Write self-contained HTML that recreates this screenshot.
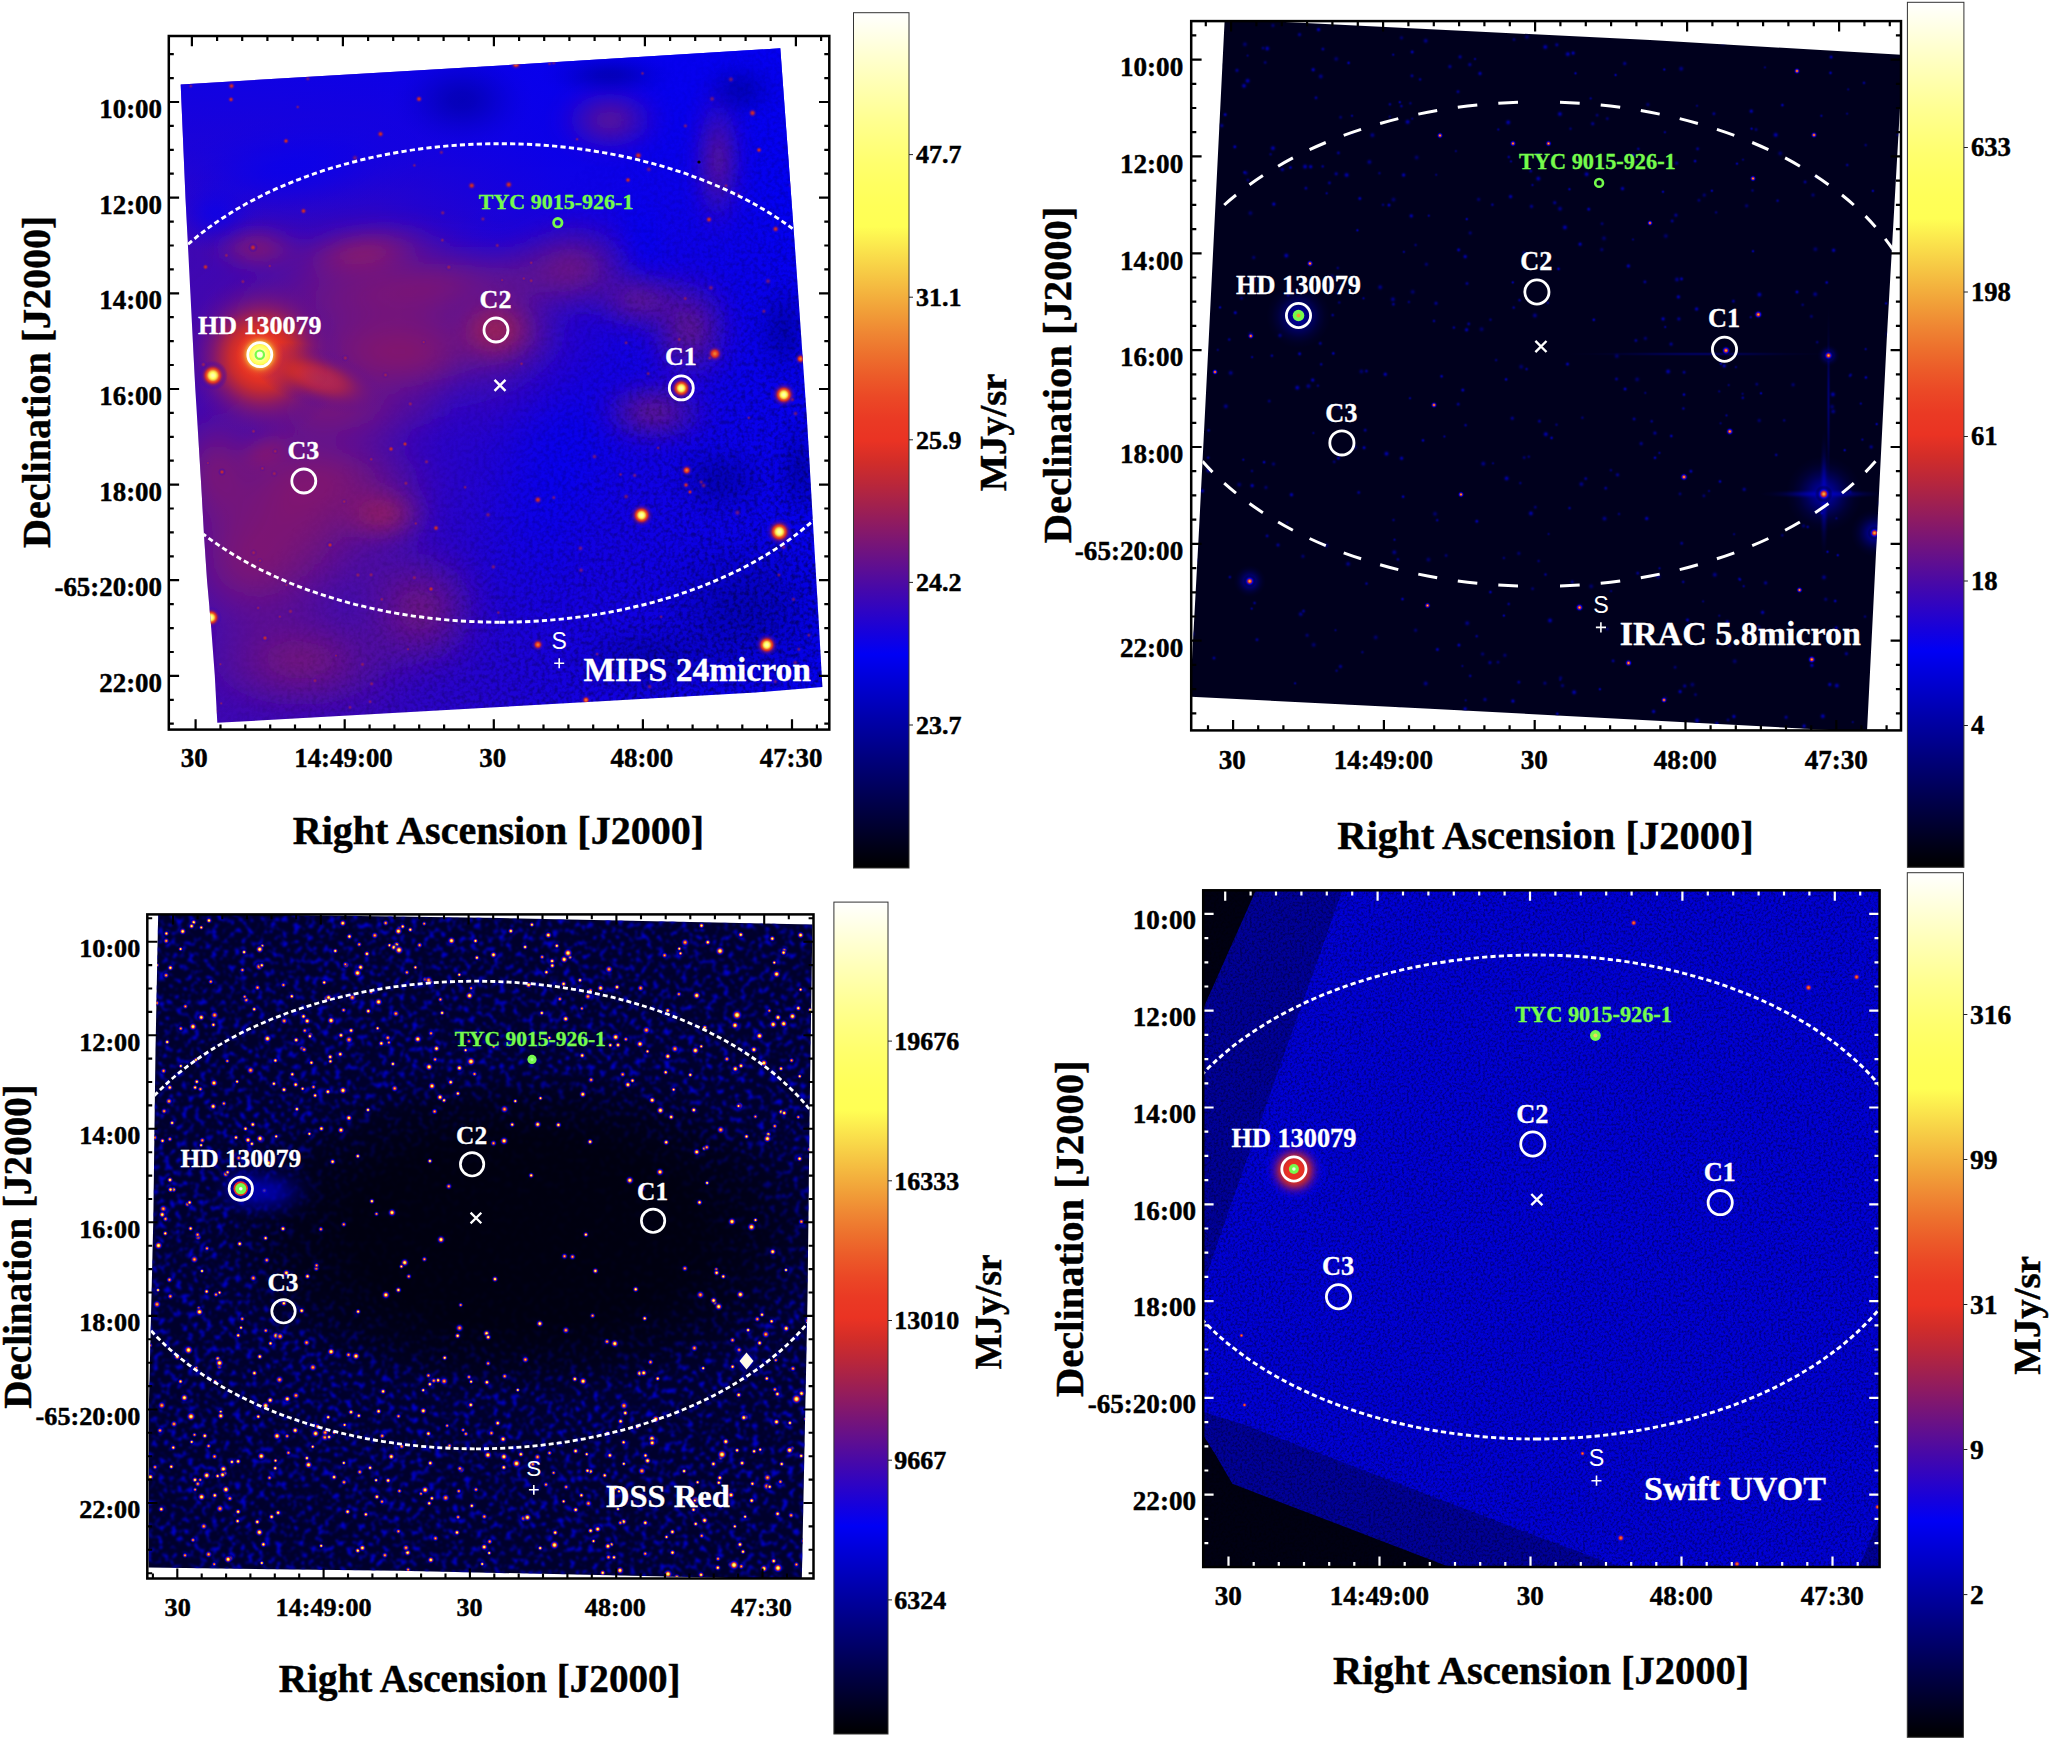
<!DOCTYPE html>
<html lang="en"><head><meta charset="utf-8"><title>HD 130079 field: MIPS, IRAC, DSS, Swift UVOT</title>
<style>html,body{margin:0;padding:0;background:#fff}svg{display:block}text{white-space:pre}</style></head>
<body>
<svg width="2050" height="1741" viewBox="0 0 2050 1741">
<defs>
<radialGradient id="gM"><stop offset="0" stop-color="#ffffb7" stop-opacity="1"/><stop offset="0.1" stop-color="#ffff9d" stop-opacity="1"/><stop offset="0.2" stop-color="#ffff65" stop-opacity="1"/><stop offset="0.3" stop-color="#f6c944" stop-opacity="1"/><stop offset="0.4" stop-color="#ec5e2a" stop-opacity="1"/><stop offset="0.5" stop-color="#d52e28" stop-opacity="1"/><stop offset="0.6" stop-color="#8e1b61" stop-opacity="0.8"/><stop offset="0.7" stop-color="#600f90" stop-opacity="0.6"/><stop offset="0.8" stop-color="#4608ab" stop-opacity="0.4"/><stop offset="0.9" stop-color="#3805b9" stop-opacity="0.2"/><stop offset="1" stop-color="#3204c0" stop-opacity="0"/></radialGradient>
<radialGradient id="gM2"><stop offset="0" stop-color="#ee8231" stop-opacity="1"/><stop offset="0.125" stop-color="#ed6e2d" stop-opacity="1"/><stop offset="0.25" stop-color="#ea4325" stop-opacity="1"/><stop offset="0.375" stop-color="#ce2c2c" stop-opacity="1"/><stop offset="0.5" stop-color="#901b60" stop-opacity="0.83"/><stop offset="0.625" stop-color="#620f8e" stop-opacity="0.62"/><stop offset="0.75" stop-color="#4608ab" stop-opacity="0.42"/><stop offset="0.875" stop-color="#3805ba" stop-opacity="0.21"/><stop offset="1" stop-color="#3104c0" stop-opacity="0"/></radialGradient>
<radialGradient id="gR"><stop offset="0" stop-color="#ce2c2c" stop-opacity="1"/><stop offset="0.167" stop-color="#bf2836" stop-opacity="1"/><stop offset="0.333" stop-color="#9a1e56" stop-opacity="1"/><stop offset="0.5" stop-color="#71137f" stop-opacity="0.83"/><stop offset="0.667" stop-color="#500ba1" stop-opacity="0.56"/><stop offset="0.833" stop-color="#3c06b5" stop-opacity="0.28"/><stop offset="1" stop-color="#3304bf" stop-opacity="0"/></radialGradient>
<radialGradient id="gP"><stop offset="0" stop-color="#951d5a" stop-opacity="0.6"/><stop offset="0.167" stop-color="#951d5a" stop-opacity="0.55"/><stop offset="0.333" stop-color="#951d5a" stop-opacity="0.42"/><stop offset="0.5" stop-color="#951d5a" stop-opacity="0.27"/><stop offset="0.667" stop-color="#951d5a" stop-opacity="0.14"/><stop offset="0.833" stop-color="#951d5a" stop-opacity="0.047"/><stop offset="1" stop-color="#951d5a" stop-opacity="0"/></radialGradient>
<radialGradient id="gP2"><stop offset="0" stop-color="#c42932" stop-opacity="0.55"/><stop offset="0.167" stop-color="#c42932" stop-opacity="0.5"/><stop offset="0.333" stop-color="#c42932" stop-opacity="0.39"/><stop offset="0.5" stop-color="#c42932" stop-opacity="0.24"/><stop offset="0.667" stop-color="#c42932" stop-opacity="0.12"/><stop offset="0.833" stop-color="#c42932" stop-opacity="0.043"/><stop offset="1" stop-color="#c42932" stop-opacity="0"/></radialGradient>
<radialGradient id="gD"><stop offset="0" stop-color="#00009c" stop-opacity="0.6"/><stop offset="0.167" stop-color="#00009c" stop-opacity="0.55"/><stop offset="0.333" stop-color="#00009c" stop-opacity="0.42"/><stop offset="0.5" stop-color="#00009c" stop-opacity="0.27"/><stop offset="0.667" stop-color="#00009c" stop-opacity="0.14"/><stop offset="0.833" stop-color="#00009c" stop-opacity="0.047"/><stop offset="1" stop-color="#00009c" stop-opacity="0"/></radialGradient>
<radialGradient id="gBl"><stop offset="0" stop-color="#0000f5" stop-opacity="0.8"/><stop offset="0.167" stop-color="#0000f5" stop-opacity="0.73"/><stop offset="0.333" stop-color="#0000f5" stop-opacity="0.56"/><stop offset="0.5" stop-color="#0000f5" stop-opacity="0.36"/><stop offset="0.667" stop-color="#0000f5" stop-opacity="0.18"/><stop offset="0.833" stop-color="#0000f5" stop-opacity="0.063"/><stop offset="1" stop-color="#0000f5" stop-opacity="0"/></radialGradient>
<radialGradient id="gHM"><stop offset="0" stop-color="#ea3d25" stop-opacity="1"/><stop offset="0.1" stop-color="#ea3a24" stop-opacity="1"/><stop offset="0.2" stop-color="#ea3624" stop-opacity="1"/><stop offset="0.3" stop-color="#df3025" stop-opacity="1"/><stop offset="0.4" stop-color="#c62a30" stop-opacity="1"/><stop offset="0.5" stop-color="#ac2345" stop-opacity="0.91"/><stop offset="0.6" stop-color="#941c5c" stop-opacity="0.73"/><stop offset="0.7" stop-color="#7f1771" stop-opacity="0.55"/><stop offset="0.8" stop-color="#6e1282" stop-opacity="0.36"/><stop offset="0.9" stop-color="#610f8f" stop-opacity="0.18"/><stop offset="1" stop-color="#580d98" stop-opacity="0"/></radialGradient>
<radialGradient id="gHC"><stop offset="0" stop-color="#ffffe3" stop-opacity="1"/><stop offset="0.1" stop-color="#ffffd3" stop-opacity="1"/><stop offset="0.2" stop-color="#ffffa9" stop-opacity="1"/><stop offset="0.3" stop-color="#ffff74" stop-opacity="1"/><stop offset="0.4" stop-color="#ffff55" stop-opacity="1"/><stop offset="0.5" stop-color="#f5c042" stop-opacity="1"/><stop offset="0.6" stop-color="#ef8833" stop-opacity="1"/><stop offset="0.7" stop-color="#ec622b" stop-opacity="0.75"/><stop offset="0.8" stop-color="#eb4b27" stop-opacity="0.5"/><stop offset="0.9" stop-color="#ea4125" stop-opacity="0.25"/><stop offset="1" stop-color="#ea3c24" stop-opacity="0"/></radialGradient>
<radialGradient id="gB"><stop offset="0" stop-color="#0000ba" stop-opacity="1"/><stop offset="0.2" stop-color="#0000a8" stop-opacity="1"/><stop offset="0.4" stop-color="#00007e" stop-opacity="0.8"/><stop offset="0.6" stop-color="#000052" stop-opacity="0.53"/><stop offset="0.8" stop-color="#000034" stop-opacity="0.27"/><stop offset="1" stop-color="#000025" stop-opacity="0"/></radialGradient>
<radialGradient id="gO"><stop offset="0" stop-color="#f4bb40" stop-opacity="1"/><stop offset="0.111" stop-color="#f09536" stop-opacity="1"/><stop offset="0.222" stop-color="#ea4125" stop-opacity="1"/><stop offset="0.333" stop-color="#8f1b61" stop-opacity="1"/><stop offset="0.444" stop-color="#1401df" stop-opacity="1"/><stop offset="0.556" stop-color="#0000a5" stop-opacity="0.81"/><stop offset="0.667" stop-color="#000062" stop-opacity="0.61"/><stop offset="0.778" stop-color="#00003c" stop-opacity="0.4"/><stop offset="0.889" stop-color="#000029" stop-opacity="0.2"/><stop offset="1" stop-color="#000021" stop-opacity="0"/></radialGradient>
<radialGradient id="gG"><stop offset="0" stop-color="#0000c4" stop-opacity="0.8"/><stop offset="0.167" stop-color="#0000c4" stop-opacity="0.72"/><stop offset="0.333" stop-color="#0000c4" stop-opacity="0.53"/><stop offset="0.5" stop-color="#0000c4" stop-opacity="0.32"/><stop offset="0.667" stop-color="#0000c4" stop-opacity="0.15"/><stop offset="0.833" stop-color="#0000c4" stop-opacity="0.048"/><stop offset="1" stop-color="#0000c4" stop-opacity="0"/></radialGradient>
<radialGradient id="gY"><stop offset="0" stop-color="#ffff95" stop-opacity="1"/><stop offset="0.111" stop-color="#ffff71" stop-opacity="1"/><stop offset="0.222" stop-color="#f7cc45" stop-opacity="1"/><stop offset="0.333" stop-color="#ea3b24" stop-opacity="1"/><stop offset="0.444" stop-color="#66108a" stop-opacity="1"/><stop offset="0.556" stop-color="#0000df" stop-opacity="0.81"/><stop offset="0.667" stop-color="#000089" stop-opacity="0.61"/><stop offset="0.778" stop-color="#000058" stop-opacity="0.4"/><stop offset="0.889" stop-color="#000040" stop-opacity="0.2"/><stop offset="1" stop-color="#000036" stop-opacity="0"/></radialGradient>
<radialGradient id="gY2"><stop offset="0" stop-color="#f7ce46" stop-opacity="1"/><stop offset="0.125" stop-color="#f2a33a" stop-opacity="1"/><stop offset="0.25" stop-color="#ea4225" stop-opacity="1"/><stop offset="0.375" stop-color="#871968" stop-opacity="1"/><stop offset="0.5" stop-color="#0900ea" stop-opacity="0.86"/><stop offset="0.625" stop-color="#00009e" stop-opacity="0.65"/><stop offset="0.75" stop-color="#000063" stop-opacity="0.43"/><stop offset="0.875" stop-color="#000045" stop-opacity="0.22"/><stop offset="1" stop-color="#000038" stop-opacity="0"/></radialGradient>
<radialGradient id="gS"><stop offset="0" stop-color="#ee8231" stop-opacity="1"/><stop offset="0.125" stop-color="#ec682c" stop-opacity="1"/><stop offset="0.25" stop-color="#ea3724" stop-opacity="1"/><stop offset="0.375" stop-color="#a2204f" stop-opacity="1"/><stop offset="0.5" stop-color="#500ba0" stop-opacity="0.91"/><stop offset="0.625" stop-color="#1401df" stop-opacity="0.68"/><stop offset="0.75" stop-color="#0000e4" stop-opacity="0.45"/><stop offset="0.875" stop-color="#0000d1" stop-opacity="0.23"/><stop offset="1" stop-color="#0000c8" stop-opacity="0"/></radialGradient>
<radialGradient id="gHR"><stop offset="0" stop-color="#ea3323" stop-opacity="1"/><stop offset="0.1" stop-color="#ea3323" stop-opacity="1"/><stop offset="0.2" stop-color="#ea3323" stop-opacity="1"/><stop offset="0.3" stop-color="#e33125" stop-opacity="1"/><stop offset="0.4" stop-color="#c72a30" stop-opacity="1"/><stop offset="0.5" stop-color="#9e1f52" stop-opacity="0.91"/><stop offset="0.6" stop-color="#6f1381" stop-opacity="0.73"/><stop offset="0.7" stop-color="#4207af" stop-opacity="0.55"/><stop offset="0.8" stop-color="#1e02d5" stop-opacity="0.36"/><stop offset="0.9" stop-color="#0400f0" stop-opacity="0.18"/><stop offset="1" stop-color="#0000e7" stop-opacity="0"/></radialGradient>
<linearGradient id="cbg" x1="0" y1="1" x2="0" y2="0"><stop offset="0" stop-color="#000000"/><stop offset="0.025" stop-color="#000018"/><stop offset="0.05" stop-color="#000031"/><stop offset="0.075" stop-color="#000049"/><stop offset="0.1" stop-color="#000062"/><stop offset="0.125" stop-color="#00007a"/><stop offset="0.15" stop-color="#000093"/><stop offset="0.175" stop-color="#0000ab"/><stop offset="0.2" stop-color="#0000c4"/><stop offset="0.225" stop-color="#0000dc"/><stop offset="0.25" stop-color="#0000f5"/><stop offset="0.275" stop-color="#1601dc"/><stop offset="0.3" stop-color="#2e04c4"/><stop offset="0.325" stop-color="#4508ab"/><stop offset="0.35" stop-color="#5d0e93"/><stop offset="0.375" stop-color="#74147b"/><stop offset="0.4" stop-color="#8c1a64"/><stop offset="0.425" stop-color="#a3214d"/><stop offset="0.45" stop-color="#bb2739"/><stop offset="0.475" stop-color="#d22d29"/><stop offset="0.5" stop-color="#ea3323"/><stop offset="0.525" stop-color="#ea3a24"/><stop offset="0.55" stop-color="#eb4826"/><stop offset="0.575" stop-color="#ec5b29"/><stop offset="0.6" stop-color="#ed702d"/><stop offset="0.625" stop-color="#ef8633"/><stop offset="0.65" stop-color="#f19e38"/><stop offset="0.675" stop-color="#f4b63f"/><stop offset="0.7" stop-color="#f7ce46"/><stop offset="0.725" stop-color="#fbe64d"/><stop offset="0.75" stop-color="#ffff54"/><stop offset="0.775" stop-color="#ffff58"/><stop offset="0.8" stop-color="#ffff61"/><stop offset="0.825" stop-color="#ffff6e"/><stop offset="0.85" stop-color="#ffff7f"/><stop offset="0.875" stop-color="#ffff91"/><stop offset="0.9" stop-color="#ffffa6"/><stop offset="0.925" stop-color="#ffffbb"/><stop offset="0.95" stop-color="#ffffd1"/><stop offset="0.975" stop-color="#ffffe8"/><stop offset="1" stop-color="#ffffff"/></linearGradient>
<clipPath id="frame1"><rect x="168.8" y="36" width="660.5" height="693.6"/></clipPath>
<clipPath id="clip1" clip-path="url(#frame1)"><polygon points="180.7,84.4 480,66.8 780.3,48.3 795.5,255 807,420 818.6,620 822.4,687 755.5,692.5 500,707 217.3,722.8 214.8,675.5 211,625 207,580 204,535 201.2,484.5 195.3,388.8 190.4,293.5 185.5,198"/></clipPath>
<clipPath id="frame2"><rect x="1191.2" y="21.1" width="709.8" height="709.3"/></clipPath>
<clipPath id="clip2" clip-path="url(#frame2)"><polygon points="1224.7,19 1650,40 1903,54.9 1886.7,340 1867,732 1430,708.7 1190,696.8 1199,530 1208.7,340"/></clipPath>
<clipPath id="frame3"><rect x="147.3" y="914.4" width="666.2" height="664.1"/></clipPath>
<clipPath id="clip3" clip-path="url(#frame3)"><polygon points="158.2,913 500,918 812.4,924.5 809.5,1120 807.5,1300 801.8,1580 712,1577.5 400,1570.8 148.6,1567.5 149,1400 153.3,1220 155.5,1050"/></clipPath>
<clipPath id="frame4"><rect x="1203.2" y="890.3" width="676.4" height="676.7"/></clipPath>
<clipPath id="clip4" clip-path="url(#frame4)"><polygon points="1203,890 1880,890 1880,1567 1203,1567"/></clipPath>
<linearGradient id="bg1" gradientUnits="userSpaceOnUse" x1="180" y1="0" x2="830" y2="0"><stop offset="0" stop-color="#3f07b2"/><stop offset="0.3" stop-color="#3505bc"/><stop offset="0.58" stop-color="#1601dc"/><stop offset="1" stop-color="#0400f0"/></linearGradient>
<linearGradient id="top1" gradientUnits="userSpaceOnUse" x1="0" y1="50" x2="0" y2="250"><stop offset="0" stop-color="#0400f0" stop-opacity="0.85"/><stop offset="0.5" stop-color="#0400f0" stop-opacity="0.6"/><stop offset="1" stop-color="#0400f0" stop-opacity="0"/></linearGradient>
<filter id="bl1" x="-0.1" y="-0.1" width="1.2" height="1.2"><feGaussianBlur stdDeviation="9"/></filter>
<filter id="n1" x="0" y="0" width="1" height="1" color-interpolation-filters="sRGB"><feTurbulence type="fractalNoise" baseFrequency="0.24" numOctaves="2" seed="4"/><feColorMatrix values="0 0 0 0 0.000  0 0 0 0 0.000  0 0 0 0 0.000  2.6 0 0 0 -1.05"/></filter>
<linearGradient id="n1m" gradientUnits="userSpaceOnUse" x1="470" y1="300" x2="800" y2="560"><stop offset="0" stop-color="#fff" stop-opacity="0"/><stop offset="1" stop-color="#fff" stop-opacity="1"/></linearGradient><mask id="m1"><rect x="160" y="30" width="680" height="710" fill="url(#n1m)"/></mask>
<filter id="n3" x="0" y="0" width="1" height="1" color-interpolation-filters="sRGB"><feTurbulence type="fractalNoise" baseFrequency="0.17" numOctaves="2" seed="7"/><feColorMatrix values="0 0 0 0 0.000  0 0 0 0 0.000  0 0 0 0 0.804  4.8 0 0 0 -2.5"/><feGaussianBlur stdDeviation="0.9"/></filter>
<radialGradient id="dk3"><stop offset="0" stop-color="#00000e" stop-opacity="0.97"/><stop offset="0.55" stop-color="#00000e" stop-opacity="0.93"/><stop offset="0.78" stop-color="#00000e" stop-opacity="0.6"/><stop offset="1" stop-color="#00000e" stop-opacity="0"/></radialGradient>
<filter id="n4" x="0" y="0" width="1" height="1" color-interpolation-filters="sRGB"><feTurbulence type="fractalNoise" baseFrequency="0.42" numOctaves="2" seed="9"/><feColorMatrix values="0 0 0 0 0.000  0 0 0 0 0.000  0 0 0 0 0.000  3.0 0 0 0 -1.25"/></filter>
</defs>
<rect width="2050" height="1741" fill="#fff"/>
<g id="panel1">
<polygon points="180.7,84.4 480,66.8 780.3,48.3 795.5,255 807,420 818.6,620 822.4,687 755.5,692.5 500,707 217.3,722.8 214.8,675.5 211,625 207,580 204,535 201.2,484.5 195.3,388.8 190.4,293.5 185.5,198" fill="url(#bg1)"/>
<g clip-path="url(#clip1)">
<rect x="170" y="40" width="660" height="215" fill="url(#top1)"/>
<ellipse cx="560" cy="470" rx="90" ry="190" fill="url(#gBl)" opacity="0.75" transform="rotate(20 560 470)"/>
<ellipse cx="470" cy="330" rx="50" ry="130" fill="url(#gBl)" opacity="0.75" transform="rotate(10 470 330)"/>
<ellipse cx="640" cy="250" rx="40" ry="90" fill="url(#gBl)" opacity="0.75" transform="rotate(0 640 250)"/>
<ellipse cx="290" cy="170" rx="150" ry="55" fill="url(#gBl)" opacity="0.75" transform="rotate(-8 290 170)"/>
<ellipse cx="215" cy="215" rx="50" ry="40" fill="url(#gBl)" opacity="0.75" transform="rotate(0 215 215)"/>
<ellipse cx="790" cy="200" rx="45" ry="110" fill="url(#gBl)" opacity="0.75" transform="rotate(0 790 200)"/>
<g filter="url(#bl1)">
<ellipse cx="400" cy="335" rx="250" ry="120" fill="url(#gP)"/>
<ellipse cx="300" cy="520" rx="150" ry="130" fill="url(#gP)"/>
<ellipse cx="363" cy="252" rx="95" ry="34" fill="url(#gP2)" transform="rotate(-8 363 252)"/>
<ellipse cx="257" cy="248" rx="55" ry="26" fill="url(#gP2)"/>
<ellipse cx="430" cy="285" rx="230" ry="48" fill="url(#gP)" transform="rotate(-4 430 285)"/>
<ellipse cx="400" cy="355" rx="120" ry="50" fill="url(#gP)"/>
<ellipse cx="500" cy="330" rx="70" ry="55" fill="url(#gP)"/>
<ellipse cx="573" cy="266" rx="80" ry="60" fill="url(#gP)"/>
<ellipse cx="718" cy="160" rx="30" ry="85" fill="url(#gP)"/>
<ellipse cx="495" cy="330" rx="45" ry="36" fill="url(#gP2)"/>
<ellipse cx="690" cy="330" rx="55" ry="70" fill="url(#gP)"/>
<ellipse cx="654" cy="412" rx="70" ry="40" fill="url(#gP)"/>
<ellipse cx="330" cy="410" rx="130" ry="50" fill="url(#gP)"/>
<ellipse cx="320" cy="480" rx="140" ry="70" fill="url(#gP)"/>
<ellipse cx="385" cy="515" rx="55" ry="36" fill="url(#gP2)"/>
<ellipse cx="250" cy="560" rx="100" ry="100" fill="url(#gP)"/>
<ellipse cx="300" cy="660" rx="130" ry="70" fill="url(#gP)"/>
<ellipse cx="420" cy="610" rx="80" ry="80" fill="url(#gP)"/>
<ellipse cx="265" cy="452" rx="35" ry="16" fill="url(#gP2)" transform="rotate(-20 265 452)"/>
<ellipse cx="215" cy="470" rx="50" ry="80" fill="url(#gP)"/>
<ellipse cx="610" cy="120" rx="60" ry="40" fill="url(#gP)"/>
<ellipse cx="640" cy="300" rx="60" ry="40" fill="url(#gP)"/>
</g>
<ellipse cx="462" cy="100" rx="70" ry="48" fill="url(#gD)"/>
<ellipse cx="745" cy="610" rx="110" ry="95" fill="url(#gD)"/>
<ellipse cx="783" cy="330" rx="35" ry="60" fill="url(#gD)"/>
<ellipse cx="650" cy="660" rx="90" ry="45" fill="url(#gD)"/>
<ellipse cx="720" cy="480" rx="60" ry="45" fill="url(#gD)"/>
<ellipse cx="800" cy="470" rx="30" ry="60" fill="url(#gD)"/>
<ellipse cx="610" cy="75" rx="70" ry="25" fill="url(#gD)"/>
<ellipse cx="740" cy="90" rx="45" ry="35" fill="url(#gD)"/>
<g mask="url(#m1)"><rect x="170" y="40" width="660" height="690" filter="url(#n1)" opacity="0.42"/></g>
<circle cx="262" cy="357" r="82" fill="url(#gHM)"/>
<ellipse cx="318" cy="378" rx="70" ry="30" fill="url(#gHM)" opacity="0.55" transform="rotate(18 318 378)"/>
<circle cx="259.8" cy="354.6" r="24" fill="url(#gHC)"/>
<circle cx="212.9" cy="375.5" r="15" fill="url(#gM)"/>
<circle cx="681.3" cy="388.2" r="12" fill="url(#gM)"/>
<circle cx="783.8" cy="394.7" r="12.5" fill="url(#gM)"/>
<circle cx="641.6" cy="515.2" r="12" fill="url(#gM)"/>
<circle cx="779.3" cy="531.8" r="13.5" fill="url(#gM)"/>
<circle cx="766.8" cy="644.9" r="11.5" fill="url(#gM)"/>
<circle cx="211" cy="617.5" r="11" fill="url(#gM)"/>
<circle cx="714.8" cy="353.7" r="9" fill="url(#gM2)"/>
<circle cx="800.6" cy="358.8" r="6" fill="url(#gM2)"/>
<circle cx="686.7" cy="470.3" r="6" fill="url(#gM2)"/>
<circle cx="537.9" cy="644.7" r="6.5" fill="url(#gM2)"/>
<circle cx="516" cy="64" r="6" fill="url(#gM2)"/>
<circle cx="586" cy="700" r="5" fill="url(#gM2)"/>
<circle cx="537.9" cy="499.8" r="4.5" fill="url(#gR)"/>
<circle cx="471.7" cy="185.6" r="4.5" fill="url(#gR)"/>
<circle cx="508.7" cy="184.6" r="4.5" fill="url(#gR)"/>
<circle cx="638.3" cy="155.5" r="4.5" fill="url(#gR)"/>
<circle cx="303.5" cy="211" r="4" fill="url(#gR)"/>
<circle cx="231.5" cy="86" r="4" fill="url(#gR)"/>
<circle cx="231" cy="99.5" r="3.5" fill="url(#gR)"/>
<circle cx="752.5" cy="113" r="4.5" fill="url(#gR)"/>
<circle cx="709" cy="219.5" r="4" fill="url(#gR)"/>
<circle cx="253" cy="247.5" r="5" fill="url(#gR)"/>
<circle cx="205.5" cy="267" r="4" fill="url(#gR)"/>
<circle cx="380.5" cy="134" r="4" fill="url(#gR)"/>
<circle cx="286" cy="141" r="3.5" fill="url(#gR)"/>
<circle cx="265" cy="638" r="4" fill="url(#gR)"/>
<circle cx="431" cy="589" r="4" fill="url(#gR)"/>
<circle cx="391" cy="449" r="4" fill="url(#gR)"/>
<circle cx="419" cy="99" r="4" fill="url(#gR)"/>
<circle cx="775.6" cy="229" r="4" fill="url(#gR)"/>
<circle cx="686" cy="485" r="3.5" fill="url(#gR)"/>
<circle cx="690" cy="492" r="3" fill="url(#gR)"/>
<circle cx="222" cy="472" r="4" fill="url(#gR)"/>
<circle cx="330" cy="545" r="4" fill="url(#gR)"/>
<circle cx="405" cy="444" r="3.5" fill="url(#gR)"/>
<circle cx="436" cy="528" r="4" fill="url(#gR)"/>
<circle cx="759" cy="150" r="3.5" fill="url(#gR)"/>
<circle cx="628" cy="180" r="3.5" fill="url(#gR)"/>
<circle cx="580.5" cy="548.3" r="3.7" fill="url(#gR)" opacity="0.5"/>
<circle cx="783.5" cy="547" r="3.9" fill="url(#gR)" opacity="0.5"/>
<circle cx="203.4" cy="364.6" r="3.9" fill="url(#gR)" opacity="0.5"/>
<circle cx="597.1" cy="654.1" r="2.7" fill="url(#gR)" opacity="0.5"/>
<circle cx="482.9" cy="219" r="3.3" fill="url(#gR)" opacity="0.5"/>
<circle cx="549.5" cy="63.7" r="2.8" fill="url(#gR)" opacity="0.5"/>
<circle cx="362.5" cy="664.4" r="3.6" fill="url(#gR)" opacity="0.5"/>
<circle cx="286.3" cy="585.1" r="2.7" fill="url(#gR)" opacity="0.5"/>
<circle cx="577.1" cy="139.3" r="2.5" fill="url(#gR)" opacity="0.5"/>
<circle cx="738.3" cy="194.3" r="2.8" fill="url(#gR)" opacity="0.5"/>
<circle cx="808.8" cy="635.2" r="2.9" fill="url(#gR)" opacity="0.5"/>
<circle cx="795.5" cy="413.6" r="3.5" fill="url(#gR)" opacity="0.5"/>
<circle cx="315" cy="680.7" r="3.5" fill="url(#gR)" opacity="0.5"/>
<circle cx="798.8" cy="649.3" r="2.9" fill="url(#gR)" opacity="0.5"/>
<circle cx="414.4" cy="165.4" r="2.7" fill="url(#gR)" opacity="0.5"/>
<circle cx="226.4" cy="255.4" r="3.4" fill="url(#gR)" opacity="0.5"/>
<circle cx="187.1" cy="505.8" r="3" fill="url(#gR)" opacity="0.5"/>
<circle cx="381.8" cy="599.3" r="3.2" fill="url(#gR)" opacity="0.5"/>
<circle cx="385.5" cy="375" r="3.6" fill="url(#gR)" opacity="0.5"/>
<circle cx="221.2" cy="703.4" r="2.5" fill="url(#gR)" opacity="0.5"/>
<circle cx="661.1" cy="616.8" r="2.5" fill="url(#gR)" opacity="0.5"/>
<circle cx="685.2" cy="298.5" r="3.4" fill="url(#gR)" opacity="0.5"/>
<circle cx="190.8" cy="86.1" r="2.8" fill="url(#gR)" opacity="0.5"/>
<circle cx="791.5" cy="185.7" r="3.6" fill="url(#gR)" opacity="0.5"/>
<circle cx="775.3" cy="681.5" r="3" fill="url(#gR)" opacity="0.5"/>
<circle cx="410.3" cy="403.9" r="3.7" fill="url(#gR)" opacity="0.5"/>
<circle cx="253.6" cy="552.7" r="3.7" fill="url(#gR)" opacity="0.5"/>
<circle cx="730.9" cy="79.4" r="3.9" fill="url(#gR)" opacity="0.5"/>
<circle cx="242.9" cy="281.6" r="3.4" fill="url(#gR)" opacity="0.5"/>
<circle cx="768" cy="281.1" r="3.9" fill="url(#gR)" opacity="0.5"/>
<circle cx="531.2" cy="262.8" r="3" fill="url(#gR)" opacity="0.5"/>
<circle cx="297.7" cy="107" r="2.7" fill="url(#gR)" opacity="0.5"/>
<circle cx="622.6" cy="717.8" r="2.7" fill="url(#gR)" opacity="0.5"/>
<circle cx="215.8" cy="711.2" r="3.3" fill="url(#gR)" opacity="0.5"/>
<circle cx="442.7" cy="212.8" r="3.4" fill="url(#gR)" opacity="0.5"/>
<circle cx="709.7" cy="358" r="3.1" fill="url(#gR)" opacity="0.5"/>
<circle cx="220.4" cy="664.2" r="2.5" fill="url(#gR)" opacity="0.5"/>
<circle cx="498.4" cy="612.6" r="2.7" fill="url(#gR)" opacity="0.5"/>
<circle cx="649.6" cy="686.6" r="3.4" fill="url(#gR)" opacity="0.5"/>
<circle cx="685.4" cy="125.9" r="3.2" fill="url(#gR)" opacity="0.5"/>
<circle cx="279.8" cy="616.7" r="2.9" fill="url(#gR)" opacity="0.5"/>
<circle cx="472.8" cy="719.5" r="3.8" fill="url(#gR)" opacity="0.5"/>
<circle cx="804.8" cy="356.6" r="3.2" fill="url(#gR)" opacity="0.5"/>
<circle cx="648.2" cy="373.6" r="2.9" fill="url(#gR)" opacity="0.5"/>
<circle cx="441.4" cy="152.4" r="3.1" fill="url(#gR)" opacity="0.5"/>
<circle cx="812.6" cy="693.3" r="3.4" fill="url(#gR)" opacity="0.5"/>
<circle cx="502.1" cy="280.1" r="2.6" fill="url(#gR)" opacity="0.5"/>
<circle cx="357.9" cy="575" r="3.8" fill="url(#gR)" opacity="0.5"/>
<circle cx="414.4" cy="577.7" r="3.7" fill="url(#gR)" opacity="0.5"/>
<circle cx="626.1" cy="496.6" r="3.6" fill="url(#gR)" opacity="0.5"/>
<circle cx="415.8" cy="523.5" r="2.9" fill="url(#gR)" opacity="0.5"/>
<circle cx="493.4" cy="566.9" r="3.5" fill="url(#gR)" opacity="0.5"/>
<circle cx="371.6" cy="683.8" r="3.5" fill="url(#gR)" opacity="0.5"/>
<circle cx="553.7" cy="62.7" r="3.3" fill="url(#gR)" opacity="0.5"/>
<circle cx="344.2" cy="501.6" r="3.2" fill="url(#gR)" opacity="0.5"/>
<circle cx="703.6" cy="485.5" r="3.7" fill="url(#gR)" opacity="0.5"/>
<circle cx="405.9" cy="483.3" r="3.6" fill="url(#gR)" opacity="0.5"/>
<circle cx="710.9" cy="287.8" r="3.8" fill="url(#gR)" opacity="0.5"/>
<circle cx="737.4" cy="512.7" r="4" fill="url(#gR)" opacity="0.5"/>
<circle cx="792.4" cy="399.6" r="3.3" fill="url(#gR)" opacity="0.5"/>
<circle cx="290.5" cy="611.4" r="3.9" fill="url(#gR)" opacity="0.5"/>
<circle cx="488" cy="514.8" r="3.6" fill="url(#gR)" opacity="0.5"/>
<circle cx="648.8" cy="169.3" r="3.7" fill="url(#gR)" opacity="0.5"/>
<circle cx="553.8" cy="497.6" r="3.1" fill="url(#gR)" opacity="0.5"/>
<circle cx="581.1" cy="570.2" r="3.5" fill="url(#gR)" opacity="0.5"/>
<circle cx="642.5" cy="73.4" r="2.7" fill="url(#gR)" opacity="0.5"/>
<circle cx="465.1" cy="487.3" r="2.8" fill="url(#gR)" opacity="0.5"/>
<circle cx="620.6" cy="474.5" r="2.6" fill="url(#gR)" opacity="0.5"/>
<circle cx="484.5" cy="205.5" r="2.6" fill="url(#gR)" opacity="0.5"/>
<circle cx="269.8" cy="266" r="2.8" fill="url(#gR)" opacity="0.5"/>
<circle cx="307.8" cy="78.7" r="3.2" fill="url(#gR)" opacity="0.5"/>
<circle cx="426.5" cy="461.8" r="3.4" fill="url(#gR)" opacity="0.5"/>
<circle cx="336" cy="655.6" r="2.5" fill="url(#gR)" opacity="0.5"/>
<circle cx="442.4" cy="240.2" r="3.1" fill="url(#gR)" opacity="0.5"/>
<circle cx="258.1" cy="607.9" r="3.1" fill="url(#gR)" opacity="0.5"/>
<circle cx="207.9" cy="463" r="2.6" fill="url(#gR)" opacity="0.5"/>
<circle cx="531.2" cy="280.7" r="3.4" fill="url(#gR)" opacity="0.5"/>
<circle cx="793.5" cy="599.3" r="3.1" fill="url(#gR)" opacity="0.5"/>
<circle cx="701.2" cy="482.1" r="3.1" fill="url(#gR)" opacity="0.5"/>
<circle cx="275.2" cy="451.3" r="3.3" fill="url(#gR)" opacity="0.5"/>
<circle cx="792.8" cy="698.7" r="3.4" fill="url(#gR)" opacity="0.5"/>
<circle cx="408" cy="649.2" r="2.5" fill="url(#gR)" opacity="0.5"/>
<circle cx="253.5" cy="431.3" r="3.4" fill="url(#gR)" opacity="0.5"/>
<circle cx="274.3" cy="473.6" r="3.8" fill="url(#gR)" opacity="0.5"/>
<circle cx="423.7" cy="342.1" r="2.8" fill="url(#gR)" opacity="0.5"/>
<circle cx="370.1" cy="701.7" r="3.1" fill="url(#gR)" opacity="0.5"/>
<circle cx="795.3" cy="662.6" r="3.4" fill="url(#gR)" opacity="0.5"/>
<circle cx="350" cy="707.4" r="3.2" fill="url(#gR)" opacity="0.5"/>
<circle cx="448.8" cy="267.2" r="4" fill="url(#gR)" opacity="0.5"/>
<circle cx="497.3" cy="245.5" r="3.2" fill="url(#gR)" opacity="0.5"/>
<circle cx="262.4" cy="468.4" r="3.2" fill="url(#gR)" opacity="0.5"/>
<circle cx="371.1" cy="574.8" r="3.7" fill="url(#gR)" opacity="0.5"/>
<circle cx="193.4" cy="409.2" r="2.9" fill="url(#gR)" opacity="0.5"/>
<circle cx="778.9" cy="575" r="2.9" fill="url(#gR)" opacity="0.5"/>
<circle cx="355" cy="157.9" r="4" fill="url(#gR)" opacity="0.5"/>
<circle cx="371.2" cy="459.3" r="3.2" fill="url(#gR)" opacity="0.5"/>
<circle cx="594.5" cy="456.6" r="3.6" fill="url(#gR)" opacity="0.5"/>
<circle cx="260" cy="560.7" r="3" fill="url(#gR)" opacity="0.5"/>
<circle cx="523.8" cy="278.5" r="2.9" fill="url(#gR)" opacity="0.5"/>
<circle cx="521.5" cy="363.8" r="3" fill="url(#gR)" opacity="0.5"/>
<circle cx="658.1" cy="447.9" r="2.6" fill="url(#gR)" opacity="0.5"/>
<circle cx="345.3" cy="358" r="3.9" fill="url(#gR)" opacity="0.5"/>
<circle cx="748.8" cy="417.8" r="2.5" fill="url(#gR)" opacity="0.5"/>
<circle cx="679.3" cy="339.4" r="3.4" fill="url(#gR)" opacity="0.5"/>
<circle cx="634.7" cy="475.4" r="3.2" fill="url(#gR)" opacity="0.5"/>
<circle cx="763.9" cy="311.3" r="3.1" fill="url(#gR)" opacity="0.5"/>
<circle cx="726" cy="185.7" r="2.9" fill="url(#gR)" opacity="0.5"/>
<circle cx="712.1" cy="98.9" r="3.8" fill="url(#gR)" opacity="0.5"/>
<circle cx="626.1" cy="342.8" r="2.9" fill="url(#gR)" opacity="0.5"/>
<circle cx="680.8" cy="660.6" r="2.7" fill="url(#gR)" opacity="0.5"/>
<circle cx="699" cy="162" r="1.6" fill="#000"/>
</g>
<path d="M500 622.2A382.8 239.2 0 0 0 882.8 382.9A382.8 239.2 0 0 0 500 143.7A382.8 239.2 0 0 0 117.2 382.9A382.8 239.2 0 0 0 500 622.2" fill="none" stroke="#fff" stroke-width="2.9" stroke-dasharray="5.2 3.2" clip-path="url(#clip1)"/>
<path d="M494.5 379.8l11 11M494.5 390.8l11 -11" stroke="#fff" stroke-width="2.4" fill="none"/>
<circle cx="259.8" cy="354.7" r="12" fill="none" stroke="#fff" stroke-width="2.8"/>
<circle cx="259.8" cy="354.7" r="4.2" fill="none" stroke="#75fb4c" stroke-width="2.2"/>
<text x="259.8" y="333.7" font-family="'Liberation Serif', serif" font-size="26" font-weight="bold" fill="#fff" text-anchor="middle" stroke="#fff" stroke-width="0.3">HD 130079</text>
<circle cx="681.3" cy="387.9" r="12" fill="none" stroke="#fff" stroke-width="2.8"/>
<text x="680.8" y="365.4" font-family="'Liberation Serif', serif" font-size="26" font-weight="bold" fill="#fff" text-anchor="middle" stroke="#fff" stroke-width="0.3">C1</text>
<circle cx="496" cy="330" r="12" fill="none" stroke="#fff" stroke-width="2.8"/>
<text x="495.5" y="307.5" font-family="'Liberation Serif', serif" font-size="26" font-weight="bold" fill="#fff" text-anchor="middle" stroke="#fff" stroke-width="0.3">C2</text>
<circle cx="303.8" cy="481" r="12" fill="none" stroke="#fff" stroke-width="2.8"/>
<text x="303.3" y="458.5" font-family="'Liberation Serif', serif" font-size="26" font-weight="bold" fill="#fff" text-anchor="middle" stroke="#fff" stroke-width="0.3">C3</text>
<circle cx="557.8" cy="222.7" r="4.2" fill="none" stroke="#75fb4c" stroke-width="2.8"/>
<text x="556.1" y="209" font-family="'Liberation Serif', serif" font-size="22" font-weight="bold" fill="#75fb4c" text-anchor="middle" stroke="#75fb4c" stroke-width="0.3">TYC 9015-926-1</text>
<path d="M554.2 663.2h10M559.2 658.2v10" stroke="#fff" stroke-width="1.6" fill="none"/>
<text x="559.2" y="648.6" font-family="'Liberation Sans', sans-serif" font-size="23" font-weight="normal" fill="#fff" text-anchor="middle">S</text>
<text x="583.5" y="680.7" font-family="'Liberation Serif', serif" font-size="33.5" font-weight="bold" fill="#fff" text-anchor="start" stroke="#fff" stroke-width="0.3">MIPS 24micron</text>
<path d="M168.8 54.2h5M829.3 54.2h-5M168.8 78.1h5M829.3 78.1h-5M168.8 102h10.3M829.3 102h-10.3M168.8 125.9h5M829.3 125.9h-5M168.8 149.8h5M829.3 149.8h-5M168.8 173.7h5M829.3 173.7h-5M168.8 197.7h10.3M829.3 197.7h-10.3M168.8 221.6h5M829.3 221.6h-5M168.8 245.5h5M829.3 245.5h-5M168.8 269.4h5M829.3 269.4h-5M168.8 293.3h10.3M829.3 293.3h-10.3M168.8 317.2h5M829.3 317.2h-5M168.8 341.1h5M829.3 341.1h-5M168.8 365h5M829.3 365h-5M168.8 389h10.3M829.3 389h-10.3M168.8 412.9h5M829.3 412.9h-5M168.8 436.8h5M829.3 436.8h-5M168.8 460.7h5M829.3 460.7h-5M168.8 484.6h10.3M829.3 484.6h-10.3M168.8 508.5h5M829.3 508.5h-5M168.8 532.4h5M829.3 532.4h-5M168.8 556.3h5M829.3 556.3h-5M168.8 580.2h10.3M829.3 580.2h-10.3M168.8 604.2h5M829.3 604.2h-5M168.8 628.1h5M829.3 628.1h-5M168.8 652h5M829.3 652h-5M168.8 675.9h10.3M829.3 675.9h-10.3M168.8 699.8h5M829.3 699.8h-5M168.8 723.7h5M829.3 723.7h-5M191.9 36v10.3M195.6 729.6v-10.3M217.1 36v5M220.5 729.6v-5M242.2 36v5M245.3 729.6v-5M267.4 36v5M270.2 729.6v-5M292.6 36v5M295 729.6v-5M317.7 36v5M319.9 729.6v-5M342.9 36v10.3M344.7 729.6v-10.3M368.1 36v5M369.6 729.6v-5M393.2 36v5M394.4 729.6v-5M418.4 36v5M419.2 729.6v-5M443.6 36v5M444.1 729.6v-5M468.7 36v5M468.9 729.6v-5M493.9 36v10.3M493.8 729.6v-10.3M519.1 36v5M518.6 729.6v-5M544.2 36v5M543.5 729.6v-5M569.4 36v5M568.4 729.6v-5M594.6 36v5M593.2 729.6v-5M619.7 36v5M618 729.6v-5M644.9 36v10.3M642.9 729.6v-10.3M670.1 36v5M667.8 729.6v-5M695.2 36v5M692.6 729.6v-5M720.4 36v5M717.5 729.6v-5M745.6 36v5M742.3 729.6v-5M770.7 36v5M767.1 729.6v-5M795.9 36v10.3M792 729.6v-10.3M821.1 36v5M816.9 729.6v-5" stroke="#000" stroke-width="2.2" fill="none"/>
<rect x="168.8" y="36" width="660.5" height="693.6" fill="none" stroke="#000" stroke-width="2.5"/>
<text x="162" y="118.1" font-family="'Liberation Serif', serif" font-size="26.9" font-weight="bold" fill="#000" text-anchor="end" stroke="#000" stroke-width="0.45">10:00</text>
<text x="162" y="213.8" font-family="'Liberation Serif', serif" font-size="26.9" font-weight="bold" fill="#000" text-anchor="end" stroke="#000" stroke-width="0.45">12:00</text>
<text x="162" y="309.4" font-family="'Liberation Serif', serif" font-size="26.9" font-weight="bold" fill="#000" text-anchor="end" stroke="#000" stroke-width="0.45">14:00</text>
<text x="162" y="405.1" font-family="'Liberation Serif', serif" font-size="26.9" font-weight="bold" fill="#000" text-anchor="end" stroke="#000" stroke-width="0.45">16:00</text>
<text x="162" y="500.7" font-family="'Liberation Serif', serif" font-size="26.9" font-weight="bold" fill="#000" text-anchor="end" stroke="#000" stroke-width="0.45">18:00</text>
<text x="162" y="596.4" font-family="'Liberation Serif', serif" font-size="26.9" font-weight="bold" fill="#000" text-anchor="end" stroke="#000" stroke-width="0.45">-65:20:00</text>
<text x="162" y="692" font-family="'Liberation Serif', serif" font-size="26.9" font-weight="bold" fill="#000" text-anchor="end" stroke="#000" stroke-width="0.45">22:00</text>
<text x="194.3" y="766.9" font-family="'Liberation Serif', serif" font-size="26.9" font-weight="bold" fill="#000" text-anchor="middle" stroke="#000" stroke-width="0.45">30</text>
<text x="343.5" y="766.9" font-family="'Liberation Serif', serif" font-size="26.9" font-weight="bold" fill="#000" text-anchor="middle" stroke="#000" stroke-width="0.45">14:49:00</text>
<text x="492.7" y="766.9" font-family="'Liberation Serif', serif" font-size="26.9" font-weight="bold" fill="#000" text-anchor="middle" stroke="#000" stroke-width="0.45">30</text>
<text x="641.9" y="766.9" font-family="'Liberation Serif', serif" font-size="26.9" font-weight="bold" fill="#000" text-anchor="middle" stroke="#000" stroke-width="0.45">48:00</text>
<text x="791.1" y="766.9" font-family="'Liberation Serif', serif" font-size="26.9" font-weight="bold" fill="#000" text-anchor="middle" stroke="#000" stroke-width="0.45">47:30</text>
<text x="498.4" y="844.2" font-family="'Liberation Serif', serif" font-size="40" font-weight="bold" fill="#000" text-anchor="middle" stroke="#000" stroke-width="0.45">Right Ascension [J2000]</text>
<text x="0" y="0" transform="translate(50.3,381.8) rotate(-90)" font-family="'Liberation Serif', serif" font-size="40" font-weight="bold" fill="#000" text-anchor="middle" stroke="#000" stroke-width="0.45">Declination [J2000]</text>
<rect x="853.5" y="12.7" width="55.5" height="855.3" fill="url(#cbg)" stroke="#333" stroke-width="1"/>
<path d="M909 154.6h4" stroke="#222" stroke-width="1"/>
<text x="916" y="163.3" font-family="'Liberation Serif', serif" font-size="26" font-weight="bold" fill="#000" text-anchor="start" stroke="#000" stroke-width="0.45">47.7</text>
<path d="M909 297.2h4" stroke="#222" stroke-width="1"/>
<text x="916" y="305.9" font-family="'Liberation Serif', serif" font-size="26" font-weight="bold" fill="#000" text-anchor="start" stroke="#000" stroke-width="0.45">31.1</text>
<path d="M909 439.8h4" stroke="#222" stroke-width="1"/>
<text x="916" y="448.5" font-family="'Liberation Serif', serif" font-size="26" font-weight="bold" fill="#000" text-anchor="start" stroke="#000" stroke-width="0.45">25.9</text>
<path d="M909 582.4h4" stroke="#222" stroke-width="1"/>
<text x="916" y="591.1" font-family="'Liberation Serif', serif" font-size="26" font-weight="bold" fill="#000" text-anchor="start" stroke="#000" stroke-width="0.45">24.2</text>
<path d="M909 725h4" stroke="#222" stroke-width="1"/>
<text x="916" y="733.7" font-family="'Liberation Serif', serif" font-size="26" font-weight="bold" fill="#000" text-anchor="start" stroke="#000" stroke-width="0.45">23.7</text>
<text x="0" y="0" transform="translate(1005.6,432.5) rotate(-90)" font-family="'Liberation Serif', serif" font-size="38.5" font-weight="bold" fill="#000" text-anchor="middle" stroke="#000" stroke-width="0.45">MJy/sr</text>
</g>
<g id="panel2">
<polygon points="1224.7,19 1650,40 1903,54.9 1886.7,340 1867,732 1430,708.7 1190,696.8 1199,530 1208.7,340" fill="#00001d" clip-path="url(#frame2)"/>
<g clip-path="url(#clip2)">
<circle cx="1512.3" cy="418.3" r="4" fill="url(#gB)" opacity="0.6"/>
<circle cx="1551.6" cy="437.9" r="3.2" fill="url(#gB)" opacity="0.8"/>
<circle cx="1528.8" cy="456.7" r="3.2" fill="url(#gB)" opacity="0.45"/>
<circle cx="1508.2" cy="122.4" r="4.6" fill="url(#gB)" opacity="0.8"/>
<circle cx="1641.2" cy="443.6" r="4" fill="url(#gB)" opacity="0.6"/>
<circle cx="1655" cy="457.8" r="3.2" fill="url(#gB)" opacity="0.8"/>
<circle cx="1202.6" cy="396.1" r="2.8" fill="url(#gB)" opacity="0.45"/>
<circle cx="1326.7" cy="193.3" r="2.8" fill="url(#gB)" opacity="0.6"/>
<circle cx="1423" cy="440.4" r="3.2" fill="url(#gB)" opacity="0.8"/>
<circle cx="1357.4" cy="230.3" r="2.8" fill="url(#gB)" opacity="0.8"/>
<circle cx="1252.2" cy="485.6" r="4" fill="url(#gB)" opacity="0.8"/>
<circle cx="1896.9" cy="616.9" r="3.6" fill="url(#gB)" opacity="0.6"/>
<circle cx="1728.7" cy="385.1" r="2.8" fill="url(#gB)" opacity="0.45"/>
<circle cx="1590.7" cy="98.4" r="2.8" fill="url(#gB)" opacity="0.6"/>
<circle cx="1465.7" cy="700.3" r="2.8" fill="url(#gB)" opacity="0.45"/>
<circle cx="1340.5" cy="666.5" r="4" fill="url(#gB)" opacity="0.6"/>
<circle cx="1886.1" cy="303.4" r="2.8" fill="url(#gB)" opacity="0.8"/>
<circle cx="1637.7" cy="573.2" r="3.6" fill="url(#gB)" opacity="0.6"/>
<circle cx="1253.7" cy="257.5" r="4" fill="url(#gB)" opacity="0.45"/>
<circle cx="1287.3" cy="522.6" r="2.8" fill="url(#gB)" opacity="0.45"/>
<circle cx="1521.2" cy="366.7" r="4.6" fill="url(#gB)" opacity="0.45"/>
<circle cx="1508.8" cy="157" r="3.2" fill="url(#gB)" opacity="0.6"/>
<circle cx="1647.8" cy="104.5" r="4" fill="url(#gB)" opacity="0.45"/>
<circle cx="1192.3" cy="633.9" r="4.6" fill="url(#gB)" opacity="0.6"/>
<circle cx="1898.5" cy="35.9" r="3.2" fill="url(#gB)" opacity="0.6"/>
<circle cx="1897.1" cy="448.2" r="4.6" fill="url(#gB)" opacity="0.45"/>
<circle cx="1221.8" cy="125.6" r="4" fill="url(#gB)" opacity="0.6"/>
<circle cx="1198.8" cy="454.1" r="3.6" fill="url(#gB)" opacity="0.6"/>
<circle cx="1244" cy="85.8" r="4.6" fill="url(#gB)" opacity="0.8"/>
<circle cx="1364.1" cy="447.7" r="3.6" fill="url(#gB)" opacity="0.8"/>
<circle cx="1512.9" cy="701.1" r="4" fill="url(#gB)" opacity="0.8"/>
<circle cx="1288.1" cy="295.4" r="3.2" fill="url(#gB)" opacity="0.6"/>
<circle cx="1835.2" cy="601" r="3.2" fill="url(#gB)" opacity="0.8"/>
<circle cx="1326.4" cy="545.5" r="4.6" fill="url(#gB)" opacity="0.45"/>
<circle cx="1678.4" cy="296.9" r="4" fill="url(#gB)" opacity="0.8"/>
<circle cx="1247.6" cy="55.6" r="2.8" fill="url(#gB)" opacity="0.45"/>
<circle cx="1554.7" cy="202.7" r="4" fill="url(#gB)" opacity="0.6"/>
<circle cx="1489.9" cy="662.6" r="4" fill="url(#gB)" opacity="0.6"/>
<circle cx="1560.2" cy="679.9" r="2.8" fill="url(#gB)" opacity="0.45"/>
<circle cx="1353.7" cy="418" r="4.6" fill="url(#gB)" opacity="0.8"/>
<circle cx="1244.5" cy="172.4" r="3.2" fill="url(#gB)" opacity="0.8"/>
<circle cx="1203.7" cy="212.6" r="4" fill="url(#gB)" opacity="0.45"/>
<circle cx="1234.8" cy="146.8" r="3.6" fill="url(#gB)" opacity="0.8"/>
<circle cx="1597.1" cy="115.2" r="3.6" fill="url(#gB)" opacity="0.45"/>
<circle cx="1822.8" cy="716.2" r="4.6" fill="url(#gB)" opacity="0.8"/>
<circle cx="1862.4" cy="439.6" r="2.8" fill="url(#gB)" opacity="0.6"/>
<circle cx="1836.4" cy="518.3" r="2.8" fill="url(#gB)" opacity="0.45"/>
<circle cx="1615.6" cy="75" r="2.8" fill="url(#gB)" opacity="0.8"/>
<circle cx="1412.2" cy="118.7" r="2.8" fill="url(#gB)" opacity="0.45"/>
<circle cx="1512.8" cy="282.4" r="2.8" fill="url(#gB)" opacity="0.8"/>
<circle cx="1713.9" cy="113.7" r="3.6" fill="url(#gB)" opacity="0.6"/>
<circle cx="1252.1" cy="357.1" r="2.8" fill="url(#gB)" opacity="0.6"/>
<circle cx="1860.5" cy="43.4" r="4" fill="url(#gB)" opacity="0.8"/>
<circle cx="1202.3" cy="490.9" r="4" fill="url(#gB)" opacity="0.8"/>
<circle cx="1200.8" cy="73.2" r="2.8" fill="url(#gB)" opacity="0.8"/>
<circle cx="1273.8" cy="204.1" r="4" fill="url(#gB)" opacity="0.8"/>
<circle cx="1425.7" cy="683.5" r="4.6" fill="url(#gB)" opacity="0.6"/>
<circle cx="1503.9" cy="615.6" r="2.8" fill="url(#gB)" opacity="0.8"/>
<circle cx="1723.1" cy="43.1" r="4.6" fill="url(#gB)" opacity="0.45"/>
<circle cx="1532.5" cy="185" r="2.8" fill="url(#gB)" opacity="0.6"/>
<circle cx="1744.2" cy="489.4" r="4" fill="url(#gB)" opacity="0.6"/>
<circle cx="1826.7" cy="282.5" r="3.2" fill="url(#gB)" opacity="0.8"/>
<circle cx="1625.1" cy="389" r="3.6" fill="url(#gB)" opacity="0.8"/>
<circle cx="1850.7" cy="374.8" r="3.2" fill="url(#gB)" opacity="0.6"/>
<circle cx="1478.6" cy="199.4" r="4" fill="url(#gB)" opacity="0.45"/>
<circle cx="1815.2" cy="294.2" r="4.6" fill="url(#gB)" opacity="0.6"/>
<circle cx="1340.6" cy="117.3" r="3.6" fill="url(#gB)" opacity="0.45"/>
<circle cx="1695.5" cy="694.6" r="3.6" fill="url(#gB)" opacity="0.45"/>
<circle cx="1271.9" cy="355.7" r="3.2" fill="url(#gB)" opacity="0.6"/>
<circle cx="1462.8" cy="390.1" r="3.6" fill="url(#gB)" opacity="0.8"/>
<circle cx="1786.1" cy="717.3" r="4" fill="url(#gB)" opacity="0.6"/>
<circle cx="1244.9" cy="44.3" r="4.6" fill="url(#gB)" opacity="0.45"/>
<circle cx="1672.2" cy="221" r="3.6" fill="url(#gB)" opacity="0.6"/>
<circle cx="1651.7" cy="421.3" r="3.2" fill="url(#gB)" opacity="0.6"/>
<circle cx="1514" cy="39.5" r="3.6" fill="url(#gB)" opacity="0.45"/>
<circle cx="1743.7" cy="586.2" r="2.8" fill="url(#gB)" opacity="0.6"/>
<circle cx="1269.2" cy="401.1" r="3.6" fill="url(#gB)" opacity="0.45"/>
<circle cx="1676.6" cy="163.1" r="4" fill="url(#gB)" opacity="0.6"/>
<circle cx="1318.5" cy="29.6" r="4" fill="url(#gB)" opacity="0.8"/>
<circle cx="1697.6" cy="148.8" r="3.6" fill="url(#gB)" opacity="0.6"/>
<circle cx="1574.1" cy="692.3" r="4.6" fill="url(#gB)" opacity="0.8"/>
<circle cx="1897.7" cy="134.7" r="3.2" fill="url(#gB)" opacity="0.45"/>
<circle cx="1482.6" cy="654" r="4" fill="url(#gB)" opacity="0.45"/>
<circle cx="1511" cy="161.4" r="2.8" fill="url(#gB)" opacity="0.6"/>
<circle cx="1581.4" cy="484.1" r="4.6" fill="url(#gB)" opacity="0.6"/>
<circle cx="1520.3" cy="483.1" r="3.2" fill="url(#gB)" opacity="0.45"/>
<circle cx="1703.1" cy="601.4" r="2.8" fill="url(#gB)" opacity="0.45"/>
<circle cx="1363.5" cy="298.3" r="2.8" fill="url(#gB)" opacity="0.6"/>
<circle cx="1572.2" cy="581.9" r="3.6" fill="url(#gB)" opacity="0.6"/>
<circle cx="1836.3" cy="627.9" r="3.6" fill="url(#gB)" opacity="0.8"/>
<circle cx="1250.6" cy="334.2" r="4.6" fill="url(#gB)" opacity="0.6"/>
<circle cx="1735.9" cy="367.1" r="2.8" fill="url(#gB)" opacity="0.45"/>
<circle cx="1764.9" cy="67.4" r="2.8" fill="url(#gB)" opacity="0.45"/>
<circle cx="1569.5" cy="508.1" r="3.2" fill="url(#gB)" opacity="0.6"/>
<circle cx="1297.3" cy="387.7" r="4.6" fill="url(#gB)" opacity="0.8"/>
<circle cx="1680.1" cy="691.6" r="4" fill="url(#gB)" opacity="0.8"/>
<circle cx="1864" cy="82.9" r="3.2" fill="url(#gB)" opacity="0.6"/>
<circle cx="1564.9" cy="227.4" r="4.6" fill="url(#gB)" opacity="0.8"/>
<circle cx="1308.4" cy="386.1" r="4.6" fill="url(#gB)" opacity="0.6"/>
<circle cx="1412.7" cy="291.9" r="4.6" fill="url(#gB)" opacity="0.45"/>
<circle cx="1407.6" cy="121.9" r="4.6" fill="url(#gB)" opacity="0.8"/>
<circle cx="1385.3" cy="374.3" r="4" fill="url(#gB)" opacity="0.8"/>
<circle cx="1272.9" cy="25.5" r="4" fill="url(#gB)" opacity="0.45"/>
<circle cx="1573.1" cy="53.1" r="4" fill="url(#gB)" opacity="0.8"/>
<circle cx="1759.2" cy="420.5" r="4" fill="url(#gB)" opacity="0.45"/>
<circle cx="1681.2" cy="68.7" r="4.6" fill="url(#gB)" opacity="0.6"/>
<circle cx="1485" cy="699.5" r="4" fill="url(#gB)" opacity="0.6"/>
<circle cx="1366.4" cy="371.1" r="3.6" fill="url(#gB)" opacity="0.6"/>
<circle cx="1829.8" cy="684.5" r="4" fill="url(#gB)" opacity="0.8"/>
<circle cx="1416.6" cy="157.5" r="4.6" fill="url(#gB)" opacity="0.45"/>
<circle cx="1847.1" cy="113.7" r="2.8" fill="url(#gB)" opacity="0.45"/>
<circle cx="1329.4" cy="182.9" r="3.6" fill="url(#gB)" opacity="0.6"/>
<circle cx="1704.3" cy="195.1" r="4" fill="url(#gB)" opacity="0.45"/>
<circle cx="1545.8" cy="434.2" r="4.6" fill="url(#gB)" opacity="0.8"/>
<circle cx="1369.4" cy="162" r="4.6" fill="url(#gB)" opacity="0.6"/>
<circle cx="1208.5" cy="470.2" r="4.6" fill="url(#gB)" opacity="0.8"/>
<circle cx="1305.1" cy="166.6" r="4.6" fill="url(#gB)" opacity="0.8"/>
<circle cx="1346.6" cy="175" r="4.6" fill="url(#gB)" opacity="0.8"/>
<circle cx="1607.3" cy="118.6" r="3.6" fill="url(#gB)" opacity="0.45"/>
<circle cx="1415.6" cy="245" r="3.2" fill="url(#gB)" opacity="0.45"/>
<circle cx="1743" cy="159.7" r="2.8" fill="url(#gB)" opacity="0.45"/>
<circle cx="1821.4" cy="115.8" r="2.8" fill="url(#gB)" opacity="0.6"/>
<circle cx="1466.6" cy="329.8" r="4" fill="url(#gB)" opacity="0.8"/>
<circle cx="1751.3" cy="111.2" r="4" fill="url(#gB)" opacity="0.8"/>
<circle cx="1677.1" cy="34.6" r="3.2" fill="url(#gB)" opacity="0.8"/>
<circle cx="1675.1" cy="667.3" r="3.6" fill="url(#gB)" opacity="0.45"/>
<circle cx="1690.9" cy="471.3" r="3.6" fill="url(#gB)" opacity="0.8"/>
<circle cx="1899" cy="611.7" r="2.8" fill="url(#gB)" opacity="0.6"/>
<circle cx="1267.2" cy="48.5" r="4.6" fill="url(#gB)" opacity="0.8"/>
<circle cx="1556.5" cy="424.7" r="3.2" fill="url(#gB)" opacity="0.45"/>
<circle cx="1322.7" cy="166.4" r="3.2" fill="url(#gB)" opacity="0.6"/>
<circle cx="1848.2" cy="89.4" r="2.8" fill="url(#gB)" opacity="0.45"/>
<circle cx="1865.7" cy="349.1" r="2.8" fill="url(#gB)" opacity="0.6"/>
<circle cx="1468.7" cy="323.9" r="3.6" fill="url(#gB)" opacity="0.6"/>
<circle cx="1340.7" cy="286.2" r="2.8" fill="url(#gB)" opacity="0.45"/>
<circle cx="1320.3" cy="343.4" r="3.6" fill="url(#gB)" opacity="0.6"/>
<circle cx="1844.7" cy="450.2" r="2.8" fill="url(#gB)" opacity="0.8"/>
<circle cx="1753" cy="251.2" r="2.8" fill="url(#gB)" opacity="0.8"/>
<circle cx="1811.9" cy="665.4" r="4" fill="url(#gB)" opacity="0.8"/>
<circle cx="1616.5" cy="379" r="3.6" fill="url(#gB)" opacity="0.6"/>
<circle cx="1389.9" cy="104.3" r="3.2" fill="url(#gB)" opacity="0.6"/>
<circle cx="1286.3" cy="255.6" r="4.6" fill="url(#gB)" opacity="0.8"/>
<circle cx="1453.9" cy="327.6" r="3.2" fill="url(#gB)" opacity="0.6"/>
<circle cx="1338.4" cy="152.9" r="3.6" fill="url(#gB)" opacity="0.6"/>
<circle cx="1523.9" cy="29.5" r="3.6" fill="url(#gB)" opacity="0.8"/>
<circle cx="1831.1" cy="57.1" r="3.6" fill="url(#gB)" opacity="0.8"/>
<circle cx="1403.6" cy="175" r="4" fill="url(#gB)" opacity="0.8"/>
<circle cx="1320.8" cy="76.4" r="4.6" fill="url(#gB)" opacity="0.6"/>
<circle cx="1646.7" cy="518.5" r="4" fill="url(#gB)" opacity="0.8"/>
<circle cx="1208.2" cy="457.7" r="3.2" fill="url(#gB)" opacity="0.6"/>
<circle cx="1506.1" cy="379.4" r="3.2" fill="url(#gB)" opacity="0.8"/>
<circle cx="1458" cy="91.7" r="3.6" fill="url(#gB)" opacity="0.6"/>
<circle cx="1833.2" cy="411.4" r="4.6" fill="url(#gB)" opacity="0.6"/>
<circle cx="1876.7" cy="424.1" r="2.8" fill="url(#gB)" opacity="0.8"/>
<circle cx="1506.6" cy="478.4" r="4.6" fill="url(#gB)" opacity="0.8"/>
<circle cx="1665.2" cy="698.4" r="4" fill="url(#gB)" opacity="0.45"/>
<circle cx="1465.2" cy="708.8" r="4" fill="url(#gB)" opacity="0.8"/>
<circle cx="1624.7" cy="63.5" r="4" fill="url(#gB)" opacity="0.6"/>
<circle cx="1393.4" cy="304.2" r="3.6" fill="url(#gB)" opacity="0.6"/>
<circle cx="1567.5" cy="364.1" r="3.6" fill="url(#gB)" opacity="0.8"/>
<circle cx="1850.1" cy="491.8" r="3.6" fill="url(#gB)" opacity="0.45"/>
<circle cx="1201.9" cy="195.5" r="2.8" fill="url(#gB)" opacity="0.8"/>
<circle cx="1302.9" cy="556.3" r="4" fill="url(#gB)" opacity="0.45"/>
<circle cx="1827.5" cy="551.8" r="2.8" fill="url(#gB)" opacity="0.8"/>
<circle cx="1892" cy="690.7" r="2.8" fill="url(#gB)" opacity="0.45"/>
<circle cx="1496.1" cy="360.1" r="3.2" fill="url(#gB)" opacity="0.45"/>
<circle cx="1562.5" cy="685.6" r="4" fill="url(#gB)" opacity="0.45"/>
<circle cx="1885" cy="600.2" r="4.6" fill="url(#gB)" opacity="0.8"/>
<circle cx="1273.5" cy="464" r="4" fill="url(#gB)" opacity="0.45"/>
<circle cx="1336.2" cy="58.9" r="4.6" fill="url(#gB)" opacity="0.45"/>
<circle cx="1280" cy="335.5" r="4" fill="url(#gB)" opacity="0.6"/>
<circle cx="1617.5" cy="474.8" r="4" fill="url(#gB)" opacity="0.6"/>
<circle cx="1742.8" cy="397.8" r="3.2" fill="url(#gB)" opacity="0.6"/>
<circle cx="1711.9" cy="190.8" r="2.8" fill="url(#gB)" opacity="0.8"/>
<circle cx="1824" cy="577.3" r="4.6" fill="url(#gB)" opacity="0.6"/>
<circle cx="1386.5" cy="453.7" r="4.6" fill="url(#gB)" opacity="0.8"/>
<circle cx="1610.9" cy="470.2" r="3.2" fill="url(#gB)" opacity="0.45"/>
<circle cx="1865.9" cy="377.5" r="3.2" fill="url(#gB)" opacity="0.8"/>
<circle cx="1220" cy="65" r="3.6" fill="url(#gB)" opacity="0.6"/>
<circle cx="1493" cy="463.3" r="2.8" fill="url(#gB)" opacity="0.45"/>
<circle cx="1575.5" cy="73.3" r="2.8" fill="url(#gB)" opacity="0.8"/>
<circle cx="1305.9" cy="188.2" r="3.6" fill="url(#gB)" opacity="0.6"/>
<circle cx="1530.8" cy="171.1" r="3.6" fill="url(#gB)" opacity="0.6"/>
<circle cx="1719.3" cy="615.7" r="2.8" fill="url(#gB)" opacity="0.45"/>
<circle cx="1508.7" cy="604" r="3.2" fill="url(#gB)" opacity="0.6"/>
<circle cx="1492.4" cy="204.7" r="3.2" fill="url(#gB)" opacity="0.6"/>
<circle cx="1300.7" cy="614.1" r="4.6" fill="url(#gB)" opacity="0.6"/>
<circle cx="1397.9" cy="559.4" r="3.2" fill="url(#gB)" opacity="0.6"/>
<circle cx="1654.9" cy="433.1" r="4" fill="url(#gB)" opacity="0.6"/>
<circle cx="1247.6" cy="80.8" r="4.6" fill="url(#gB)" opacity="0.8"/>
<circle cx="1535.3" cy="507.2" r="3.6" fill="url(#gB)" opacity="0.45"/>
<circle cx="1245.9" cy="173" r="4.6" fill="url(#gB)" opacity="0.45"/>
<circle cx="1684.1" cy="372.3" r="3.6" fill="url(#gB)" opacity="0.6"/>
<circle cx="1816.3" cy="176.9" r="3.6" fill="url(#gB)" opacity="0.6"/>
<circle cx="1833.6" cy="250.3" r="4" fill="url(#gB)" opacity="0.8"/>
<circle cx="1613.1" cy="660.9" r="3.6" fill="url(#gB)" opacity="0.6"/>
<circle cx="1567.4" cy="724.6" r="4" fill="url(#gB)" opacity="0.6"/>
<circle cx="1348.6" cy="707.2" r="4.6" fill="url(#gB)" opacity="0.45"/>
<circle cx="1251.7" cy="608.6" r="2.8" fill="url(#gB)" opacity="0.6"/>
<circle cx="1671.3" cy="436" r="3.2" fill="url(#gB)" opacity="0.8"/>
<circle cx="1591.2" cy="586.3" r="4.6" fill="url(#gB)" opacity="0.45"/>
<circle cx="1784.2" cy="420.4" r="3.2" fill="url(#gB)" opacity="0.45"/>
<circle cx="1729.3" cy="645.7" r="3.6" fill="url(#gB)" opacity="0.45"/>
<circle cx="1348.6" cy="62.9" r="3.2" fill="url(#gB)" opacity="0.8"/>
<circle cx="1401.5" cy="37.8" r="4" fill="url(#gB)" opacity="0.45"/>
<circle cx="1604" cy="238.3" r="4.6" fill="url(#gB)" opacity="0.45"/>
<circle cx="1428.8" cy="215.7" r="2.8" fill="url(#gB)" opacity="0.6"/>
<circle cx="1252" cy="471" r="3.2" fill="url(#gB)" opacity="0.45"/>
<circle cx="1720" cy="481.5" r="3.2" fill="url(#gB)" opacity="0.8"/>
<circle cx="1348.1" cy="563.9" r="4.6" fill="url(#gB)" opacity="0.6"/>
<circle cx="1733.4" cy="301.2" r="3.6" fill="url(#gB)" opacity="0.6"/>
<circle cx="1668.1" cy="371.5" r="4.6" fill="url(#gB)" opacity="0.8"/>
<circle cx="1243.3" cy="459.7" r="2.8" fill="url(#gB)" opacity="0.6"/>
<circle cx="1728" cy="719.9" r="3.6" fill="url(#gB)" opacity="0.45"/>
<circle cx="1762.6" cy="612.4" r="4" fill="url(#gB)" opacity="0.8"/>
<circle cx="1645.3" cy="392.9" r="2.8" fill="url(#gB)" opacity="0.45"/>
<circle cx="1490.5" cy="319.7" r="3.2" fill="url(#gB)" opacity="0.45"/>
<circle cx="1716.8" cy="723.6" r="4" fill="url(#gB)" opacity="0.8"/>
<circle cx="1310.7" cy="166.7" r="4" fill="url(#gB)" opacity="0.8"/>
<circle cx="1398.8" cy="708.6" r="2.8" fill="url(#gB)" opacity="0.6"/>
<circle cx="1410.4" cy="103.3" r="3.2" fill="url(#gB)" opacity="0.45"/>
<circle cx="1837.8" cy="555.2" r="2.8" fill="url(#gB)" opacity="0.8"/>
<circle cx="1532.6" cy="588.7" r="3.6" fill="url(#gB)" opacity="0.45"/>
<circle cx="1331.9" cy="276.4" r="4.6" fill="url(#gB)" opacity="0.45"/>
<circle cx="1616.8" cy="356.1" r="4.6" fill="url(#gB)" opacity="0.45"/>
<circle cx="1504.9" cy="655.3" r="4" fill="url(#gB)" opacity="0.45"/>
<circle cx="1836.8" cy="685.6" r="4.6" fill="url(#gB)" opacity="0.8"/>
<circle cx="1531.5" cy="206.4" r="4" fill="url(#gB)" opacity="0.6"/>
<circle cx="1659.5" cy="568.3" r="2.8" fill="url(#gB)" opacity="0.6"/>
<circle cx="1802.7" cy="304.8" r="3.2" fill="url(#gB)" opacity="0.45"/>
<circle cx="1759.4" cy="294.6" r="4.6" fill="url(#gB)" opacity="0.8"/>
<circle cx="1740.1" cy="579.7" r="2.8" fill="url(#gB)" opacity="0.8"/>
<circle cx="1846.4" cy="653.7" r="4" fill="url(#gB)" opacity="0.6"/>
<circle cx="1510.6" cy="196.6" r="4" fill="url(#gB)" opacity="0.8"/>
<circle cx="1811.4" cy="316.4" r="3.6" fill="url(#gB)" opacity="0.45"/>
<circle cx="1375.7" cy="637.4" r="4.6" fill="url(#gB)" opacity="0.45"/>
<circle cx="1643" cy="725.1" r="3.6" fill="url(#gB)" opacity="0.8"/>
<circle cx="1570.5" cy="128.7" r="3.2" fill="url(#gB)" opacity="0.45"/>
<circle cx="1336.6" cy="670.7" r="3.2" fill="url(#gB)" opacity="0.45"/>
<circle cx="1250.4" cy="213.1" r="4.6" fill="url(#gB)" opacity="0.45"/>
<circle cx="1821.9" cy="513.1" r="2.8" fill="url(#gB)" opacity="0.8"/>
<circle cx="1607.3" cy="629" r="3.6" fill="url(#gB)" opacity="0.45"/>
<circle cx="1750.8" cy="317.2" r="2.8" fill="url(#gB)" opacity="0.6"/>
<circle cx="1339.6" cy="406.7" r="4.6" fill="url(#gB)" opacity="0.6"/>
<circle cx="1303.5" cy="611.1" r="3.6" fill="url(#gB)" opacity="0.6"/>
<circle cx="1412" cy="75.8" r="3.6" fill="url(#gB)" opacity="0.6"/>
<circle cx="1664.3" cy="69.5" r="2.8" fill="url(#gB)" opacity="0.8"/>
<circle cx="1291.5" cy="494.7" r="4" fill="url(#gB)" opacity="0.8"/>
<circle cx="1876.6" cy="609.5" r="4" fill="url(#gB)" opacity="0.45"/>
<circle cx="1803.5" cy="525.9" r="4" fill="url(#gB)" opacity="0.45"/>
<circle cx="1399.8" cy="102.2" r="2.8" fill="url(#gB)" opacity="0.8"/>
<circle cx="1338.4" cy="458.2" r="3.6" fill="url(#gB)" opacity="0.8"/>
<circle cx="1458.2" cy="404.2" r="3.6" fill="url(#gB)" opacity="0.6"/>
<circle cx="1726.5" cy="415.4" r="2.8" fill="url(#gB)" opacity="0.6"/>
<circle cx="1325.6" cy="288.6" r="2.8" fill="url(#gB)" opacity="0.6"/>
<circle cx="1411.3" cy="215.9" r="4" fill="url(#gB)" opacity="0.8"/>
<circle cx="1645.4" cy="338.4" r="4" fill="url(#gB)" opacity="0.45"/>
<circle cx="1264.1" cy="462.2" r="3.2" fill="url(#gB)" opacity="0.8"/>
<circle cx="1638.3" cy="148.9" r="3.2" fill="url(#gB)" opacity="0.6"/>
<circle cx="1217.8" cy="349.9" r="2.8" fill="url(#gB)" opacity="0.45"/>
<circle cx="1352.4" cy="133.2" r="2.8" fill="url(#gB)" opacity="0.6"/>
<circle cx="1480" cy="73.5" r="4" fill="url(#gB)" opacity="0.8"/>
<circle cx="1290.5" cy="167.5" r="3.2" fill="url(#gB)" opacity="0.8"/>
<circle cx="1465.2" cy="256.6" r="4" fill="url(#gB)" opacity="0.8"/>
<circle cx="1202.9" cy="305.7" r="3.6" fill="url(#gB)" opacity="0.45"/>
<circle cx="1659.4" cy="452.9" r="2.8" fill="url(#gB)" opacity="0.6"/>
<circle cx="1426.4" cy="264.3" r="4" fill="url(#gB)" opacity="0.45"/>
<circle cx="1586.5" cy="167.1" r="3.6" fill="url(#gB)" opacity="0.6"/>
<circle cx="1776.2" cy="454.9" r="3.2" fill="url(#gB)" opacity="0.6"/>
<circle cx="1734.7" cy="661.3" r="4.6" fill="url(#gB)" opacity="0.45"/>
<circle cx="1441.6" cy="376.3" r="3.2" fill="url(#gB)" opacity="0.8"/>
<circle cx="1697.1" cy="720.6" r="4.6" fill="url(#gB)" opacity="0.8"/>
<circle cx="1692.4" cy="684.6" r="4.6" fill="url(#gB)" opacity="0.45"/>
<circle cx="1636" cy="162.1" r="2.8" fill="url(#gB)" opacity="0.45"/>
<circle cx="1365.2" cy="430.2" r="3.6" fill="url(#gB)" opacity="0.6"/>
<circle cx="1257" cy="639.7" r="3.6" fill="url(#gB)" opacity="0.6"/>
<circle cx="1817.2" cy="342.2" r="3.2" fill="url(#gB)" opacity="0.45"/>
<circle cx="1832.1" cy="406.7" r="4.6" fill="url(#gB)" opacity="0.45"/>
<circle cx="1588.7" cy="209.2" r="3.6" fill="url(#gB)" opacity="0.8"/>
<circle cx="1295.1" cy="683.3" r="2.8" fill="url(#gB)" opacity="0.6"/>
<circle cx="1677" cy="279.5" r="4.6" fill="url(#gB)" opacity="0.6"/>
<circle cx="1780.2" cy="153.4" r="4.6" fill="url(#gB)" opacity="0.45"/>
<circle cx="1513.7" cy="307.6" r="3.2" fill="url(#gB)" opacity="0.6"/>
<circle cx="1727.3" cy="621.9" r="4" fill="url(#gB)" opacity="0.8"/>
<circle cx="1611.1" cy="591.1" r="2.8" fill="url(#gB)" opacity="0.45"/>
<circle cx="1333.3" cy="353.4" r="3.2" fill="url(#gB)" opacity="0.8"/>
<circle cx="1465.6" cy="425.2" r="3.2" fill="url(#gB)" opacity="0.6"/>
<circle cx="1560" cy="208.7" r="4.6" fill="url(#gB)" opacity="0.6"/>
<circle cx="1229.9" cy="577.1" r="3.2" fill="url(#gB)" opacity="0.6"/>
<circle cx="1871.2" cy="446.9" r="4" fill="url(#gB)" opacity="0.6"/>
<circle cx="1483.3" cy="463.7" r="4.6" fill="url(#gB)" opacity="0.6"/>
<circle cx="1724.2" cy="365.9" r="4" fill="url(#gB)" opacity="0.8"/>
<circle cx="1481.6" cy="329.2" r="4.6" fill="url(#gB)" opacity="0.45"/>
<circle cx="1832.9" cy="394.4" r="4.6" fill="url(#gB)" opacity="0.8"/>
<circle cx="1498" cy="662.2" r="3.6" fill="url(#gB)" opacity="0.45"/>
<circle cx="1401.6" cy="458.3" r="4" fill="url(#gB)" opacity="0.8"/>
<circle cx="1458.6" cy="249.9" r="3.6" fill="url(#gB)" opacity="0.8"/>
<circle cx="1813" cy="195" r="4" fill="url(#gB)" opacity="0.45"/>
<circle cx="1547.9" cy="302.9" r="2.8" fill="url(#gB)" opacity="0.6"/>
<circle cx="1684" cy="394.6" r="3.2" fill="url(#gB)" opacity="0.8"/>
<circle cx="1408.9" cy="302" r="3.2" fill="url(#gB)" opacity="0.45"/>
<circle cx="1899.5" cy="539.4" r="3.6" fill="url(#gB)" opacity="0.8"/>
<circle cx="1490.4" cy="592.1" r="3.2" fill="url(#gB)" opacity="0.8"/>
<circle cx="1720.6" cy="423.3" r="2.8" fill="url(#gB)" opacity="0.45"/>
<circle cx="1559.9" cy="114" r="4.6" fill="url(#gB)" opacity="0.8"/>
<circle cx="1865.3" cy="22.4" r="3.2" fill="url(#gB)" opacity="0.8"/>
<circle cx="1403.9" cy="251.9" r="2.8" fill="url(#gB)" opacity="0.6"/>
<circle cx="1825.7" cy="599.3" r="4" fill="url(#gB)" opacity="0.45"/>
<circle cx="1444.4" cy="436.5" r="2.8" fill="url(#gB)" opacity="0.6"/>
<circle cx="1214" cy="658.1" r="3.6" fill="url(#gB)" opacity="0.6"/>
<circle cx="1544.9" cy="683.2" r="4" fill="url(#gB)" opacity="0.45"/>
<circle cx="1335.5" cy="630.2" r="2.8" fill="url(#gB)" opacity="0.45"/>
<circle cx="1415.6" cy="630.3" r="4" fill="url(#gB)" opacity="0.45"/>
<circle cx="1313.7" cy="644.8" r="4.6" fill="url(#gB)" opacity="0.45"/>
<circle cx="1569.4" cy="189.2" r="2.8" fill="url(#gB)" opacity="0.8"/>
<circle cx="1267.1" cy="535.9" r="3.6" fill="url(#gB)" opacity="0.6"/>
<circle cx="1807.7" cy="526.9" r="3.2" fill="url(#gB)" opacity="0.6"/>
<circle cx="1684.7" cy="686" r="4" fill="url(#gB)" opacity="0.6"/>
<circle cx="1247.9" cy="180.1" r="3.6" fill="url(#gB)" opacity="0.45"/>
<circle cx="1695.1" cy="161.1" r="3.2" fill="url(#gB)" opacity="0.8"/>
<circle cx="1358.7" cy="492.5" r="3.6" fill="url(#gB)" opacity="0.6"/>
<circle cx="1761" cy="393.3" r="2.8" fill="url(#gB)" opacity="0.8"/>
<circle cx="1557.3" cy="713.8" r="3.2" fill="url(#gB)" opacity="0.8"/>
<circle cx="1352" cy="115.8" r="2.8" fill="url(#gB)" opacity="0.6"/>
<circle cx="1888" cy="333.8" r="4.6" fill="url(#gB)" opacity="0.45"/>
<circle cx="1567.8" cy="54.1" r="4.6" fill="url(#gB)" opacity="0.8"/>
<circle cx="1393.5" cy="199.6" r="4.6" fill="url(#gB)" opacity="0.45"/>
<circle cx="1308.5" cy="721.7" r="3.2" fill="url(#gB)" opacity="0.45"/>
<circle cx="1319" cy="541.8" r="2.8" fill="url(#gB)" opacity="0.45"/>
<circle cx="1751.6" cy="128.7" r="2.8" fill="url(#gB)" opacity="0.8"/>
<circle cx="1518.8" cy="553.4" r="4" fill="url(#gB)" opacity="0.45"/>
<circle cx="1849.9" cy="375.9" r="3.2" fill="url(#gB)" opacity="0.45"/>
<circle cx="1585.7" cy="478.6" r="3.6" fill="url(#gB)" opacity="0.6"/>
<circle cx="1658.1" cy="576.4" r="4.6" fill="url(#gB)" opacity="0.6"/>
<circle cx="1550" cy="620.5" r="4.6" fill="url(#gB)" opacity="0.8"/>
<circle cx="1865.7" cy="145.1" r="3.2" fill="url(#gB)" opacity="0.45"/>
<circle cx="1622.5" cy="188.6" r="4" fill="url(#gB)" opacity="0.8"/>
<circle cx="1739.3" cy="578.9" r="3.2" fill="url(#gB)" opacity="0.6"/>
<circle cx="1538.3" cy="178.6" r="4.6" fill="url(#gB)" opacity="0.8"/>
<circle cx="1545.3" cy="47" r="4.6" fill="url(#gB)" opacity="0.8"/>
<circle cx="1229.2" cy="339.5" r="3.2" fill="url(#gB)" opacity="0.6"/>
<circle cx="1299.5" cy="34.6" r="4" fill="url(#gB)" opacity="0.6"/>
<circle cx="1548.6" cy="534" r="2.8" fill="url(#gB)" opacity="0.45"/>
<circle cx="1272.9" cy="148.2" r="4.6" fill="url(#gB)" opacity="0.8"/>
<circle cx="1752.5" cy="190.5" r="3.2" fill="url(#gB)" opacity="0.45"/>
<circle cx="1412.2" cy="52" r="3.6" fill="url(#gB)" opacity="0.8"/>
<circle cx="1714.8" cy="574.7" r="4.6" fill="url(#gB)" opacity="0.6"/>
<circle cx="1254.6" cy="603" r="3.2" fill="url(#gB)" opacity="0.6"/>
<circle cx="1372.4" cy="135.1" r="4.6" fill="url(#gB)" opacity="0.6"/>
<circle cx="1235.3" cy="312.7" r="3.6" fill="url(#gB)" opacity="0.8"/>
<circle cx="1345.2" cy="709.1" r="2.8" fill="url(#gB)" opacity="0.45"/>
<circle cx="1538.6" cy="561" r="3.2" fill="url(#gB)" opacity="0.45"/>
<circle cx="1719.2" cy="391.4" r="2.8" fill="url(#gB)" opacity="0.45"/>
<circle cx="1362.4" cy="652.2" r="3.2" fill="url(#gB)" opacity="0.45"/>
<circle cx="1470.2" cy="233" r="4" fill="url(#gB)" opacity="0.45"/>
<circle cx="1879.9" cy="503.3" r="4.6" fill="url(#gB)" opacity="0.45"/>
<circle cx="1401.4" cy="106.1" r="3.2" fill="url(#gB)" opacity="0.6"/>
<circle cx="1518.8" cy="682.2" r="3.6" fill="url(#gB)" opacity="0.6"/>
<circle cx="1430.6" cy="716.7" r="4.6" fill="url(#gB)" opacity="0.45"/>
<circle cx="1220.1" cy="307.4" r="2.8" fill="url(#gB)" opacity="0.8"/>
<circle cx="1435" cy="513.8" r="4.6" fill="url(#gB)" opacity="0.45"/>
<circle cx="1519.5" cy="300.2" r="3.2" fill="url(#gB)" opacity="0.6"/>
<circle cx="1460.1" cy="56.9" r="4" fill="url(#gB)" opacity="0.6"/>
<circle cx="1366.5" cy="583.6" r="3.2" fill="url(#gB)" opacity="0.6"/>
<circle cx="1336.2" cy="173.8" r="4" fill="url(#gB)" opacity="0.6"/>
<circle cx="1526.6" cy="369.1" r="3.2" fill="url(#gB)" opacity="0.6"/>
<circle cx="1336.8" cy="293.1" r="2.8" fill="url(#gB)" opacity="0.45"/>
<circle cx="1681.5" cy="278.9" r="3.6" fill="url(#gB)" opacity="0.8"/>
<circle cx="1205.1" cy="150.9" r="3.6" fill="url(#gB)" opacity="0.8"/>
<circle cx="1470.2" cy="675.9" r="3.2" fill="url(#gB)" opacity="0.6"/>
<circle cx="1265.2" cy="62.5" r="3.6" fill="url(#gB)" opacity="0.45"/>
<circle cx="1734.1" cy="534.2" r="2.8" fill="url(#gB)" opacity="0.45"/>
<circle cx="1898.6" cy="615.9" r="4" fill="url(#gB)" opacity="0.45"/>
<circle cx="1797" cy="292" r="3.6" fill="url(#gB)" opacity="0.8"/>
<circle cx="1665.8" cy="236" r="4.6" fill="url(#gB)" opacity="0.45"/>
<circle cx="1537.8" cy="154.9" r="4.6" fill="url(#gB)" opacity="0.8"/>
<circle cx="1282.4" cy="169.6" r="4" fill="url(#gB)" opacity="0.6"/>
<circle cx="1530.9" cy="513.4" r="4.6" fill="url(#gB)" opacity="0.8"/>
<circle cx="1580.1" cy="244.2" r="4" fill="url(#gB)" opacity="0.8"/>
<circle cx="1458.9" cy="645.1" r="3.6" fill="url(#gB)" opacity="0.8"/>
<circle cx="1696.6" cy="309" r="4" fill="url(#gB)" opacity="0.8"/>
<circle cx="1805.1" cy="182" r="3.6" fill="url(#gB)" opacity="0.6"/>
<circle cx="1436.2" cy="174.8" r="2.8" fill="url(#gB)" opacity="0.45"/>
<circle cx="1720.9" cy="363.8" r="2.8" fill="url(#gB)" opacity="0.8"/>
<circle cx="1403.1" cy="496.7" r="3.2" fill="url(#gB)" opacity="0.8"/>
<circle cx="1680" cy="493.9" r="3.6" fill="url(#gB)" opacity="0.45"/>
<circle cx="1746.6" cy="205.8" r="4" fill="url(#gB)" opacity="0.45"/>
<circle cx="1469.8" cy="64.6" r="4" fill="url(#gB)" opacity="0.6"/>
<circle cx="1393.5" cy="520" r="3.2" fill="url(#gB)" opacity="0.45"/>
<circle cx="1847.2" cy="165" r="3.2" fill="url(#gB)" opacity="0.6"/>
<circle cx="1663" cy="191.8" r="2.8" fill="url(#gB)" opacity="0.8"/>
<circle cx="1434" cy="321" r="3.2" fill="url(#gB)" opacity="0.6"/>
<circle cx="1604.5" cy="518.6" r="4.6" fill="url(#gB)" opacity="0.6"/>
<circle cx="1687.7" cy="38.3" r="4" fill="url(#gB)" opacity="0.45"/>
<circle cx="1449.9" cy="66.6" r="4" fill="url(#gB)" opacity="0.6"/>
<circle cx="1230.7" cy="372.9" r="4.6" fill="url(#gB)" opacity="0.6"/>
<circle cx="1524" cy="252.5" r="3.6" fill="url(#gB)" opacity="0.45"/>
<circle cx="1208.7" cy="267.7" r="3.6" fill="url(#gB)" opacity="0.8"/>
<circle cx="1402.5" cy="599.1" r="3.2" fill="url(#gB)" opacity="0.8"/>
<circle cx="1524.2" cy="457.6" r="3.6" fill="url(#gB)" opacity="0.45"/>
<circle cx="1599.9" cy="689.2" r="2.8" fill="url(#gB)" opacity="0.8"/>
<circle cx="1225.8" cy="406.3" r="4.6" fill="url(#gB)" opacity="0.6"/>
<circle cx="1237" cy="70.4" r="4" fill="url(#gB)" opacity="0.6"/>
<circle cx="1462.4" cy="666" r="2.8" fill="url(#gB)" opacity="0.45"/>
<circle cx="1675.9" cy="215.2" r="4" fill="url(#gB)" opacity="0.6"/>
<circle cx="1526.9" cy="36.9" r="4.6" fill="url(#gB)" opacity="0.45"/>
<circle cx="1383" cy="204.8" r="3.2" fill="url(#gB)" opacity="0.45"/>
<circle cx="1560.6" cy="677.9" r="4" fill="url(#gB)" opacity="0.45"/>
<circle cx="1361.4" cy="371.5" r="4.6" fill="url(#gB)" opacity="0.45"/>
<circle cx="1634.1" cy="419" r="3.6" fill="url(#gB)" opacity="0.6"/>
<circle cx="1437.4" cy="649.5" r="3.6" fill="url(#gB)" opacity="0.8"/>
<circle cx="1339.2" cy="302.5" r="3.2" fill="url(#gB)" opacity="0.45"/>
<circle cx="1775.7" cy="134.9" r="4.6" fill="url(#gB)" opacity="0.8"/>
<circle cx="1539.4" cy="421.2" r="3.6" fill="url(#gB)" opacity="0.6"/>
<circle cx="1394.3" cy="552.3" r="4.6" fill="url(#gB)" opacity="0.6"/>
<circle cx="1359.8" cy="198.5" r="3.6" fill="url(#gB)" opacity="0.8"/>
<circle cx="1317.9" cy="385.7" r="3.2" fill="url(#gB)" opacity="0.45"/>
<circle cx="1892.3" cy="601" r="3.6" fill="url(#gB)" opacity="0.45"/>
<circle cx="1793.1" cy="384.7" r="4" fill="url(#gB)" opacity="0.45"/>
<circle cx="1307.1" cy="635.3" r="4" fill="url(#gB)" opacity="0.45"/>
<circle cx="1436" cy="303.3" r="4" fill="url(#gB)" opacity="0.6"/>
<circle cx="1698.9" cy="200.3" r="3.6" fill="url(#gB)" opacity="0.45"/>
<circle cx="1428.4" cy="559.6" r="4.6" fill="url(#gB)" opacity="0.45"/>
<circle cx="1593.8" cy="319.8" r="3.2" fill="url(#gB)" opacity="0.8"/>
<circle cx="1716.1" cy="212.4" r="3.2" fill="url(#gB)" opacity="0.45"/>
<circle cx="1334.2" cy="461.8" r="3.6" fill="url(#gB)" opacity="0.45"/>
<circle cx="1653.6" cy="711.5" r="4" fill="url(#gB)" opacity="0.8"/>
<circle cx="1683.2" cy="581.9" r="3.2" fill="url(#gB)" opacity="0.6"/>
<circle cx="1678.8" cy="318.9" r="4" fill="url(#gB)" opacity="0.6"/>
<circle cx="1852.8" cy="722.1" r="2.8" fill="url(#gB)" opacity="0.45"/>
<circle cx="1697" cy="105.8" r="2.8" fill="url(#gB)" opacity="0.45"/>
<circle cx="1394.5" cy="539.7" r="2.8" fill="url(#gB)" opacity="0.6"/>
<circle cx="1425.7" cy="40.8" r="4.6" fill="url(#gB)" opacity="0.6"/>
<circle cx="1313.2" cy="69.7" r="4" fill="url(#gB)" opacity="0.8"/>
<circle cx="1392.9" cy="299.3" r="4.6" fill="url(#gB)" opacity="0.6"/>
<circle cx="1733.9" cy="716.5" r="4" fill="url(#gB)" opacity="0.8"/>
<circle cx="1683.4" cy="408.5" r="3.2" fill="url(#gB)" opacity="0.6"/>
<circle cx="1316" cy="97.8" r="3.6" fill="url(#gB)" opacity="0.6"/>
<circle cx="1498.3" cy="129.5" r="2.8" fill="url(#gB)" opacity="0.6"/>
<circle cx="1592.7" cy="123.7" r="4" fill="url(#gB)" opacity="0.6"/>
<circle cx="1420.1" cy="79.4" r="3.2" fill="url(#gB)" opacity="0.6"/>
<circle cx="1582.4" cy="417.7" r="3.2" fill="url(#gB)" opacity="0.45"/>
<circle cx="1197" cy="560.5" r="2.8" fill="url(#gB)" opacity="0.45"/>
<circle cx="1321.2" cy="364.3" r="3.2" fill="url(#gB)" opacity="0.6"/>
<circle cx="1534.9" cy="315.5" r="4.6" fill="url(#gB)" opacity="0.6"/>
<circle cx="1586.6" cy="174.2" r="4.6" fill="url(#gB)" opacity="0.8"/>
<circle cx="1777.6" cy="200.7" r="3.2" fill="url(#gB)" opacity="0.6"/>
<circle cx="1804.1" cy="726" r="4" fill="url(#gB)" opacity="0.8"/>
<circle cx="1782.3" cy="535.3" r="3.2" fill="url(#gB)" opacity="0.45"/>
<circle cx="1860.8" cy="403.6" r="2.8" fill="url(#gB)" opacity="0.6"/>
<circle cx="1446.1" cy="555.5" r="3.6" fill="url(#gB)" opacity="0.45"/>
<circle cx="1556.1" cy="29.4" r="3.2" fill="url(#gB)" opacity="0.45"/>
<circle cx="1871.2" cy="29.8" r="4.6" fill="url(#gB)" opacity="0.6"/>
<circle cx="1765.6" cy="582.9" r="4" fill="url(#gB)" opacity="0.6"/>
<circle cx="1410" cy="398.2" r="2.8" fill="url(#gB)" opacity="0.6"/>
<circle cx="1476.8" cy="521.3" r="3.6" fill="url(#gB)" opacity="0.8"/>
<circle cx="1208.6" cy="430.4" r="3.2" fill="url(#gB)" opacity="0.6"/>
<circle cx="1467" cy="283.5" r="3.6" fill="url(#gB)" opacity="0.6"/>
<circle cx="1635.9" cy="340.5" r="3.6" fill="url(#gB)" opacity="0.6"/>
<circle cx="1239.2" cy="484.6" r="4.6" fill="url(#gB)" opacity="0.45"/>
<circle cx="1379.4" cy="173.2" r="3.2" fill="url(#gB)" opacity="0.45"/>
<circle cx="1225.2" cy="114.6" r="3.6" fill="url(#gB)" opacity="0.8"/>
<circle cx="1337.8" cy="268" r="3.2" fill="url(#gB)" opacity="0.45"/>
<circle cx="1455.9" cy="151.1" r="2.8" fill="url(#gB)" opacity="0.45"/>
<circle cx="1475" cy="59" r="2.8" fill="url(#gB)" opacity="0.6"/>
<circle cx="1865" cy="616.6" r="3.2" fill="url(#gB)" opacity="0.45"/>
<circle cx="1815.4" cy="249.2" r="4.6" fill="url(#gB)" opacity="0.45"/>
<circle cx="1601.8" cy="249.6" r="4" fill="url(#gB)" opacity="0.45"/>
<circle cx="1545.5" cy="574.5" r="3.2" fill="url(#gB)" opacity="0.6"/>
<circle cx="1241.5" cy="298.2" r="3.6" fill="url(#gB)" opacity="0.45"/>
<circle cx="1742.6" cy="393.8" r="2.8" fill="url(#gB)" opacity="0.45"/>
<circle cx="1709" cy="491" r="2.8" fill="url(#gB)" opacity="0.45"/>
<circle cx="1628.4" cy="266" r="4" fill="url(#gB)" opacity="0.8"/>
<circle cx="1637.1" cy="379.4" r="4.6" fill="url(#gB)" opacity="0.45"/>
<circle cx="1278" cy="545" r="4" fill="url(#gB)" opacity="0.6"/>
<circle cx="1663.1" cy="318.9" r="4" fill="url(#gB)" opacity="0.8"/>
<circle cx="1354.9" cy="447.3" r="4.6" fill="url(#gB)" opacity="0.45"/>
<circle cx="1556.8" cy="44.8" r="4" fill="url(#gB)" opacity="0.6"/>
<circle cx="1393.2" cy="54.7" r="2.8" fill="url(#gB)" opacity="0.6"/>
<circle cx="1299.6" cy="353.8" r="3.6" fill="url(#gB)" opacity="0.8"/>
<circle cx="1633" cy="155.3" r="4" fill="url(#gB)" opacity="0.8"/>
<circle cx="1476.7" cy="636.2" r="3.2" fill="url(#gB)" opacity="0.6"/>
<circle cx="1270.6" cy="154.3" r="3.2" fill="url(#gB)" opacity="0.45"/>
<circle cx="1756.8" cy="384.2" r="3.6" fill="url(#gB)" opacity="0.45"/>
<circle cx="1322.9" cy="49.1" r="3.6" fill="url(#gB)" opacity="0.6"/>
<circle cx="1558.5" cy="268.9" r="3.2" fill="url(#gB)" opacity="0.8"/>
<circle cx="1202.2" cy="324.2" r="4" fill="url(#gB)" opacity="0.6"/>
<circle cx="1872.9" cy="190.9" r="2.8" fill="url(#gB)" opacity="0.8"/>
<circle cx="1503.9" cy="558" r="3.2" fill="url(#gB)" opacity="0.45"/>
<circle cx="1758.4" cy="627.4" r="4.6" fill="url(#gB)" opacity="0.45"/>
<circle cx="1756.1" cy="129.5" r="3.6" fill="url(#gB)" opacity="0.45"/>
<circle cx="1263" cy="48.1" r="3.6" fill="url(#gB)" opacity="0.45"/>
<circle cx="1782.4" cy="105.1" r="3.2" fill="url(#gB)" opacity="0.8"/>
<circle cx="1467.2" cy="623.2" r="4.6" fill="url(#gB)" opacity="0.6"/>
<circle cx="1830.5" cy="72.9" r="3.2" fill="url(#gB)" opacity="0.8"/>
<circle cx="1637.5" cy="642.6" r="3.2" fill="url(#gB)" opacity="0.8"/>
<circle cx="1665.2" cy="327" r="2.8" fill="url(#gB)" opacity="0.6"/>
<circle cx="1687.5" cy="620" r="3.6" fill="url(#gB)" opacity="0.8"/>
<circle cx="1619" cy="514" r="3.2" fill="url(#gB)" opacity="0.45"/>
<circle cx="1313.4" cy="433" r="2.8" fill="url(#gB)" opacity="0.45"/>
<circle cx="1389" cy="205.1" r="3.6" fill="url(#gB)" opacity="0.8"/>
<circle cx="1633" cy="239.5" r="2.8" fill="url(#gB)" opacity="0.45"/>
<circle cx="1681.7" cy="543.3" r="3.6" fill="url(#gB)" opacity="0.6"/>
<circle cx="1737" cy="163.7" r="2.8" fill="url(#gB)" opacity="0.8"/>
<circle cx="1380.2" cy="287.2" r="4.6" fill="url(#gB)" opacity="0.6"/>
<circle cx="1389.7" cy="116.7" r="2.8" fill="url(#gB)" opacity="0.45"/>
<circle cx="1437.2" cy="520.2" r="3.2" fill="url(#gB)" opacity="0.6"/>
<circle cx="1602.1" cy="223.7" r="3.6" fill="url(#gB)" opacity="0.45"/>
<circle cx="1671.1" cy="344.1" r="4" fill="url(#gB)" opacity="0.6"/>
<circle cx="1332.7" cy="315.1" r="3.2" fill="url(#gB)" opacity="0.6"/>
<circle cx="1644.9" cy="281.9" r="3.6" fill="url(#gB)" opacity="0.6"/>
<circle cx="1605.7" cy="488.2" r="3.6" fill="url(#gB)" opacity="0.6"/>
<circle cx="1660.5" cy="31" r="4.6" fill="url(#gB)" opacity="0.45"/>
<circle cx="1202.7" cy="287.4" r="4.6" fill="url(#gB)" opacity="0.6"/>
<circle cx="1466.8" cy="219.1" r="2.8" fill="url(#gB)" opacity="0.8"/>
<circle cx="1265.9" cy="487.5" r="4" fill="url(#gB)" opacity="0.45"/>
<circle cx="1254.6" cy="279.4" r="3.6" fill="url(#gB)" opacity="0.45"/>
<circle cx="1703.9" cy="495.8" r="3.6" fill="url(#gB)" opacity="0.45"/>
<circle cx="1664.9" cy="132.2" r="2.8" fill="url(#gB)" opacity="0.6"/>
<circle cx="1312.7" cy="380.1" r="4" fill="url(#gB)" opacity="0.8"/>
<circle cx="1298.4" cy="316.2" r="32" fill="url(#gG)"/>
<circle cx="1824" cy="494" r="38" fill="url(#gG)"/>
<ellipse cx="1824" cy="494" rx="5" ry="64" fill="url(#gG)"/>
<ellipse cx="1824" cy="494" rx="64" ry="5" fill="url(#gG)"/>
<circle cx="1875" cy="533" r="24" fill="url(#gG)"/>
<circle cx="1249.7" cy="581.2" r="16" fill="url(#gG)"/>
<circle cx="1828.5" cy="355.5" r="11" fill="url(#gG)"/>
<ellipse cx="1828.5" cy="400" rx="2.5" ry="95" fill="url(#gG)" opacity="0.6"/>
<ellipse cx="1700" cy="354" rx="135" ry="2.5" fill="url(#gG)" opacity="0.5"/>
<circle cx="1823.8" cy="494" r="9" fill="url(#gO)"/>
<circle cx="1874.5" cy="533" r="7" fill="url(#gO)"/>
<circle cx="1249.7" cy="581.2" r="6.5" fill="url(#gO)"/>
<circle cx="1828.5" cy="355.5" r="5.8" fill="url(#gO)"/>
<circle cx="1726" cy="350.5" r="5.5" fill="url(#gO)"/>
<circle cx="1758.3" cy="314.5" r="5.2" fill="url(#gO)"/>
<circle cx="1729.8" cy="431.5" r="4.8" fill="url(#gO)"/>
<circle cx="1684" cy="477" r="4.8" fill="url(#gO)"/>
<circle cx="1579.5" cy="607.5" r="5" fill="url(#gO)"/>
<circle cx="1811.8" cy="659.5" r="5" fill="url(#gO)"/>
<circle cx="1628.5" cy="663" r="4.5" fill="url(#gO)"/>
<circle cx="1250.8" cy="336" r="4" fill="url(#gO)"/>
<circle cx="1310" cy="263.5" r="4.2" fill="url(#gO)"/>
<circle cx="1434" cy="405" r="4" fill="url(#gO)"/>
<circle cx="1513" cy="143.5" r="4" fill="url(#gO)"/>
<circle cx="1548.5" cy="143.5" r="4" fill="url(#gO)"/>
<circle cx="1797" cy="71" r="4" fill="url(#gO)"/>
<circle cx="1753" cy="178.5" r="4" fill="url(#gO)"/>
<circle cx="1461" cy="494.5" r="4" fill="url(#gO)"/>
<circle cx="1427.5" cy="605.5" r="4" fill="url(#gO)"/>
<circle cx="1440" cy="135.5" r="4" fill="url(#gO)"/>
<circle cx="1814" cy="135" r="4" fill="url(#gO)"/>
<circle cx="1799.5" cy="590" r="4" fill="url(#gO)"/>
<circle cx="1664" cy="700" r="4" fill="url(#gO)"/>
<circle cx="1650" cy="223" r="3.8" fill="url(#gO)"/>
<circle cx="1215" cy="372" r="3.8" fill="url(#gO)"/>
</g>
<path d="M1560 586A384.5 242.2 0 0 0 1579.7 585M1518 586A384.5 242.2 0 0 1 1498.3 585M1518 102.2A384.5 242.2 0 0 0 1498.3 103.2M1560 102.2A384.5 242.2 0 0 1 1579.7 103.2M1600.7 583.2A384.5 242.2 0 0 0 1620.2 580.9M1477.3 583.2A384.5 242.2 0 0 1 1457.8 580.9M1477.3 105A384.5 242.2 0 0 0 1457.8 107.3M1600.7 105A384.5 242.2 0 0 1 1620.2 107.3M1640.8 577.7A384.5 242.2 0 0 0 1659.7 574.1M1437.2 577.7A384.5 242.2 0 0 1 1418.3 574.1M1437.2 110.5A384.5 242.2 0 0 0 1418.3 114.1M1640.8 110.5A384.5 242.2 0 0 1 1659.7 114.1M1679.7 569.6A384.5 242.2 0 0 0 1697.9 564.7M1398.3 569.6A384.5 242.2 0 0 1 1380.1 564.7M1398.3 118.6A384.5 242.2 0 0 0 1380.1 123.5M1679.7 118.6A384.5 242.2 0 0 1 1697.9 123.5M1716.9 558.8A384.5 242.2 0 0 0 1734.3 552.8M1361.1 558.8A384.5 242.2 0 0 1 1343.7 552.8M1361.1 129.4A384.5 242.2 0 0 0 1343.7 135.4M1716.9 129.4A384.5 242.2 0 0 1 1734.3 135.4M1752.2 545.7A384.5 242.2 0 0 0 1768.4 538.5M1325.8 545.7A384.5 242.2 0 0 1 1309.6 538.5M1325.8 142.5A384.5 242.2 0 0 0 1309.6 149.7M1752.2 142.5A384.5 242.2 0 0 1 1768.4 149.7M1785.1 530.3A384.5 242.2 0 0 0 1799.9 522M1292.9 530.3A384.5 242.2 0 0 1 1278.1 522M1292.9 157.9A384.5 242.2 0 0 0 1278.1 166.2M1785.1 157.9A384.5 242.2 0 0 1 1799.9 166.2M1815.1 512.7A384.5 242.2 0 0 0 1828.5 503.5M1262.9 512.7A384.5 242.2 0 0 1 1249.5 503.5M1262.9 175.5A384.5 242.2 0 0 0 1249.5 184.7M1815.1 175.5A384.5 242.2 0 0 1 1828.5 184.7M1842 493.2A384.5 242.2 0 0 0 1853.8 483.2M1236 493.2A384.5 242.2 0 0 1 1224.2 483.2M1236 195A384.5 242.2 0 0 0 1224.2 205M1842 195A384.5 242.2 0 0 1 1853.8 205M1865.5 472.1A384.5 242.2 0 0 0 1875.5 461.3M1212.5 472.1A384.5 242.2 0 0 1 1202.5 461.3M1212.5 216.1A384.5 242.2 0 0 0 1202.5 226.9M1865.5 216.1A384.5 242.2 0 0 1 1875.5 226.9M1885.2 449.4A384.5 242.2 0 0 0 1893.4 438.1M1192.8 449.4A384.5 242.2 0 0 1 1184.6 438.1M1192.8 238.8A384.5 242.2 0 0 0 1184.6 250.1M1885.2 238.8A384.5 242.2 0 0 1 1893.4 250.1M1901.1 425.6A384.5 242.2 0 0 0 1907.3 413.8M1176.9 425.6A384.5 242.2 0 0 1 1170.7 413.8M1176.9 262.6A384.5 242.2 0 0 0 1170.7 274.4M1901.1 262.6A384.5 242.2 0 0 1 1907.3 274.4M1912.8 400.9A384.5 242.2 0 0 0 1916.9 388.7M1165.2 400.9A384.5 242.2 0 0 1 1161.1 388.7M1165.2 287.3A384.5 242.2 0 0 0 1161.1 299.5M1912.8 287.3A384.5 242.2 0 0 1 1916.9 299.5M1920.3 375.5A384.5 242.2 0 0 0 1922.3 363.1M1157.7 375.5A384.5 242.2 0 0 1 1155.7 363.1M1157.7 312.7A384.5 242.2 0 0 0 1155.7 325.1M1920.3 312.7A384.5 242.2 0 0 1 1922.3 325.1M1923.4 349.8A384.5 242.2 0 0 0 1923.5 344.1M1154.6 349.8A384.5 242.2 0 0 1 1154.5 344.1M1154.6 338.4A384.5 242.2 0 0 0 1154.5 344.1M1923.4 338.4A384.5 242.2 0 0 1 1923.5 344.1" fill="none" stroke="#fff" stroke-width="3" clip-path="url(#clip2)"/>
<path d="M1535.4 340.9l11.1 11.1M1535.4 352.1l11.1 -11.1" stroke="#fff" stroke-width="2.4" fill="none"/>
<circle cx="1298.5" cy="315.5" r="12.1" fill="none" stroke="#fff" stroke-width="2.8"/>
<circle cx="1298.5" cy="315.5" r="5.8" fill="#75fb4c"/><circle cx="1298.5" cy="315.5" r="2" fill="#f0a030"/>
<text x="1298.5" y="294.1" font-family="'Liberation Serif', serif" font-size="26.3" font-weight="bold" fill="#fff" text-anchor="middle" stroke="#fff" stroke-width="0.3">HD 130079</text>
<circle cx="1724.5" cy="349.3" r="12.1" fill="none" stroke="#fff" stroke-width="2.8"/>
<text x="1724" y="327" font-family="'Liberation Serif', serif" font-size="26.3" font-weight="bold" fill="#fff" text-anchor="middle" stroke="#fff" stroke-width="0.3">C1</text>
<circle cx="1536.9" cy="292" r="12.1" fill="none" stroke="#fff" stroke-width="2.8"/>
<text x="1536.4" y="269.6" font-family="'Liberation Serif', serif" font-size="26.3" font-weight="bold" fill="#fff" text-anchor="middle" stroke="#fff" stroke-width="0.3">C2</text>
<circle cx="1341.9" cy="442.9" r="12.1" fill="none" stroke="#fff" stroke-width="2.8"/>
<text x="1341.4" y="421.8" font-family="'Liberation Serif', serif" font-size="26.3" font-weight="bold" fill="#fff" text-anchor="middle" stroke="#fff" stroke-width="0.3">C3</text>
<circle cx="1599.1" cy="182.9" r="3.9" fill="none" stroke="#75fb4c" stroke-width="2.6"/>
<text x="1597.4" y="168.5" font-family="'Liberation Serif', serif" font-size="22.3" font-weight="bold" fill="#75fb4c" text-anchor="middle" stroke="#75fb4c" stroke-width="0.3">TYC 9015-926-1</text>
<path d="M1595.9 627.4h10.1M1600.9 622.3v10.1" stroke="#fff" stroke-width="1.6" fill="none"/>
<text x="1600.9" y="612.6" font-family="'Liberation Sans', sans-serif" font-size="23.3" font-weight="normal" fill="#fff" text-anchor="middle">S</text>
<text x="1619.8" y="645" font-family="'Liberation Serif', serif" font-size="34" font-weight="bold" fill="#fff" text-anchor="start" stroke="#fff" stroke-width="0.3">IRAC 5.8micron</text>
<path d="M1191.2 35.4h5.1M1901 35.4h-5.1M1191.2 59.6h10.4M1901 59.6h-10.4M1191.2 83.8h5.1M1901 83.8h-5.1M1191.2 108h5.1M1901 108h-5.1M1191.2 132.2h5.1M1901 132.2h-5.1M1191.2 156.4h10.4M1901 156.4h-10.4M1191.2 180.7h5.1M1901 180.7h-5.1M1191.2 204.9h5.1M1901 204.9h-5.1M1191.2 229.1h5.1M1901 229.1h-5.1M1191.2 253.3h10.4M1901 253.3h-10.4M1191.2 277.5h5.1M1901 277.5h-5.1M1191.2 301.7h5.1M1901 301.7h-5.1M1191.2 325.9h5.1M1901 325.9h-5.1M1191.2 350.1h10.4M1901 350.1h-10.4M1191.2 374.4h5.1M1901 374.4h-5.1M1191.2 398.6h5.1M1901 398.6h-5.1M1191.2 422.8h5.1M1901 422.8h-5.1M1191.2 447h10.4M1901 447h-10.4M1191.2 471.2h5.1M1901 471.2h-5.1M1191.2 495.4h5.1M1901 495.4h-5.1M1191.2 519.6h5.1M1901 519.6h-5.1M1191.2 543.9h10.4M1901 543.9h-10.4M1191.2 568.1h5.1M1901 568.1h-5.1M1191.2 592.3h5.1M1901 592.3h-5.1M1191.2 616.5h5.1M1901 616.5h-5.1M1191.2 640.7h10.4M1901 640.7h-10.4M1191.2 664.9h5.1M1901 664.9h-5.1M1191.2 689.1h5.1M1901 689.1h-5.1M1191.2 713.3h5.1M1901 713.3h-5.1M1205.8 21.1v5.1M1208 730.4v-5.1M1231.1 21.1v10.4M1233.1 730.4v-10.4M1256.4 21.1v5.1M1258.2 730.4v-5.1M1281.8 21.1v5.1M1283.4 730.4v-5.1M1307.1 21.1v5.1M1308.5 730.4v-5.1M1332.4 21.1v5.1M1333.6 730.4v-5.1M1357.8 21.1v5.1M1358.8 730.4v-5.1M1383.1 21.1v10.4M1383.9 730.4v-10.4M1408.4 21.1v5.1M1409 730.4v-5.1M1433.8 21.1v5.1M1434.2 730.4v-5.1M1459.1 21.1v5.1M1459.3 730.4v-5.1M1484.4 21.1v5.1M1484.4 730.4v-5.1M1509.8 21.1v5.1M1509.6 730.4v-5.1M1535.1 21.1v10.4M1534.7 730.4v-10.4M1560.4 21.1v5.1M1559.8 730.4v-5.1M1585.8 21.1v5.1M1585 730.4v-5.1M1611.1 21.1v5.1M1610.1 730.4v-5.1M1636.4 21.1v5.1M1635.2 730.4v-5.1M1661.8 21.1v5.1M1660.4 730.4v-5.1M1687.1 21.1v10.4M1685.5 730.4v-10.4M1712.4 21.1v5.1M1710.6 730.4v-5.1M1737.8 21.1v5.1M1735.8 730.4v-5.1M1763.1 21.1v5.1M1760.9 730.4v-5.1M1788.4 21.1v5.1M1786 730.4v-5.1M1813.8 21.1v5.1M1811.2 730.4v-5.1M1839.1 21.1v10.4M1836.3 730.4v-10.4M1864.4 21.1v5.1M1861.4 730.4v-5.1M1889.8 21.1v5.1M1886.6 730.4v-5.1" stroke="#000" stroke-width="2.2" fill="none"/>
<rect x="1191.2" y="21.1" width="709.8" height="709.3" fill="none" stroke="#000" stroke-width="2.5"/>
<text x="1183.2" y="75.9" font-family="'Liberation Serif', serif" font-size="27.1" font-weight="bold" fill="#000" text-anchor="end" stroke="#000" stroke-width="0.45">10:00</text>
<text x="1183.2" y="172.8" font-family="'Liberation Serif', serif" font-size="27.1" font-weight="bold" fill="#000" text-anchor="end" stroke="#000" stroke-width="0.45">12:00</text>
<text x="1183.2" y="269.6" font-family="'Liberation Serif', serif" font-size="27.1" font-weight="bold" fill="#000" text-anchor="end" stroke="#000" stroke-width="0.45">14:00</text>
<text x="1183.2" y="366.4" font-family="'Liberation Serif', serif" font-size="27.1" font-weight="bold" fill="#000" text-anchor="end" stroke="#000" stroke-width="0.45">16:00</text>
<text x="1183.2" y="463.3" font-family="'Liberation Serif', serif" font-size="27.1" font-weight="bold" fill="#000" text-anchor="end" stroke="#000" stroke-width="0.45">18:00</text>
<text x="1183.2" y="560.1" font-family="'Liberation Serif', serif" font-size="27.1" font-weight="bold" fill="#000" text-anchor="end" stroke="#000" stroke-width="0.45">-65:20:00</text>
<text x="1183.2" y="657" font-family="'Liberation Serif', serif" font-size="27.1" font-weight="bold" fill="#000" text-anchor="end" stroke="#000" stroke-width="0.45">22:00</text>
<text x="1232.3" y="769.2" font-family="'Liberation Serif', serif" font-size="27.1" font-weight="bold" fill="#000" text-anchor="middle" stroke="#000" stroke-width="0.45">30</text>
<text x="1383.3" y="769.2" font-family="'Liberation Serif', serif" font-size="27.1" font-weight="bold" fill="#000" text-anchor="middle" stroke="#000" stroke-width="0.45">14:49:00</text>
<text x="1534.3" y="769.2" font-family="'Liberation Serif', serif" font-size="27.1" font-weight="bold" fill="#000" text-anchor="middle" stroke="#000" stroke-width="0.45">30</text>
<text x="1685.3" y="769.2" font-family="'Liberation Serif', serif" font-size="27.1" font-weight="bold" fill="#000" text-anchor="middle" stroke="#000" stroke-width="0.45">48:00</text>
<text x="1836.3" y="769.2" font-family="'Liberation Serif', serif" font-size="27.1" font-weight="bold" fill="#000" text-anchor="middle" stroke="#000" stroke-width="0.45">47:30</text>
<text x="1545.5" y="848.6" font-family="'Liberation Serif', serif" font-size="40.5" font-weight="bold" fill="#000" text-anchor="middle" stroke="#000" stroke-width="0.45">Right Ascension [J2000]</text>
<text x="0" y="0" transform="translate(1070.6,375) rotate(-90)" font-family="'Liberation Serif', serif" font-size="40.5" font-weight="bold" fill="#000" text-anchor="middle" stroke="#000" stroke-width="0.45">Declination [J2000]</text>
<rect x="1907.4" y="2.3" width="56.5" height="865" fill="url(#cbg)" stroke="#333" stroke-width="1"/>
<path d="M1963.9 147.5h4" stroke="#222" stroke-width="1"/>
<text x="1970.9" y="156.4" font-family="'Liberation Serif', serif" font-size="26.7" font-weight="bold" fill="#000" text-anchor="start" stroke="#000" stroke-width="0.45">633</text>
<path d="M1963.9 292h4" stroke="#222" stroke-width="1"/>
<text x="1970.9" y="300.9" font-family="'Liberation Serif', serif" font-size="26.7" font-weight="bold" fill="#000" text-anchor="start" stroke="#000" stroke-width="0.45">198</text>
<path d="M1963.9 436.5h4" stroke="#222" stroke-width="1"/>
<text x="1970.9" y="445.4" font-family="'Liberation Serif', serif" font-size="26.7" font-weight="bold" fill="#000" text-anchor="start" stroke="#000" stroke-width="0.45">61</text>
<path d="M1963.9 581h4" stroke="#222" stroke-width="1"/>
<text x="1970.9" y="589.9" font-family="'Liberation Serif', serif" font-size="26.7" font-weight="bold" fill="#000" text-anchor="start" stroke="#000" stroke-width="0.45">18</text>
<path d="M1963.9 725.5h4" stroke="#222" stroke-width="1"/>
<text x="1970.9" y="734.4" font-family="'Liberation Serif', serif" font-size="26.7" font-weight="bold" fill="#000" text-anchor="start" stroke="#000" stroke-width="0.45">4</text>
</g>
<g id="panel3">
<polygon points="158.2,913 500,918 812.4,924.5 809.5,1120 807.5,1300 801.8,1580 712,1577.5 400,1570.8 148.6,1567.5 149,1400 153.3,1220 155.5,1050" fill="#00002c" clip-path="url(#frame3)"/>
<g clip-path="url(#clip3)">
<rect x="147.3" y="914.4" width="666.2" height="664.1" filter="url(#n3)"/>
<ellipse cx="525" cy="1233" rx="310" ry="168" fill="url(#dk3)"/>
<circle cx="307.5" cy="1276.3" r="4" fill="url(#gY)"/>
<circle cx="564.2" cy="959.4" r="5.2" fill="url(#gY)"/>
<circle cx="461.3" cy="1469.7" r="4.6" fill="url(#gY2)"/>
<circle cx="303.5" cy="1016.4" r="4" fill="url(#gY)"/>
<circle cx="160" cy="1430.5" r="4" fill="url(#gY2)"/>
<circle cx="349.4" cy="936.5" r="4" fill="url(#gY)"/>
<circle cx="625.9" cy="1497.8" r="4" fill="url(#gY)"/>
<circle cx="238.8" cy="1158" r="4" fill="url(#gY2)"/>
<circle cx="169" cy="1101.2" r="4.6" fill="url(#gY2)"/>
<circle cx="528.6" cy="984.9" r="4.6" fill="url(#gY)"/>
<circle cx="326.8" cy="998.4" r="4.6" fill="url(#gY)"/>
<circle cx="208.6" cy="1446" r="3.6" fill="url(#gY2)"/>
<circle cx="344.6" cy="1424.9" r="3.2" fill="url(#gY)"/>
<circle cx="556.8" cy="945.8" r="3.6" fill="url(#gY)"/>
<circle cx="733.2" cy="1565.2" r="3.2" fill="url(#gY)"/>
<circle cx="154.8" cy="987.6" r="3.6" fill="url(#gY)"/>
<circle cx="343" cy="1090.4" r="5.2" fill="url(#gY)"/>
<circle cx="357.8" cy="1550.6" r="4" fill="url(#gY)"/>
<circle cx="772.7" cy="1251.7" r="4.6" fill="url(#gY)"/>
<circle cx="495" cy="1279.1" r="4" fill="url(#gY)"/>
<circle cx="238.2" cy="1335.4" r="3.6" fill="url(#gY)"/>
<circle cx="757.3" cy="1319.1" r="4" fill="url(#gY2)"/>
<circle cx="540.2" cy="1548.1" r="3.6" fill="url(#gY)"/>
<circle cx="267.5" cy="1038.6" r="5.2" fill="url(#gY)"/>
<circle cx="324.9" cy="1437.2" r="5.2" fill="url(#gY2)"/>
<circle cx="793" cy="1368.6" r="4" fill="url(#gY2)"/>
<circle cx="582.8" cy="1094.3" r="4.6" fill="url(#gY)"/>
<circle cx="580" cy="980.2" r="3.6" fill="url(#gY)"/>
<circle cx="262.1" cy="1138.9" r="4" fill="url(#gY)"/>
<circle cx="329.1" cy="1437" r="3.6" fill="url(#gY)"/>
<circle cx="684.1" cy="1471.1" r="3.6" fill="url(#gY)"/>
<circle cx="378.6" cy="1001.9" r="5.2" fill="url(#gY)"/>
<circle cx="457.6" cy="1335.8" r="4" fill="url(#gY)"/>
<circle cx="173.5" cy="1189.6" r="4" fill="url(#gY)"/>
<circle cx="763.9" cy="1063" r="5.2" fill="url(#gY)"/>
<circle cx="645.2" cy="1553.7" r="3.6" fill="url(#gY2)"/>
<circle cx="718" cy="1558.8" r="3.6" fill="url(#gY2)"/>
<circle cx="173.3" cy="1447.6" r="3.6" fill="url(#gY)"/>
<circle cx="531.9" cy="924.7" r="3.6" fill="url(#gY)"/>
<circle cx="348.5" cy="1354.8" r="4" fill="url(#gY2)"/>
<circle cx="771.6" cy="1321.3" r="3.6" fill="url(#gY)"/>
<circle cx="465.9" cy="1433.9" r="3.6" fill="url(#gY2)"/>
<circle cx="503.9" cy="1456.7" r="5.2" fill="url(#gY)"/>
<circle cx="760.2" cy="1449.6" r="3.2" fill="url(#gY)"/>
<circle cx="566.1" cy="1487" r="3.6" fill="url(#gY2)"/>
<circle cx="463.1" cy="1430" r="3.2" fill="url(#gY2)"/>
<circle cx="180.6" cy="949" r="3.2" fill="url(#gY)"/>
<circle cx="207" cy="1248.4" r="3.6" fill="url(#gY2)"/>
<circle cx="388.9" cy="1042.5" r="3.2" fill="url(#gY2)"/>
<circle cx="517.8" cy="1390" r="3.2" fill="url(#gY)"/>
<circle cx="268.2" cy="1163.1" r="5.2" fill="url(#gY)"/>
<circle cx="401.7" cy="1446.4" r="4" fill="url(#gY2)"/>
<circle cx="428.4" cy="1375.5" r="3.6" fill="url(#gY2)"/>
<circle cx="504.7" cy="1376.2" r="4" fill="url(#gY2)"/>
<circle cx="431.9" cy="1498.3" r="3.6" fill="url(#gY)"/>
<circle cx="673.6" cy="1089.6" r="3.2" fill="url(#gY)"/>
<circle cx="588.4" cy="1503.4" r="4.6" fill="url(#gY2)"/>
<circle cx="635.7" cy="1289.3" r="4" fill="url(#gY)"/>
<circle cx="153.2" cy="1011" r="3.2" fill="url(#gY)"/>
<circle cx="210.8" cy="981.7" r="3.6" fill="url(#gY2)"/>
<circle cx="376.1" cy="1480.2" r="3.2" fill="url(#gY)"/>
<circle cx="469" cy="1377" r="3.6" fill="url(#gY2)"/>
<circle cx="174" cy="1424" r="4.6" fill="url(#gY2)"/>
<circle cx="220.7" cy="1411.8" r="3.2" fill="url(#gY)"/>
<circle cx="310.3" cy="1035" r="4" fill="url(#gY)"/>
<circle cx="423.3" cy="1410.8" r="4.6" fill="url(#gY)"/>
<circle cx="650.5" cy="1362.1" r="4" fill="url(#gY2)"/>
<circle cx="575.6" cy="1510.1" r="3.2" fill="url(#gY)"/>
<circle cx="645.3" cy="1522.8" r="4" fill="url(#gY)"/>
<circle cx="625.9" cy="1039.2" r="3.6" fill="url(#gY2)"/>
<circle cx="537.7" cy="1124.4" r="4.6" fill="url(#gY)"/>
<circle cx="781.2" cy="1111.9" r="4" fill="url(#gY)"/>
<circle cx="715.1" cy="1303" r="3.6" fill="url(#gY)"/>
<circle cx="165.3" cy="1233.4" r="3.6" fill="url(#gY)"/>
<circle cx="245.1" cy="1572.2" r="4" fill="url(#gY2)"/>
<circle cx="459.9" cy="1468.5" r="4" fill="url(#gY2)"/>
<circle cx="459.4" cy="1068" r="4.6" fill="url(#gY)"/>
<circle cx="195.9" cy="1059.9" r="3.6" fill="url(#gY)"/>
<circle cx="241" cy="1327.7" r="3.2" fill="url(#gY)"/>
<circle cx="262.3" cy="945.8" r="3.2" fill="url(#gY)"/>
<circle cx="678.9" cy="994.1" r="3.6" fill="url(#gY2)"/>
<circle cx="154.6" cy="1137.6" r="4" fill="url(#gY2)"/>
<circle cx="408.8" cy="1276.4" r="3.6" fill="url(#gY2)"/>
<circle cx="590.5" cy="990.5" r="3.6" fill="url(#gY2)"/>
<circle cx="593.5" cy="1541.1" r="3.2" fill="url(#gY)"/>
<circle cx="595.4" cy="1270.9" r="4" fill="url(#gY)"/>
<circle cx="383.1" cy="1391.4" r="4" fill="url(#gY)"/>
<circle cx="270.5" cy="1343.4" r="3.6" fill="url(#gY)"/>
<circle cx="739.1" cy="1349.9" r="4" fill="url(#gY2)"/>
<circle cx="759.6" cy="1343" r="4" fill="url(#gY)"/>
<circle cx="349" cy="1039.7" r="5.2" fill="url(#gY2)"/>
<circle cx="617" cy="987.1" r="4" fill="url(#gY)"/>
<circle cx="531.2" cy="1175.4" r="3.6" fill="url(#gY)"/>
<circle cx="185.4" cy="1006.4" r="3.6" fill="url(#gY2)"/>
<circle cx="523.6" cy="1518.4" r="4.6" fill="url(#gY2)"/>
<circle cx="525.4" cy="1359.6" r="4.6" fill="url(#gY2)"/>
<circle cx="541.8" cy="1013" r="3.6" fill="url(#gY)"/>
<circle cx="315.6" cy="1433.5" r="5.2" fill="url(#gY)"/>
<circle cx="740" cy="1544.5" r="4" fill="url(#gY)"/>
<circle cx="618" cy="1509" r="3.2" fill="url(#gY)"/>
<circle cx="276.1" cy="1335.7" r="5.2" fill="url(#gY)"/>
<circle cx="304.8" cy="1030.6" r="3.6" fill="url(#gY2)"/>
<circle cx="667.8" cy="1056.3" r="4.6" fill="url(#gY)"/>
<circle cx="223.9" cy="1103.5" r="3.6" fill="url(#gY2)"/>
<circle cx="459.3" cy="974.7" r="3.2" fill="url(#gY)"/>
<circle cx="162.5" cy="1140.8" r="3.6" fill="url(#gY)"/>
<circle cx="609" cy="969.3" r="5.2" fill="url(#gY2)"/>
<circle cx="624" cy="1405.7" r="5.2" fill="url(#gY2)"/>
<circle cx="766.8" cy="1486.3" r="5.2" fill="url(#gY2)"/>
<circle cx="471.1" cy="988.2" r="3.2" fill="url(#gY2)"/>
<circle cx="195" cy="1479.9" r="4" fill="url(#gY)"/>
<circle cx="165.5" cy="1218.9" r="4" fill="url(#gY2)"/>
<circle cx="451.5" cy="940.7" r="5.2" fill="url(#gY)"/>
<circle cx="792" cy="1448.4" r="3.6" fill="url(#gY2)"/>
<circle cx="716.3" cy="1269.4" r="3.2" fill="url(#gY2)"/>
<circle cx="242.2" cy="1318.9" r="3.6" fill="url(#gY2)"/>
<circle cx="707.1" cy="1182.9" r="3.2" fill="url(#gY)"/>
<circle cx="622.7" cy="1074.4" r="4" fill="url(#gY2)"/>
<circle cx="751.7" cy="1500.6" r="4" fill="url(#gY)"/>
<circle cx="276.2" cy="1136.4" r="3.2" fill="url(#gY)"/>
<circle cx="184.4" cy="1397.7" r="5.2" fill="url(#gY)"/>
<circle cx="672.5" cy="1552.6" r="4" fill="url(#gY)"/>
<circle cx="169.9" cy="1139.1" r="3.6" fill="url(#gY2)"/>
<circle cx="187.5" cy="1204.2" r="4" fill="url(#gY2)"/>
<circle cx="219.4" cy="1366.7" r="4" fill="url(#gY2)"/>
<circle cx="469" cy="1041.2" r="3.6" fill="url(#gY2)"/>
<circle cx="745.7" cy="1417.4" r="4" fill="url(#gY)"/>
<circle cx="772.3" cy="938.6" r="4" fill="url(#gY)"/>
<circle cx="776.6" cy="974.1" r="5.2" fill="url(#gY)"/>
<circle cx="225.9" cy="1174.1" r="4.6" fill="url(#gY)"/>
<circle cx="265.6" cy="1405.7" r="5.2" fill="url(#gY)"/>
<circle cx="387.8" cy="1037.8" r="4" fill="url(#gY2)"/>
<circle cx="444.2" cy="1381.2" r="5.2" fill="url(#gY2)"/>
<circle cx="611.4" cy="1544.5" r="3.6" fill="url(#gY)"/>
<circle cx="647.6" cy="1460.7" r="4.6" fill="url(#gY)"/>
<circle cx="680.5" cy="953.4" r="3.2" fill="url(#gY)"/>
<circle cx="458.8" cy="1491.1" r="3.6" fill="url(#gY2)"/>
<circle cx="219.5" cy="1292.6" r="3.2" fill="url(#gY)"/>
<circle cx="769.3" cy="1010.7" r="3.2" fill="url(#gY2)"/>
<circle cx="340.3" cy="1054.2" r="4" fill="url(#gY)"/>
<circle cx="484.3" cy="1516.6" r="4" fill="url(#gY2)"/>
<circle cx="459.5" cy="1328" r="5.2" fill="url(#gY2)"/>
<circle cx="546" cy="1484.6" r="3.6" fill="url(#gY2)"/>
<circle cx="600.6" cy="988.1" r="4.6" fill="url(#gY)"/>
<circle cx="223.4" cy="1469" r="5.2" fill="url(#gY)"/>
<circle cx="286.4" cy="1272.9" r="4.6" fill="url(#gY)"/>
<circle cx="201.1" cy="1145.2" r="3.2" fill="url(#gY)"/>
<circle cx="194.4" cy="1259.4" r="5.2" fill="url(#gY2)"/>
<circle cx="371.9" cy="1201.2" r="3.6" fill="url(#gY)"/>
<circle cx="259.4" cy="1532.3" r="5.2" fill="url(#gY)"/>
<circle cx="555.2" cy="1532.6" r="4" fill="url(#gY)"/>
<circle cx="777.6" cy="1513.8" r="4" fill="url(#gY)"/>
<circle cx="460.7" cy="1305" r="3.2" fill="url(#gY2)"/>
<circle cx="740.8" cy="934.7" r="4" fill="url(#gY)"/>
<circle cx="190.6" cy="1228.5" r="3.6" fill="url(#gY)"/>
<circle cx="475.5" cy="940.9" r="3.6" fill="url(#gY)"/>
<circle cx="667.7" cy="1010.6" r="4" fill="url(#gY)"/>
<circle cx="201.3" cy="1017.4" r="4.6" fill="url(#gY)"/>
<circle cx="796.4" cy="1564.5" r="3.6" fill="url(#gY2)"/>
<circle cx="435.5" cy="1538.3" r="4" fill="url(#gY2)"/>
<circle cx="388.1" cy="1480.5" r="4" fill="url(#gY)"/>
<circle cx="737.1" cy="1450.3" r="3.6" fill="url(#gY)"/>
<circle cx="156.7" cy="1003" r="4" fill="url(#gY2)"/>
<circle cx="259.7" cy="949.3" r="5.2" fill="url(#gY)"/>
<circle cx="384.9" cy="1555.2" r="4" fill="url(#gY2)"/>
<circle cx="474.5" cy="1074" r="3.6" fill="url(#gY2)"/>
<circle cx="549.5" cy="1453" r="3.6" fill="url(#gY2)"/>
<circle cx="374.8" cy="935.4" r="4.6" fill="url(#gY2)"/>
<circle cx="754.1" cy="1451.3" r="3.6" fill="url(#gY)"/>
<circle cx="652" cy="1438.7" r="5.2" fill="url(#gY)"/>
<circle cx="515.3" cy="1101.1" r="3.2" fill="url(#gY)"/>
<circle cx="575.7" cy="1509.8" r="4" fill="url(#gY)"/>
<circle cx="590.6" cy="1530.7" r="4" fill="url(#gY)"/>
<circle cx="424.4" cy="1259.2" r="3.6" fill="url(#gY2)"/>
<circle cx="602.7" cy="1572.8" r="4" fill="url(#gY)"/>
<circle cx="444" cy="1100.3" r="3.6" fill="url(#gY)"/>
<circle cx="252.8" cy="1124.5" r="4" fill="url(#gY)"/>
<circle cx="713.4" cy="1463.9" r="4" fill="url(#gY)"/>
<circle cx="170.3" cy="1296.3" r="4" fill="url(#gY2)"/>
<circle cx="217.8" cy="1358.7" r="4" fill="url(#gY)"/>
<circle cx="743" cy="1551.7" r="3.6" fill="url(#gY)"/>
<circle cx="759.5" cy="1035.9" r="5.2" fill="url(#gY)"/>
<circle cx="774.8" cy="1126.1" r="3.6" fill="url(#gY2)"/>
<circle cx="237.1" cy="1081.6" r="3.2" fill="url(#gY)"/>
<circle cx="302.1" cy="1048.4" r="4" fill="url(#gY2)"/>
<circle cx="641.9" cy="1470.9" r="5.2" fill="url(#gY2)"/>
<circle cx="773.7" cy="1561" r="4" fill="url(#gY)"/>
<circle cx="801.4" cy="1221.7" r="4" fill="url(#gY2)"/>
<circle cx="265.6" cy="1238.1" r="3.6" fill="url(#gY)"/>
<circle cx="267.8" cy="1573.2" r="4.6" fill="url(#gY2)"/>
<circle cx="244.1" cy="952.1" r="3.6" fill="url(#gY)"/>
<circle cx="275.5" cy="1460.6" r="3.2" fill="url(#gY)"/>
<circle cx="786" cy="1270" r="3.2" fill="url(#gY)"/>
<circle cx="408.1" cy="1569.7" r="3.6" fill="url(#gY2)"/>
<circle cx="246.2" cy="1000" r="4" fill="url(#gY2)"/>
<circle cx="768.7" cy="920.9" r="3.6" fill="url(#gY)"/>
<circle cx="471.1" cy="1381.7" r="3.2" fill="url(#gY)"/>
<circle cx="378.6" cy="1411.3" r="4" fill="url(#gY)"/>
<circle cx="503.8" cy="1467.4" r="4" fill="url(#gY)"/>
<circle cx="767.5" cy="1477.6" r="5.2" fill="url(#gY2)"/>
<circle cx="359.8" cy="1472" r="4" fill="url(#gY2)"/>
<circle cx="421" cy="1493.7" r="3.2" fill="url(#gY2)"/>
<circle cx="725.8" cy="1441.6" r="4.6" fill="url(#gY)"/>
<circle cx="497.7" cy="1423.1" r="4" fill="url(#gY)"/>
<circle cx="442.1" cy="1012.9" r="3.6" fill="url(#gY)"/>
<circle cx="769.7" cy="1486.8" r="3.6" fill="url(#gY)"/>
<circle cx="328.6" cy="997.5" r="4.6" fill="url(#gY)"/>
<circle cx="632.5" cy="1080.6" r="3.6" fill="url(#gY)"/>
<circle cx="236" cy="1137.5" r="3.6" fill="url(#gY)"/>
<circle cx="664.6" cy="955.3" r="4" fill="url(#gY2)"/>
<circle cx="799.6" cy="1158.7" r="4" fill="url(#gY)"/>
<circle cx="581.4" cy="1495.3" r="3.6" fill="url(#gY)"/>
<circle cx="242.4" cy="970" r="3.6" fill="url(#gY2)"/>
<circle cx="704.6" cy="1520.4" r="4.6" fill="url(#gY)"/>
<circle cx="229.9" cy="1498.5" r="4" fill="url(#gY2)"/>
<circle cx="739.4" cy="1105.8" r="5.2" fill="url(#gY2)"/>
<circle cx="546.4" cy="972.2" r="3.6" fill="url(#gY)"/>
<circle cx="155" cy="1467.1" r="3.6" fill="url(#gY2)"/>
<circle cx="214.2" cy="1564.2" r="3.2" fill="url(#gY2)"/>
<circle cx="193.7" cy="922.3" r="4" fill="url(#gY)"/>
<circle cx="742.1" cy="1463.1" r="4" fill="url(#gY)"/>
<circle cx="784.2" cy="950.4" r="4" fill="url(#gY)"/>
<circle cx="308.5" cy="1464.8" r="5.2" fill="url(#gY)"/>
<circle cx="695.7" cy="1523.9" r="3.6" fill="url(#gY)"/>
<circle cx="347.6" cy="1511.7" r="4" fill="url(#gY)"/>
<circle cx="752.4" cy="1483.7" r="3.6" fill="url(#gY)"/>
<circle cx="189.6" cy="1202.5" r="3.6" fill="url(#gY)"/>
<circle cx="726.9" cy="1059" r="4" fill="url(#gY2)"/>
<circle cx="358.8" cy="1415.7" r="3.6" fill="url(#gY)"/>
<circle cx="732.6" cy="1366.7" r="3.6" fill="url(#gY)"/>
<circle cx="392.9" cy="1063.9" r="3.6" fill="url(#gY)"/>
<circle cx="185" cy="1555.3" r="3.6" fill="url(#gY2)"/>
<circle cx="351.1" cy="1030.5" r="4" fill="url(#gY)"/>
<circle cx="288.4" cy="1452.8" r="3.6" fill="url(#gY2)"/>
<circle cx="431" cy="1033.3" r="3.6" fill="url(#gY2)"/>
<circle cx="202" cy="1271" r="3.2" fill="url(#gY)"/>
<circle cx="266.8" cy="1260.1" r="4" fill="url(#gY2)"/>
<circle cx="245.5" cy="1128.7" r="3.6" fill="url(#gY)"/>
<circle cx="695.4" cy="1050.5" r="5.2" fill="url(#gY)"/>
<circle cx="341" cy="1130.1" r="4.6" fill="url(#gY)"/>
<circle cx="342.8" cy="923.2" r="4.6" fill="url(#gY)"/>
<circle cx="429.9" cy="1161" r="3.6" fill="url(#gY)"/>
<circle cx="275.2" cy="1468.2" r="3.6" fill="url(#gY)"/>
<circle cx="257.3" cy="1521.9" r="4" fill="url(#gY)"/>
<circle cx="458.1" cy="1517.1" r="3.6" fill="url(#gY2)"/>
<circle cx="259.8" cy="1356.6" r="4" fill="url(#gY)"/>
<circle cx="227.6" cy="1172.3" r="3.6" fill="url(#gY)"/>
<circle cx="302.6" cy="1088.7" r="3.2" fill="url(#gY)"/>
<circle cx="395.9" cy="1013.6" r="4.6" fill="url(#gY2)"/>
<circle cx="325.2" cy="1432.5" r="4.6" fill="url(#gY2)"/>
<circle cx="313.5" cy="1087" r="3.6" fill="url(#gY2)"/>
<circle cx="215.2" cy="1381.7" r="3.6" fill="url(#gY)"/>
<circle cx="371.1" cy="992" r="3.6" fill="url(#gY2)"/>
<circle cx="238.1" cy="1511.7" r="4" fill="url(#gY)"/>
<circle cx="434.6" cy="1111.5" r="4" fill="url(#gY2)"/>
<circle cx="180.8" cy="1028.5" r="3.6" fill="url(#gY2)"/>
<circle cx="484.2" cy="1547" r="4.6" fill="url(#gY)"/>
<circle cx="396.6" cy="944.8" r="4.6" fill="url(#gY)"/>
<circle cx="284.2" cy="1020.9" r="4.6" fill="url(#gY2)"/>
<circle cx="470.8" cy="1404.9" r="4" fill="url(#gY)"/>
<circle cx="592.6" cy="1315.7" r="3.6" fill="url(#gY2)"/>
<circle cx="563.6" cy="1501.4" r="3.2" fill="url(#gY)"/>
<circle cx="204.8" cy="1435.8" r="4" fill="url(#gY)"/>
<circle cx="808" cy="1320.6" r="4.6" fill="url(#gY2)"/>
<circle cx="196.3" cy="1367.8" r="3.2" fill="url(#gY2)"/>
<circle cx="389.5" cy="945.3" r="3.2" fill="url(#gY)"/>
<circle cx="444.7" cy="1357.8" r="3.6" fill="url(#gY)"/>
<circle cx="449.5" cy="1445.7" r="3.6" fill="url(#gY2)"/>
<circle cx="425.3" cy="979.5" r="4" fill="url(#gY2)"/>
<circle cx="166.4" cy="933.5" r="3.6" fill="url(#gY)"/>
<circle cx="191.7" cy="1441.9" r="3.2" fill="url(#gY)"/>
<circle cx="440.4" cy="999.5" r="3.6" fill="url(#gY2)"/>
<circle cx="392.5" cy="1577.6" r="4" fill="url(#gY2)"/>
<circle cx="424.2" cy="923.7" r="3.2" fill="url(#gY2)"/>
<circle cx="619" cy="1491.3" r="3.2" fill="url(#gY)"/>
<circle cx="348.9" cy="1117.9" r="4.6" fill="url(#gY)"/>
<circle cx="208.6" cy="1554.3" r="4.6" fill="url(#gY2)"/>
<circle cx="307.2" cy="1021" r="4.6" fill="url(#gY)"/>
<circle cx="486.6" cy="1333.4" r="4.6" fill="url(#gY)"/>
<circle cx="489.2" cy="1553" r="3.2" fill="url(#gY)"/>
<circle cx="597.7" cy="1529.1" r="4.6" fill="url(#gY)"/>
<circle cx="548.3" cy="935.1" r="4.6" fill="url(#gY)"/>
<circle cx="320.9" cy="1229.2" r="3.6" fill="url(#gY2)"/>
<circle cx="465.6" cy="1050.2" r="3.2" fill="url(#gY)"/>
<circle cx="309.9" cy="1036.2" r="3.6" fill="url(#gY)"/>
<circle cx="391.3" cy="1456.6" r="4.6" fill="url(#gY)"/>
<circle cx="330.4" cy="1061.3" r="3.6" fill="url(#gY)"/>
<circle cx="170.5" cy="1189.6" r="4" fill="url(#gY)"/>
<circle cx="436.5" cy="1048.5" r="4.6" fill="url(#gY)"/>
<circle cx="623.5" cy="1521.7" r="4.6" fill="url(#gY)"/>
<circle cx="214.5" cy="1456.5" r="4" fill="url(#gY2)"/>
<circle cx="344" cy="1482.2" r="4" fill="url(#gY2)"/>
<circle cx="254.4" cy="1373.1" r="4" fill="url(#gY)"/>
<circle cx="564.5" cy="1256.2" r="4" fill="url(#gY2)"/>
<circle cx="291.8" cy="996.3" r="3.6" fill="url(#gY)"/>
<circle cx="311.4" cy="1062.7" r="3.6" fill="url(#gY)"/>
<circle cx="746.5" cy="1136.5" r="3.6" fill="url(#gY)"/>
<circle cx="287.3" cy="1398.9" r="4.6" fill="url(#gY)"/>
<circle cx="690.3" cy="1074.9" r="3.6" fill="url(#gY)"/>
<circle cx="196.8" cy="1081.7" r="3.6" fill="url(#gY)"/>
<circle cx="791.1" cy="1515.3" r="4" fill="url(#gY2)"/>
<circle cx="450.7" cy="1082.2" r="4" fill="url(#gY)"/>
<circle cx="532.9" cy="1464.2" r="4" fill="url(#gY2)"/>
<circle cx="356" cy="1356.1" r="5.2" fill="url(#gY)"/>
<circle cx="623.6" cy="1442.3" r="3.6" fill="url(#gY)"/>
<circle cx="644.7" cy="1318.4" r="3.6" fill="url(#gY)"/>
<circle cx="377.6" cy="1028.3" r="3.2" fill="url(#gY)"/>
<circle cx="552.1" cy="961.1" r="4" fill="url(#gY)"/>
<circle cx="163.3" cy="1208.8" r="5.2" fill="url(#gY2)"/>
<circle cx="469.5" cy="995.7" r="5.2" fill="url(#gY)"/>
<circle cx="334.1" cy="1477.1" r="4" fill="url(#gY)"/>
<circle cx="768.3" cy="1134.4" r="4" fill="url(#gY)"/>
<circle cx="156.8" cy="965.1" r="3.6" fill="url(#gY)"/>
<circle cx="225.9" cy="1489.5" r="5.2" fill="url(#gY)"/>
<circle cx="357.8" cy="1156.1" r="3.6" fill="url(#gY)"/>
<circle cx="730.6" cy="1564.6" r="4" fill="url(#gY2)"/>
<circle cx="220.8" cy="1415.9" r="4.6" fill="url(#gY)"/>
<circle cx="676.8" cy="1577.3" r="4.6" fill="url(#gY)"/>
<circle cx="640.6" cy="988.1" r="4.6" fill="url(#gY2)"/>
<circle cx="283.4" cy="985" r="3.6" fill="url(#gY2)"/>
<circle cx="679.3" cy="948.7" r="3.2" fill="url(#gY)"/>
<circle cx="738.7" cy="1394.9" r="4" fill="url(#gY)"/>
<circle cx="798.3" cy="1117.1" r="3.2" fill="url(#gY2)"/>
<circle cx="614.8" cy="1343.6" r="5.2" fill="url(#gY)"/>
<circle cx="438" cy="1380.3" r="4" fill="url(#gY)"/>
<circle cx="755.4" cy="1116.6" r="3.2" fill="url(#gY2)"/>
<circle cx="504.5" cy="1109.2" r="5.2" fill="url(#gY2)"/>
<circle cx="345.9" cy="964.8" r="4.6" fill="url(#gY)"/>
<circle cx="435.1" cy="1059.4" r="3.6" fill="url(#gY2)"/>
<circle cx="277" cy="1436" r="5.2" fill="url(#gY)"/>
<circle cx="198.2" cy="1237.1" r="4.6" fill="url(#gY2)"/>
<circle cx="284" cy="1089.7" r="4" fill="url(#gY)"/>
<circle cx="323.4" cy="1572.3" r="4.6" fill="url(#gY2)"/>
<circle cx="586.7" cy="1454.2" r="3.2" fill="url(#gY)"/>
<circle cx="441" cy="1239.6" r="5.2" fill="url(#gY)"/>
<circle cx="493.5" cy="1143.2" r="4" fill="url(#gY2)"/>
<circle cx="154.6" cy="941" r="3.2" fill="url(#gY2)"/>
<circle cx="713.6" cy="1300.5" r="4.6" fill="url(#gY)"/>
<circle cx="570" cy="957.1" r="3.6" fill="url(#gY)"/>
<circle cx="810.2" cy="1009.9" r="3.6" fill="url(#gY)"/>
<circle cx="720.8" cy="1457.9" r="3.6" fill="url(#gY)"/>
<circle cx="433.8" cy="1380.7" r="4" fill="url(#gY2)"/>
<circle cx="766.8" cy="1378.5" r="3.6" fill="url(#gY)"/>
<circle cx="352.3" cy="997.5" r="5.2" fill="url(#gY2)"/>
<circle cx="419.6" cy="945.1" r="4" fill="url(#gY2)"/>
<circle cx="604.7" cy="1475.4" r="3.6" fill="url(#gY)"/>
<circle cx="271.6" cy="1516.8" r="4" fill="url(#gY)"/>
<circle cx="163.6" cy="1070.9" r="4" fill="url(#gY2)"/>
<circle cx="645.5" cy="1455.5" r="3.6" fill="url(#gY)"/>
<circle cx="150" cy="1345.4" r="3.6" fill="url(#gY2)"/>
<circle cx="735" cy="1025.3" r="5.2" fill="url(#gY)"/>
<circle cx="805.9" cy="1418.9" r="3.6" fill="url(#gY)"/>
<circle cx="582.2" cy="1055.5" r="4" fill="url(#gY)"/>
<circle cx="696.7" cy="1152" r="4.6" fill="url(#gY)"/>
<circle cx="251.9" cy="1143.8" r="3.6" fill="url(#gY)"/>
<circle cx="652.2" cy="1100.2" r="4.6" fill="url(#gY)"/>
<circle cx="694.4" cy="1348.1" r="4.6" fill="url(#gY2)"/>
<circle cx="800.6" cy="989.6" r="3.2" fill="url(#gY)"/>
<circle cx="781.7" cy="1464" r="3.6" fill="url(#gY)"/>
<circle cx="559.9" cy="999" r="3.6" fill="url(#gY2)"/>
<circle cx="404.7" cy="1262.6" r="5.2" fill="url(#gY)"/>
<circle cx="655.8" cy="1419.1" r="5.2" fill="url(#gY)"/>
<circle cx="158" cy="1290.1" r="3.2" fill="url(#gY)"/>
<circle cx="429.2" cy="1503.3" r="3.6" fill="url(#gY)"/>
<circle cx="415.4" cy="967.4" r="3.2" fill="url(#gY)"/>
<circle cx="317.5" cy="1426.4" r="4" fill="url(#gY2)"/>
<circle cx="718.7" cy="1306.6" r="5.2" fill="url(#gY)"/>
<circle cx="793.4" cy="917.1" r="3.6" fill="url(#gY)"/>
<circle cx="674.9" cy="1048.8" r="5.2" fill="url(#gY2)"/>
<circle cx="261.8" cy="1563" r="3.2" fill="url(#gY)"/>
<circle cx="287.1" cy="1436.1" r="3.6" fill="url(#gY2)"/>
<circle cx="180.5" cy="1381.5" r="3.6" fill="url(#gY)"/>
<circle cx="701.3" cy="1046.4" r="3.2" fill="url(#gY)"/>
<circle cx="382" cy="1501.7" r="3.6" fill="url(#gY2)"/>
<circle cx="306.6" cy="1342.6" r="4.6" fill="url(#gY2)"/>
<circle cx="735.3" cy="1068.8" r="4.6" fill="url(#gY)"/>
<circle cx="732.5" cy="1340.1" r="4" fill="url(#gY2)"/>
<circle cx="447.1" cy="1425.7" r="3.2" fill="url(#gY2)"/>
<circle cx="166.1" cy="975.3" r="4" fill="url(#gY2)"/>
<circle cx="230.1" cy="1558.4" r="4.6" fill="url(#gY)"/>
<circle cx="741" cy="1065.8" r="4" fill="url(#gY)"/>
<circle cx="741.2" cy="1566.4" r="4" fill="url(#gY2)"/>
<circle cx="259.1" cy="966.6" r="5.2" fill="url(#gY2)"/>
<circle cx="306.9" cy="1458.1" r="3.6" fill="url(#gY)"/>
<circle cx="755.5" cy="1220" r="3.2" fill="url(#gY)"/>
<circle cx="542.1" cy="957" r="3.6" fill="url(#gY2)"/>
<circle cx="195.1" cy="1087.5" r="3.6" fill="url(#gY)"/>
<circle cx="620" cy="1570.4" r="5.2" fill="url(#gY)"/>
<circle cx="253.3" cy="1278.1" r="4.6" fill="url(#gY2)"/>
<circle cx="565.7" cy="1018.8" r="4.6" fill="url(#gY)"/>
<circle cx="407.6" cy="1552.6" r="4.6" fill="url(#gY)"/>
<circle cx="512.2" cy="1124.6" r="3.6" fill="url(#gY)"/>
<circle cx="778" cy="1017.4" r="4.6" fill="url(#gY)"/>
<circle cx="151.7" cy="1030.1" r="3.6" fill="url(#gY)"/>
<circle cx="503.1" cy="1439.1" r="4.6" fill="url(#gY)"/>
<circle cx="558.4" cy="1124.9" r="4" fill="url(#gY)"/>
<circle cx="429.9" cy="1384.2" r="3.6" fill="url(#gY)"/>
<circle cx="257.5" cy="987.6" r="4" fill="url(#gY2)"/>
<circle cx="198.8" cy="1308" r="3.2" fill="url(#gY2)"/>
<circle cx="398.4" cy="1531.3" r="3.6" fill="url(#gY2)"/>
<circle cx="399.4" cy="1491" r="3.6" fill="url(#gY2)"/>
<circle cx="703.2" cy="1368.2" r="3.2" fill="url(#gY)"/>
<circle cx="527.4" cy="1517.4" r="5.2" fill="url(#gY)"/>
<circle cx="565.9" cy="1330.2" r="4.6" fill="url(#gY2)"/>
<circle cx="647.5" cy="1051.4" r="3.2" fill="url(#gY)"/>
<circle cx="773.6" cy="921.1" r="3.6" fill="url(#gY)"/>
<circle cx="399.3" cy="928.6" r="4" fill="url(#gY2)"/>
<circle cx="591.1" cy="1079.9" r="4" fill="url(#gY2)"/>
<circle cx="195.1" cy="1489.6" r="3.2" fill="url(#gY2)"/>
<circle cx="180.8" cy="1066" r="3.2" fill="url(#gY)"/>
<circle cx="583.1" cy="1381.2" r="5.2" fill="url(#gY)"/>
<circle cx="263.4" cy="1544.4" r="4" fill="url(#gY)"/>
<circle cx="745.1" cy="1516.7" r="3.2" fill="url(#gY)"/>
<circle cx="704.3" cy="1148.4" r="3.6" fill="url(#gY)"/>
<circle cx="693.5" cy="1509.7" r="3.6" fill="url(#gY)"/>
<circle cx="753.9" cy="1049.6" r="4.6" fill="url(#gY)"/>
<circle cx="700.4" cy="1294.8" r="5.2" fill="url(#gY2)"/>
<circle cx="280.1" cy="1336.4" r="5.2" fill="url(#gY2)"/>
<circle cx="200.2" cy="1479.9" r="3.2" fill="url(#gY2)"/>
<circle cx="672.4" cy="1531.9" r="4" fill="url(#gY)"/>
<circle cx="442.1" cy="1576.7" r="5.2" fill="url(#gY)"/>
<circle cx="618" cy="1045" r="4" fill="url(#gY)"/>
<circle cx="608.5" cy="1557.2" r="4" fill="url(#gY2)"/>
<circle cx="488.1" cy="1363.4" r="3.6" fill="url(#gY2)"/>
<circle cx="370.1" cy="1467.8" r="3.6" fill="url(#gY)"/>
<circle cx="394.7" cy="1088.4" r="4.6" fill="url(#gY2)"/>
<circle cx="321.4" cy="1128.6" r="4" fill="url(#gY)"/>
<circle cx="201.3" cy="927.5" r="3.2" fill="url(#gY)"/>
<circle cx="777.4" cy="1394" r="4" fill="url(#gY)"/>
<circle cx="309.4" cy="1133.8" r="3.2" fill="url(#gY)"/>
<circle cx="331.1" cy="1351.7" r="5.2" fill="url(#gY)"/>
<circle cx="161.8" cy="1405.4" r="5.2" fill="url(#gY2)"/>
<circle cx="552.3" cy="965.6" r="4" fill="url(#gY)"/>
<circle cx="789.9" cy="1422.9" r="3.6" fill="url(#gY)"/>
<circle cx="572.5" cy="1256.8" r="4" fill="url(#gY2)"/>
<circle cx="520.9" cy="1454.3" r="4" fill="url(#gY)"/>
<circle cx="260.8" cy="1139.5" r="5.2" fill="url(#gY2)"/>
<circle cx="316.3" cy="1268.4" r="4" fill="url(#gY2)"/>
<circle cx="169.4" cy="1279.8" r="4" fill="url(#gY2)"/>
<circle cx="343.8" cy="1462.9" r="3.2" fill="url(#gY)"/>
<circle cx="335.3" cy="950.9" r="3.6" fill="url(#gY)"/>
<circle cx="376.9" cy="1496.8" r="4" fill="url(#gY)"/>
<circle cx="191.6" cy="926.1" r="4" fill="url(#gY)"/>
<circle cx="430.7" cy="981.8" r="3.6" fill="url(#gY)"/>
<circle cx="381.3" cy="1043.4" r="4" fill="url(#gY)"/>
<circle cx="321.2" cy="1545.8" r="3.2" fill="url(#gY)"/>
<circle cx="162.2" cy="1214.6" r="4.6" fill="url(#gY)"/>
<circle cx="699.5" cy="1202.4" r="4" fill="url(#gY)"/>
<circle cx="231.9" cy="1461.9" r="3.6" fill="url(#gY)"/>
<circle cx="718.8" cy="1482.7" r="3.6" fill="url(#gY)"/>
<circle cx="719.8" cy="1477.8" r="4" fill="url(#gY)"/>
<circle cx="610.3" cy="1045.2" r="3.6" fill="url(#gY)"/>
<circle cx="748.1" cy="1330.1" r="3.6" fill="url(#gY)"/>
<circle cx="214.8" cy="1495.4" r="4" fill="url(#gY)"/>
<circle cx="343.8" cy="1224.4" r="3.6" fill="url(#gY2)"/>
<circle cx="696.7" cy="995.5" r="5.2" fill="url(#gY)"/>
<circle cx="150.4" cy="1477" r="4.6" fill="url(#gY)"/>
<circle cx="351" cy="1412.1" r="4" fill="url(#gY)"/>
<circle cx="290.2" cy="1577" r="4.6" fill="url(#gY)"/>
<circle cx="238.1" cy="1461.4" r="4" fill="url(#gY)"/>
<circle cx="471.8" cy="1505.8" r="3.6" fill="url(#gY)"/>
<circle cx="398.4" cy="931.2" r="5.2" fill="url(#gY)"/>
<circle cx="775.8" cy="1360.2" r="3.2" fill="url(#gY2)"/>
<circle cx="620.6" cy="1421.3" r="4" fill="url(#gY)"/>
<circle cx="172.1" cy="1122.9" r="3.6" fill="url(#gY)"/>
<circle cx="540.5" cy="1098.2" r="3.2" fill="url(#gY)"/>
<circle cx="774.3" cy="962.6" r="3.2" fill="url(#gY)"/>
<circle cx="765.8" cy="1334.3" r="5.2" fill="url(#gY2)"/>
<circle cx="358.1" cy="1311.6" r="3.6" fill="url(#gY)"/>
<circle cx="553.6" cy="1472.8" r="3.2" fill="url(#gY2)"/>
<circle cx="487.9" cy="1455" r="5.2" fill="url(#gY)"/>
<circle cx="206.6" cy="1291.5" r="3.6" fill="url(#gY)"/>
<circle cx="637.3" cy="1427" r="3.6" fill="url(#gY2)"/>
<circle cx="776.5" cy="1421.9" r="4.6" fill="url(#gY)"/>
<circle cx="783.6" cy="952.6" r="4" fill="url(#gY)"/>
<circle cx="740.4" cy="1294.5" r="5.2" fill="url(#gY)"/>
<circle cx="398.5" cy="1416.2" r="3.6" fill="url(#gY2)"/>
<circle cx="666.2" cy="1142.3" r="4" fill="url(#gY)"/>
<circle cx="457.9" cy="1093.5" r="3.6" fill="url(#gY)"/>
<circle cx="430.8" cy="1559.9" r="4.6" fill="url(#gY)"/>
<circle cx="417.8" cy="1039.1" r="5.2" fill="url(#gY)"/>
<circle cx="345.3" cy="964.2" r="3.2" fill="url(#gY2)"/>
<circle cx="224.8" cy="1473.5" r="3.6" fill="url(#gY)"/>
<circle cx="330.2" cy="1056.9" r="4" fill="url(#gY)"/>
<circle cx="476" cy="1489.6" r="3.6" fill="url(#gY2)"/>
<circle cx="574.8" cy="1379" r="4" fill="url(#gY)"/>
<circle cx="620.3" cy="1522.8" r="3.6" fill="url(#gY2)"/>
<circle cx="482.2" cy="1564" r="3.2" fill="url(#gY)"/>
<circle cx="270.2" cy="1400.2" r="4.6" fill="url(#gY)"/>
<circle cx="685.1" cy="942.4" r="5.2" fill="url(#gY2)"/>
<circle cx="615.2" cy="1488" r="4" fill="url(#gY)"/>
<circle cx="723.3" cy="1276.5" r="3.6" fill="url(#gY)"/>
<circle cx="767.4" cy="1138.7" r="5.2" fill="url(#gY)"/>
<circle cx="220" cy="1508.6" r="5.2" fill="url(#gY2)"/>
<circle cx="707.8" cy="942.3" r="4" fill="url(#gY)"/>
<circle cx="413.2" cy="1572.7" r="3.2" fill="url(#gY)"/>
<circle cx="440" cy="1097.2" r="4.6" fill="url(#gY)"/>
<circle cx="590.5" cy="1471.4" r="4" fill="url(#gY)"/>
<circle cx="808" cy="1381.9" r="4" fill="url(#gY)"/>
<circle cx="780.4" cy="1481.8" r="3.6" fill="url(#gY2)"/>
<circle cx="328.2" cy="1417.2" r="3.6" fill="url(#gY)"/>
<circle cx="539.8" cy="1323.6" r="4.6" fill="url(#gY)"/>
<circle cx="261.3" cy="1456.1" r="5.2" fill="url(#gY)"/>
<circle cx="164.1" cy="1111.1" r="4" fill="url(#gY2)"/>
<circle cx="410.3" cy="929.7" r="3.6" fill="url(#gY)"/>
<circle cx="201.6" cy="1576.5" r="3.6" fill="url(#gY)"/>
<circle cx="791.6" cy="1060.4" r="3.6" fill="url(#gY2)"/>
<circle cx="292.3" cy="1074.3" r="3.6" fill="url(#gY)"/>
<circle cx="261.8" cy="965.3" r="3.6" fill="url(#gY)"/>
<circle cx="393.9" cy="947.4" r="4.6" fill="url(#gY)"/>
<circle cx="671.2" cy="1117" r="4" fill="url(#gY)"/>
<circle cx="706.8" cy="1147.3" r="4" fill="url(#gY2)"/>
<circle cx="265.8" cy="1330.6" r="3.6" fill="url(#gY2)"/>
<circle cx="563.6" cy="983.9" r="4" fill="url(#gY)"/>
<circle cx="217.6" cy="1476" r="3.6" fill="url(#gY)"/>
<circle cx="639.7" cy="1373.3" r="4.6" fill="url(#gY)"/>
<circle cx="549.4" cy="1037.8" r="3.2" fill="url(#gY)"/>
<circle cx="717.8" cy="1567.7" r="4" fill="url(#gY)"/>
<circle cx="283.9" cy="1303.3" r="4" fill="url(#gY)"/>
<circle cx="368" cy="1109.9" r="3.6" fill="url(#gY)"/>
<circle cx="609.9" cy="1455.4" r="4" fill="url(#gY)"/>
<circle cx="629.8" cy="1180.3" r="5.2" fill="url(#gY)"/>
<circle cx="194.5" cy="1434.8" r="3.2" fill="url(#gY2)"/>
<circle cx="607.6" cy="1433.5" r="4" fill="url(#gY)"/>
<circle cx="275.4" cy="1060.5" r="3.6" fill="url(#gY)"/>
<circle cx="792.5" cy="1016.3" r="5.2" fill="url(#gY)"/>
<circle cx="296.2" cy="1040" r="4" fill="url(#gY)"/>
<circle cx="743.8" cy="1417.6" r="4.6" fill="url(#gY)"/>
<circle cx="590.1" cy="1141.8" r="4" fill="url(#gY)"/>
<circle cx="625.3" cy="1413" r="4" fill="url(#gY)"/>
<circle cx="199.5" cy="1311.9" r="5.2" fill="url(#gY)"/>
<circle cx="720" cy="950.8" r="3.6" fill="url(#gY)"/>
<circle cx="296.9" cy="1109.1" r="3.6" fill="url(#gY)"/>
<circle cx="789.6" cy="1450.2" r="5.2" fill="url(#gY)"/>
<circle cx="193" cy="1026.6" r="5.2" fill="url(#gY)"/>
<circle cx="623.8" cy="1463.8" r="3.2" fill="url(#gY)"/>
<circle cx="801.2" cy="1455.9" r="3.6" fill="url(#gY)"/>
<circle cx="731.1" cy="1495" r="4.6" fill="url(#gY)"/>
<circle cx="783.7" cy="1023.7" r="5.2" fill="url(#gY)"/>
<circle cx="693.8" cy="1110" r="4" fill="url(#gY)"/>
<circle cx="301.7" cy="1310.7" r="4" fill="url(#gY)"/>
<circle cx="627.9" cy="1084.7" r="4.6" fill="url(#gY)"/>
<circle cx="278.1" cy="1512.7" r="4" fill="url(#gY)"/>
<circle cx="716.6" cy="1272.8" r="4" fill="url(#gY)"/>
<circle cx="171.3" cy="1466.7" r="3.6" fill="url(#gY)"/>
<circle cx="581.9" cy="1008.5" r="3.2" fill="url(#gY2)"/>
<circle cx="239.7" cy="1243.8" r="4" fill="url(#gY)"/>
<circle cx="809.8" cy="1149.4" r="4" fill="url(#gY2)"/>
<circle cx="643.7" cy="1372.9" r="4.6" fill="url(#gY)"/>
<circle cx="315.1" cy="1095.5" r="3.6" fill="url(#gY)"/>
<circle cx="213.4" cy="1024.8" r="3.6" fill="url(#gY)"/>
<circle cx="214.6" cy="1015.1" r="5.2" fill="url(#gY2)"/>
<circle cx="398.4" cy="1290" r="4" fill="url(#gY)"/>
<circle cx="279.5" cy="1379.7" r="5.2" fill="url(#gY2)"/>
<circle cx="423.2" cy="1390.2" r="3.2" fill="url(#gY)"/>
<circle cx="250.6" cy="1070.3" r="5.2" fill="url(#gY2)"/>
<circle cx="504.4" cy="1575.6" r="3.2" fill="url(#gY2)"/>
<circle cx="525.1" cy="947" r="3.6" fill="url(#gY)"/>
<circle cx="169.8" cy="1087.5" r="4" fill="url(#gY)"/>
<circle cx="228.1" cy="1559.3" r="5.2" fill="url(#gY)"/>
<circle cx="312.9" cy="1367.4" r="5.2" fill="url(#gY2)"/>
<circle cx="607" cy="1341.6" r="4" fill="url(#gY2)"/>
<circle cx="273.9" cy="1083.7" r="3.6" fill="url(#gY)"/>
<circle cx="445.7" cy="1497.8" r="5.2" fill="url(#gY2)"/>
<circle cx="803.8" cy="1541" r="4" fill="url(#gY)"/>
<circle cx="197.8" cy="1483.9" r="4" fill="url(#gY2)"/>
<circle cx="327.9" cy="1091.7" r="4" fill="url(#gY)"/>
<circle cx="154.6" cy="957.6" r="4.6" fill="url(#gY)"/>
<circle cx="402.7" cy="926.5" r="3.6" fill="url(#gY)"/>
<circle cx="341" cy="1035.3" r="4" fill="url(#gY)"/>
<circle cx="491.4" cy="1433.1" r="4" fill="url(#gY2)"/>
<circle cx="774.9" cy="1389.4" r="3.6" fill="url(#gY2)"/>
<circle cx="227.3" cy="1061" r="3.2" fill="url(#gY2)"/>
<circle cx="197.6" cy="1234.7" r="4" fill="url(#gY2)"/>
<circle cx="425.1" cy="1489.9" r="5.2" fill="url(#gY)"/>
<circle cx="646.4" cy="1030.1" r="5.2" fill="url(#gY2)"/>
<circle cx="385.9" cy="1294.9" r="5.2" fill="url(#gY)"/>
<circle cx="209" cy="920.5" r="4" fill="url(#gY)"/>
<circle cx="734.8" cy="1526.4" r="3.2" fill="url(#gY)"/>
<circle cx="392" cy="1212.6" r="5.2" fill="url(#gY)"/>
<circle cx="334.2" cy="1432.3" r="3.6" fill="url(#gY)"/>
<circle cx="376.5" cy="1213.9" r="3.2" fill="url(#gY2)"/>
<circle cx="429.1" cy="1066.9" r="5.2" fill="url(#gY)"/>
<circle cx="641.5" cy="1188" r="5.2" fill="url(#gY)"/>
<circle cx="324.2" cy="982.5" r="3.6" fill="url(#gY)"/>
<circle cx="738.5" cy="1106" r="3.2" fill="url(#gY)"/>
<circle cx="800.6" cy="935.1" r="4.6" fill="url(#gY)"/>
<circle cx="177.3" cy="1356.7" r="4.6" fill="url(#gY)"/>
<circle cx="222.6" cy="1474.8" r="4.6" fill="url(#gY)"/>
<circle cx="585.9" cy="1234.6" r="3.6" fill="url(#gY)"/>
<circle cx="206.7" cy="1475.4" r="5.2" fill="url(#gY)"/>
<circle cx="732" cy="1221.6" r="5.2" fill="url(#gY)"/>
<circle cx="304.1" cy="1049.6" r="4" fill="url(#gY2)"/>
<circle cx="614" cy="1557.4" r="3.6" fill="url(#gY)"/>
<circle cx="799.7" cy="1076.3" r="3.2" fill="url(#gY)"/>
<circle cx="382.2" cy="1435.9" r="4" fill="url(#gY2)"/>
<circle cx="704.8" cy="1027.6" r="4" fill="url(#gY)"/>
<circle cx="701.5" cy="925.6" r="4" fill="url(#gY)"/>
<circle cx="457" cy="1532.5" r="4" fill="url(#gY)"/>
<circle cx="762" cy="1314.7" r="3.6" fill="url(#gY)"/>
<circle cx="504.1" cy="1140.9" r="5.2" fill="url(#gY)"/>
<circle cx="365.9" cy="1514.4" r="3.6" fill="url(#gY)"/>
<circle cx="430.3" cy="1463.1" r="4" fill="url(#gY)"/>
<circle cx="316.6" cy="1265.4" r="3.6" fill="url(#gY2)"/>
<circle cx="154.8" cy="928.2" r="5.2" fill="url(#gY2)"/>
<circle cx="258.3" cy="1416.6" r="3.6" fill="url(#gY)"/>
<circle cx="773.2" cy="1024.4" r="5.2" fill="url(#gY)"/>
<circle cx="360.6" cy="967.3" r="4.6" fill="url(#gY)"/>
<circle cx="312.7" cy="1446.7" r="3.2" fill="url(#gY)"/>
<circle cx="493.7" cy="1046.7" r="3.2" fill="url(#gY2)"/>
<circle cx="725.4" cy="1491" r="4" fill="url(#gY)"/>
<circle cx="575.6" cy="1451" r="4" fill="url(#gY)"/>
<circle cx="170.4" cy="967.8" r="4" fill="url(#gY)"/>
<circle cx="537.5" cy="1457" r="4.6" fill="url(#gY2)"/>
<circle cx="362.4" cy="1547.9" r="4.6" fill="url(#gY)"/>
<circle cx="237.6" cy="1521.1" r="3.6" fill="url(#gY)"/>
<circle cx="428.4" cy="1433.6" r="4" fill="url(#gY)"/>
<circle cx="607.9" cy="1546.2" r="4.6" fill="url(#gY)"/>
<circle cx="203.8" cy="1526.3" r="4.6" fill="url(#gY2)"/>
<circle cx="615.7" cy="1037.1" r="5.2" fill="url(#gY)"/>
<circle cx="657.7" cy="1378.6" r="3.6" fill="url(#gY)"/>
<circle cx="264.3" cy="1190.6" r="4" fill="url(#gY)"/>
<circle cx="763.9" cy="1568.6" r="5.2" fill="url(#gY)"/>
<circle cx="385.7" cy="923" r="4" fill="url(#gY2)"/>
<circle cx="786.2" cy="1328.4" r="4.6" fill="url(#gY)"/>
<circle cx="695.3" cy="1500" r="5.2" fill="url(#gY)"/>
<circle cx="811.1" cy="1499.6" r="5.2" fill="url(#gY2)"/>
<circle cx="182.7" cy="931.4" r="4.6" fill="url(#gY)"/>
<circle cx="697.6" cy="1482.3" r="3.2" fill="url(#gY)"/>
<circle cx="486.9" cy="1382.3" r="4" fill="url(#gY)"/>
<circle cx="359.2" cy="944.4" r="3.6" fill="url(#gY2)"/>
<circle cx="166.2" cy="940.9" r="4" fill="url(#gY2)"/>
<circle cx="269.5" cy="1477.8" r="3.6" fill="url(#gY2)"/>
<circle cx="488.2" cy="1337.2" r="4" fill="url(#gY)"/>
<circle cx="792.7" cy="919.9" r="3.6" fill="url(#gY)"/>
<circle cx="213.2" cy="1106.4" r="4.6" fill="url(#gY)"/>
<circle cx="587.9" cy="996.5" r="4.6" fill="url(#gY2)"/>
<circle cx="244.7" cy="996.7" r="3.2" fill="url(#gY2)"/>
<circle cx="366.9" cy="953.8" r="4" fill="url(#gY)"/>
<circle cx="428.6" cy="980.2" r="5.2" fill="url(#gY2)"/>
<circle cx="801.5" cy="1393.5" r="4.6" fill="url(#gY)"/>
<circle cx="343.6" cy="1010.1" r="3.6" fill="url(#gY2)"/>
<circle cx="167.2" cy="1042" r="3.6" fill="url(#gY)"/>
<circle cx="701.7" cy="1535.8" r="3.6" fill="url(#gY2)"/>
<circle cx="170" cy="1179.9" r="4" fill="url(#gY)"/>
<circle cx="476.9" cy="957.7" r="3.6" fill="url(#gY)"/>
<circle cx="201.6" cy="1496.9" r="5.2" fill="url(#gY)"/>
<circle cx="660.4" cy="1110.4" r="5.2" fill="url(#gY)"/>
<circle cx="200.4" cy="1089.1" r="3.6" fill="url(#gY2)"/>
<circle cx="652.2" cy="1442.9" r="4.6" fill="url(#gY)"/>
<circle cx="784.2" cy="1113" r="4" fill="url(#gY)"/>
<circle cx="493.5" cy="954.8" r="4.6" fill="url(#gY)"/>
<circle cx="332.6" cy="1161.7" r="4" fill="url(#gY)"/>
<circle cx="448.8" cy="1186.3" r="4" fill="url(#gY2)"/>
<circle cx="684.9" cy="1268.4" r="4" fill="url(#gY2)"/>
<circle cx="254.2" cy="1009.2" r="3.6" fill="url(#gY)"/>
<circle cx="587.5" cy="1470.7" r="3.6" fill="url(#gY)"/>
<circle cx="665.7" cy="1072.3" r="3.6" fill="url(#gY)"/>
<circle cx="798.3" cy="1008.2" r="4" fill="url(#gY)"/>
<circle cx="701.1" cy="1574.8" r="4" fill="url(#gY)"/>
<circle cx="368.3" cy="1011.1" r="4" fill="url(#gY)"/>
<circle cx="331.1" cy="1020.5" r="5.2" fill="url(#gY)"/>
<circle cx="720.7" cy="1129.8" r="5.2" fill="url(#gY2)"/>
<circle cx="295.2" cy="1430.4" r="4.6" fill="url(#gY)"/>
<circle cx="161.3" cy="1509.2" r="4" fill="url(#gY)"/>
<circle cx="296" cy="1395.5" r="4.6" fill="url(#gY2)"/>
<circle cx="295.7" cy="1084.6" r="4" fill="url(#gY)"/>
<circle cx="406.9" cy="972.4" r="3.6" fill="url(#gY2)"/>
<circle cx="666.5" cy="1537" r="3.2" fill="url(#gY)"/>
<circle cx="193" cy="1540" r="3.6" fill="url(#gY2)"/>
<circle cx="216" cy="1294.6" r="3.6" fill="url(#gY2)"/>
<circle cx="406" cy="1547.8" r="4.6" fill="url(#gY2)"/>
<circle cx="510.8" cy="931" r="4" fill="url(#gY)"/>
<circle cx="202.3" cy="1140.3" r="4" fill="url(#gY2)"/>
<circle cx="401.4" cy="1266.5" r="3.2" fill="url(#gY)"/>
<circle cx="489.7" cy="1541.6" r="4" fill="url(#gY2)"/>
<circle cx="157" cy="1304.3" r="5.2" fill="url(#gY2)"/>
<circle cx="694.8" cy="1500.5" r="3.2" fill="url(#gY)"/>
<circle cx="283" cy="1228.7" r="4" fill="url(#gY)"/>
<circle cx="781" cy="1068.6" r="3.6" fill="url(#gY)"/>
<ellipse cx="266" cy="1192" rx="56" ry="32" fill="url(#gG)"/>
<circle cx="241.2" cy="1188.6" r="28" fill="url(#gG)"/>
<circle cx="240.7" cy="1188.6" r="7.3" fill="#ea3323"/>
<circle cx="746.5" cy="1361" r="9" fill="url(#gY)"/>
<circle cx="796.5" cy="1399" r="7" fill="url(#gY)"/>
<circle cx="737" cy="1015" r="7" fill="url(#gY)"/>
<circle cx="722" cy="1454.5" r="6.5" fill="url(#gY)"/>
<circle cx="471" cy="1061.5" r="6" fill="url(#gY)"/>
<circle cx="399" cy="950" r="6" fill="url(#gY)"/>
<circle cx="357.5" cy="973" r="5.5" fill="url(#gY)"/>
<circle cx="568" cy="953" r="6" fill="url(#gY)"/>
<circle cx="720" cy="951" r="6" fill="url(#gY)"/>
<circle cx="188.5" cy="1350" r="6" fill="url(#gY)"/>
<circle cx="219.5" cy="1363" r="5.5" fill="url(#gY)"/>
<circle cx="751.5" cy="1227" r="5.5" fill="url(#gY)"/>
<circle cx="516.5" cy="1463.5" r="6" fill="url(#gY)"/>
<circle cx="554.5" cy="1545" r="6" fill="url(#gY)"/>
<circle cx="668" cy="1574" r="6" fill="url(#gY)"/>
<circle cx="191" cy="1416.5" r="6" fill="url(#gY)"/>
<circle cx="158.5" cy="1245.5" r="5.5" fill="url(#gY)"/>
<circle cx="214" cy="1083" r="5" fill="url(#gY)"/>
<circle cx="260" cy="1138.5" r="5" fill="url(#gY)"/>
<circle cx="248" cy="1140" r="4.5" fill="url(#gY)"/>
<circle cx="734" cy="1565" r="7" fill="url(#gY)"/>
<circle cx="778" cy="1568" r="6.5" fill="url(#gY)"/>
<circle cx="640" cy="1044" r="5" fill="url(#gY)"/>
<circle cx="660" cy="1172" r="5" fill="url(#gY)"/>
<circle cx="432" cy="1086" r="5" fill="url(#gY)"/>
<circle cx="746.5" cy="1361" r="16" fill="url(#gG)"/>
<circle cx="746.5" cy="1361" r="10" fill="url(#gY)"/>
<path d="M746.5 1352.5l7 8.5l-7 8.5l-7 -8.5z" fill="#fffbe8"/>
</g>
<path d="M476 1448.8A374 233.8 0 0 0 850 1215A374 233.8 0 0 0 476 981.2A374 233.8 0 0 0 102 1215A374 233.8 0 0 0 476 1448.8" fill="none" stroke="#fff" stroke-width="2.8" stroke-dasharray="5 3.1" clip-path="url(#clip3)"/>
<path d="M470.6 1212.6l10.7 10.7M470.6 1223.4l10.7 -10.7" stroke="#fff" stroke-width="2.3" fill="none"/>
<circle cx="240.8" cy="1188.7" r="11.7" fill="none" stroke="#fff" stroke-width="2.7"/>
<circle cx="240.8" cy="1188.7" r="5.6" fill="#75fb4c"/><circle cx="240.8" cy="1188.7" r="1.8" fill="#ffffff"/>
<text x="240.8" y="1167.2" font-family="'Liberation Serif', serif" font-size="25.4" font-weight="bold" fill="#fff" text-anchor="middle" stroke="#fff" stroke-width="0.3">HD 130079</text>
<circle cx="653.1" cy="1220.8" r="11.7" fill="none" stroke="#fff" stroke-width="2.7"/>
<text x="652.6" y="1200.1" font-family="'Liberation Serif', serif" font-size="25.4" font-weight="bold" fill="#fff" text-anchor="middle" stroke="#fff" stroke-width="0.3">C1</text>
<circle cx="472.1" cy="1164.3" r="11.7" fill="none" stroke="#fff" stroke-width="2.7"/>
<text x="471.6" y="1143.6" font-family="'Liberation Serif', serif" font-size="25.4" font-weight="bold" fill="#fff" text-anchor="middle" stroke="#fff" stroke-width="0.3">C2</text>
<circle cx="283.5" cy="1311.3" r="11.7" fill="none" stroke="#fff" stroke-width="2.7"/>
<text x="283" y="1290.9" font-family="'Liberation Serif', serif" font-size="25.4" font-weight="bold" fill="#fff" text-anchor="middle" stroke="#fff" stroke-width="0.3">C3</text>
<circle cx="532" cy="1059.4" r="4.6" fill="#75fb4c"/><circle cx="532" cy="1059.4" r="1.5" fill="#a0ff90"/>
<text x="530.3" y="1046.1" font-family="'Liberation Serif', serif" font-size="21.5" font-weight="bold" fill="#75fb4c" text-anchor="middle" stroke="#75fb4c" stroke-width="0.3">TYC 9015-926-1</text>
<path d="M528.9 1489.8h9.8M533.8 1484.9v9.8" stroke="#fff" stroke-width="1.6" fill="none"/>
<text x="533.8" y="1475.6" font-family="'Liberation Sans', sans-serif" font-size="22.5" font-weight="normal" fill="#fff" text-anchor="middle">S</text>
<text x="606" y="1507" font-family="'Liberation Serif', serif" font-size="32.5" font-weight="bold" fill="#fff" text-anchor="start" stroke="#fff" stroke-width="0.3">DSS Red</text>
<path d="M147.3 918.3h4.9M813.5 918.3h-4.9M147.3 941.7h10.1M813.5 941.7h-10.1M147.3 965.1h4.9M813.5 965.1h-4.9M147.3 988.5h4.9M813.5 988.5h-4.9M147.3 1011.9h4.9M813.5 1011.9h-4.9M147.3 1035.2h10.1M813.5 1035.2h-10.1M147.3 1058.6h4.9M813.5 1058.6h-4.9M147.3 1082h4.9M813.5 1082h-4.9M147.3 1105.4h4.9M813.5 1105.4h-4.9M147.3 1128.8h10.1M813.5 1128.8h-10.1M147.3 1152.2h4.9M813.5 1152.2h-4.9M147.3 1175.6h4.9M813.5 1175.6h-4.9M147.3 1199h4.9M813.5 1199h-4.9M147.3 1222.3h10.1M813.5 1222.3h-10.1M147.3 1245.7h4.9M813.5 1245.7h-4.9M147.3 1269.1h4.9M813.5 1269.1h-4.9M147.3 1292.5h4.9M813.5 1292.5h-4.9M147.3 1315.9h10.1M813.5 1315.9h-10.1M147.3 1339.3h4.9M813.5 1339.3h-4.9M147.3 1362.7h4.9M813.5 1362.7h-4.9M147.3 1386.1h4.9M813.5 1386.1h-4.9M147.3 1409.5h10.1M813.5 1409.5h-10.1M147.3 1432.8h4.9M813.5 1432.8h-4.9M147.3 1456.2h4.9M813.5 1456.2h-4.9M147.3 1479.6h4.9M813.5 1479.6h-4.9M147.3 1503h10.1M813.5 1503h-10.1M147.3 1526.4h4.9M813.5 1526.4h-4.9M147.3 1549.8h4.9M813.5 1549.8h-4.9M147.3 1573.2h4.9M813.5 1573.2h-4.9M152.9 1578.5v-4.9M173 914.4v10.1M177.3 1578.5v-10.1M197.6 914.4v4.9M201.7 1578.5v-4.9M222.3 914.4v4.9M226.1 1578.5v-4.9M246.9 914.4v4.9M250.4 1578.5v-4.9M271.5 914.4v4.9M274.8 1578.5v-4.9M296.2 914.4v4.9M299.2 1578.5v-4.9M320.8 914.4v10.1M323.6 1578.5v-10.1M345.4 914.4v4.9M348 1578.5v-4.9M370.1 914.4v4.9M372.4 1578.5v-4.9M394.7 914.4v4.9M396.8 1578.5v-4.9M419.3 914.4v4.9M421.1 1578.5v-4.9M444 914.4v4.9M445.5 1578.5v-4.9M468.6 914.4v10.1M469.9 1578.5v-10.1M493.2 914.4v4.9M494.3 1578.5v-4.9M517.9 914.4v4.9M518.7 1578.5v-4.9M542.5 914.4v4.9M543 1578.5v-4.9M567.1 914.4v4.9M567.4 1578.5v-4.9M591.8 914.4v4.9M591.8 1578.5v-4.9M616.4 914.4v10.1M616.2 1578.5v-10.1M641 914.4v4.9M640.6 1578.5v-4.9M665.7 914.4v4.9M665 1578.5v-4.9M690.3 914.4v4.9M689.4 1578.5v-4.9M714.9 914.4v4.9M713.7 1578.5v-4.9M739.6 914.4v4.9M738.1 1578.5v-4.9M764.2 914.4v10.1M762.5 1578.5v-10.1M788.8 914.4v4.9M786.9 1578.5v-4.9" stroke="#000" stroke-width="2.1" fill="none"/>
<rect x="147.3" y="914.4" width="666.2" height="664.1" fill="none" stroke="#000" stroke-width="2.5"/>
<text x="140.3" y="957" font-family="'Liberation Serif', serif" font-size="26.2" font-weight="bold" fill="#000" text-anchor="end" stroke="#000" stroke-width="0.45">10:00</text>
<text x="140.3" y="1050.5" font-family="'Liberation Serif', serif" font-size="26.2" font-weight="bold" fill="#000" text-anchor="end" stroke="#000" stroke-width="0.45">12:00</text>
<text x="140.3" y="1144.1" font-family="'Liberation Serif', serif" font-size="26.2" font-weight="bold" fill="#000" text-anchor="end" stroke="#000" stroke-width="0.45">14:00</text>
<text x="140.3" y="1237.6" font-family="'Liberation Serif', serif" font-size="26.2" font-weight="bold" fill="#000" text-anchor="end" stroke="#000" stroke-width="0.45">16:00</text>
<text x="140.3" y="1331.2" font-family="'Liberation Serif', serif" font-size="26.2" font-weight="bold" fill="#000" text-anchor="end" stroke="#000" stroke-width="0.45">18:00</text>
<text x="140.3" y="1424.8" font-family="'Liberation Serif', serif" font-size="26.2" font-weight="bold" fill="#000" text-anchor="end" stroke="#000" stroke-width="0.45">-65:20:00</text>
<text x="140.3" y="1518.3" font-family="'Liberation Serif', serif" font-size="26.2" font-weight="bold" fill="#000" text-anchor="end" stroke="#000" stroke-width="0.45">22:00</text>
<text x="177.7" y="1616" font-family="'Liberation Serif', serif" font-size="26.2" font-weight="bold" fill="#000" text-anchor="middle" stroke="#000" stroke-width="0.45">30</text>
<text x="323.6" y="1616" font-family="'Liberation Serif', serif" font-size="26.2" font-weight="bold" fill="#000" text-anchor="middle" stroke="#000" stroke-width="0.45">14:49:00</text>
<text x="469.5" y="1616" font-family="'Liberation Serif', serif" font-size="26.2" font-weight="bold" fill="#000" text-anchor="middle" stroke="#000" stroke-width="0.45">30</text>
<text x="615.4" y="1616" font-family="'Liberation Serif', serif" font-size="26.2" font-weight="bold" fill="#000" text-anchor="middle" stroke="#000" stroke-width="0.45">48:00</text>
<text x="761.3" y="1616" font-family="'Liberation Serif', serif" font-size="26.2" font-weight="bold" fill="#000" text-anchor="middle" stroke="#000" stroke-width="0.45">47:30</text>
<text x="479.7" y="1692" font-family="'Liberation Serif', serif" font-size="39.1" font-weight="bold" fill="#000" text-anchor="middle" stroke="#000" stroke-width="0.45">Right Ascension [J2000]</text>
<text x="0" y="0" transform="translate(31,1246.5) rotate(-90)" font-family="'Liberation Serif', serif" font-size="39.1" font-weight="bold" fill="#000" text-anchor="middle" stroke="#000" stroke-width="0.45">Declination [J2000]</text>
<rect x="833.9" y="902.1" width="54.1" height="831.9" fill="url(#cbg)" stroke="#333" stroke-width="1"/>
<path d="M888 1041.1h4" stroke="#222" stroke-width="1"/>
<text x="894.2" y="1049.8" font-family="'Liberation Serif', serif" font-size="26" font-weight="bold" fill="#000" text-anchor="start" stroke="#000" stroke-width="0.45">19676</text>
<path d="M888 1180.8h4" stroke="#222" stroke-width="1"/>
<text x="894.2" y="1189.5" font-family="'Liberation Serif', serif" font-size="26" font-weight="bold" fill="#000" text-anchor="start" stroke="#000" stroke-width="0.45">16333</text>
<path d="M888 1320.5h4" stroke="#222" stroke-width="1"/>
<text x="894.2" y="1329.2" font-family="'Liberation Serif', serif" font-size="26" font-weight="bold" fill="#000" text-anchor="start" stroke="#000" stroke-width="0.45">13010</text>
<path d="M888 1460.2h4" stroke="#222" stroke-width="1"/>
<text x="894.2" y="1468.9" font-family="'Liberation Serif', serif" font-size="26" font-weight="bold" fill="#000" text-anchor="start" stroke="#000" stroke-width="0.45">9667</text>
<path d="M888 1599.9h4" stroke="#222" stroke-width="1"/>
<text x="894.2" y="1608.6" font-family="'Liberation Serif', serif" font-size="26" font-weight="bold" fill="#000" text-anchor="start" stroke="#000" stroke-width="0.45">6324</text>
<text x="0" y="0" transform="translate(1001,1312) rotate(-90)" font-family="'Liberation Serif', serif" font-size="37.7" font-weight="bold" fill="#000" text-anchor="middle" stroke="#000" stroke-width="0.45">MJy/sr</text>
</g>
<g id="panel4">
<rect x="1203.2" y="890.3" width="676.4" height="676.7" fill="#0000d5"/>
<g clip-path="url(#frame4)">
<polygon points="1203,890 1342.5,890 1229,1210 1203,1285" fill="#000098"/>
<polygon points="1203,890 1256,890 1203,1009" fill="#000013"/>
<polygon points="1203,1411.7 1242.2,1423.9 1530,1533.7 1620,1567 1203,1567" fill="#000098"/>
<polygon points="1203,1435 1215.4,1454.4 1232.4,1483.7 1449.5,1567 1203,1567" fill="#000013"/>
<path d="M1880 1518 Q1868 1545 1859 1567 L1880 1567z" fill="#000098"/>
<rect x="1203.2" y="890.3" width="676.4" height="676.7" filter="url(#n4)" opacity="0.36"/>
<circle cx="1294.6" cy="1170.4" r="32" fill="url(#gHR)"/>
<circle cx="1633.7" cy="922.9" r="4.5" fill="url(#gS)"/>
<circle cx="1808.5" cy="987.6" r="5" fill="url(#gS)"/>
<circle cx="1856.6" cy="977" r="4.5" fill="url(#gS)"/>
<circle cx="1718.5" cy="1483" r="5" fill="url(#gS)"/>
<circle cx="1620.8" cy="1538" r="5" fill="url(#gS)"/>
<circle cx="1737" cy="1564" r="4.5" fill="url(#gS)"/>
<circle cx="1582.5" cy="1453.5" r="3.5" fill="url(#gS)"/>
<circle cx="1241.5" cy="1335.5" r="3.2" fill="url(#gS)"/>
<circle cx="1244.5" cy="1405" r="3.2" fill="url(#gS)"/>
<circle cx="1877.5" cy="1507" r="4" fill="url(#gS)"/>
</g>
<path d="M1536 1439A387.2 242 0 0 0 1923.2 1197A387.2 242 0 0 0 1536 955A387.2 242 0 0 0 1148.8 1197A387.2 242 0 0 0 1536 1439" fill="none" stroke="#fff" stroke-width="2.9" stroke-dasharray="5.2 3.2" clip-path="url(#clip4)"/>
<path d="M1531.3 1194l11.1 11.1M1531.3 1205.2l11.1 -11.1" stroke="#fff" stroke-width="2.4" fill="none"/>
<circle cx="1293.9" cy="1169" r="12.1" fill="none" stroke="#fff" stroke-width="2.8"/>
<circle cx="1293.9" cy="1169" r="5" fill="#75fb4c"/><circle cx="1293.9" cy="1169" r="1.8" fill="#e8ffe0"/>
<text x="1293.9" y="1147.2" font-family="'Liberation Serif', serif" font-size="26.3" font-weight="bold" fill="#fff" text-anchor="middle" stroke="#fff" stroke-width="0.3">HD 130079</text>
<circle cx="1720.2" cy="1202.6" r="12.1" fill="none" stroke="#fff" stroke-width="2.8"/>
<text x="1719.7" y="1181.1" font-family="'Liberation Serif', serif" font-size="26.3" font-weight="bold" fill="#fff" text-anchor="middle" stroke="#fff" stroke-width="0.3">C1</text>
<circle cx="1532.8" cy="1144" r="12.1" fill="none" stroke="#fff" stroke-width="2.8"/>
<text x="1532.3" y="1122.9" font-family="'Liberation Serif', serif" font-size="26.3" font-weight="bold" fill="#fff" text-anchor="middle" stroke="#fff" stroke-width="0.3">C2</text>
<circle cx="1338.5" cy="1296.8" r="12.1" fill="none" stroke="#fff" stroke-width="2.8"/>
<text x="1338" y="1275" font-family="'Liberation Serif', serif" font-size="26.3" font-weight="bold" fill="#fff" text-anchor="middle" stroke="#fff" stroke-width="0.3">C3</text>
<circle cx="1595.4" cy="1035.5" r="5.4" fill="#75fb4c"/><circle cx="1595.4" cy="1035.5" r="2" fill="#f0d860"/>
<text x="1593.6" y="1021.5" font-family="'Liberation Serif', serif" font-size="22.3" font-weight="bold" fill="#75fb4c" text-anchor="middle" stroke="#75fb4c" stroke-width="0.3">TYC 9015-926-1</text>
<path d="M1591.4 1480.7h10.1M1596.5 1475.6v10.1" stroke="#fff" stroke-width="1.6" fill="none"/>
<text x="1596.5" y="1465.9" font-family="'Liberation Sans', sans-serif" font-size="23.3" font-weight="normal" fill="#fff" text-anchor="middle">S</text>
<text x="1644" y="1499.6" font-family="'Liberation Serif', serif" font-size="34.1" font-weight="bold" fill="#fff" text-anchor="start" stroke="#fff" stroke-width="0.3">Swift UVOT</text>
<path d="M1203.2 913.9h10.4M1879.6 913.9h-10.4M1203.2 938.1h5.1M1879.6 938.1h-5.1M1203.2 962.3h5.1M1879.6 962.3h-5.1M1203.2 986.5h5.1M1879.6 986.5h-5.1M1203.2 1010.7h10.4M1879.6 1010.7h-10.4M1203.2 1034.9h5.1M1879.6 1034.9h-5.1M1203.2 1059.1h5.1M1879.6 1059.1h-5.1M1203.2 1083.3h5.1M1879.6 1083.3h-5.1M1203.2 1107.5h10.4M1879.6 1107.5h-10.4M1203.2 1131.7h5.1M1879.6 1131.7h-5.1M1203.2 1155.9h5.1M1879.6 1155.9h-5.1M1203.2 1180.1h5.1M1879.6 1180.1h-5.1M1203.2 1204.3h10.4M1879.6 1204.3h-10.4M1203.2 1228.5h5.1M1879.6 1228.5h-5.1M1203.2 1252.7h5.1M1879.6 1252.7h-5.1M1203.2 1276.9h5.1M1879.6 1276.9h-5.1M1203.2 1301.1h10.4M1879.6 1301.1h-10.4M1203.2 1325.3h5.1M1879.6 1325.3h-5.1M1203.2 1349.5h5.1M1879.6 1349.5h-5.1M1203.2 1373.7h5.1M1879.6 1373.7h-5.1M1203.2 1397.9h10.4M1879.6 1397.9h-10.4M1203.2 1422.1h5.1M1879.6 1422.1h-5.1M1203.2 1446.3h5.1M1879.6 1446.3h-5.1M1203.2 1470.5h5.1M1879.6 1470.5h-5.1M1203.2 1494.7h10.4M1879.6 1494.7h-10.4M1203.2 1518.9h5.1M1879.6 1518.9h-5.1M1203.2 1543.1h5.1M1879.6 1543.1h-5.1M1225.2 890.3v10.4M1228.5 1567v-10.4M1250.6 890.3v5.1M1253.7 1567v-5.1M1276 890.3v5.1M1278.8 1567v-5.1M1301.4 890.3v5.1M1304 1567v-5.1M1326.8 890.3v5.1M1329.2 1567v-5.1M1352.2 890.3v5.1M1354.3 1567v-5.1M1377.6 890.3v10.4M1379.5 1567v-10.4M1403 890.3v5.1M1404.7 1567v-5.1M1428.4 890.3v5.1M1429.8 1567v-5.1M1453.8 890.3v5.1M1455 1567v-5.1M1479.2 890.3v5.1M1480.2 1567v-5.1M1504.6 890.3v5.1M1505.3 1567v-5.1M1530 890.3v10.4M1530.5 1567v-10.4M1555.4 890.3v5.1M1555.7 1567v-5.1M1580.8 890.3v5.1M1580.8 1567v-5.1M1606.2 890.3v5.1M1606 1567v-5.1M1631.6 890.3v5.1M1631.2 1567v-5.1M1657 890.3v5.1M1656.3 1567v-5.1M1682.4 890.3v10.4M1681.5 1567v-10.4M1707.8 890.3v5.1M1706.7 1567v-5.1M1733.2 890.3v5.1M1731.8 1567v-5.1M1758.6 890.3v5.1M1757 1567v-5.1M1784 890.3v5.1M1782.2 1567v-5.1M1809.4 890.3v5.1M1807.3 1567v-5.1M1834.8 890.3v10.4M1832.5 1567v-10.4M1860.2 890.3v5.1M1857.7 1567v-5.1" stroke="#fff" stroke-width="2.2" fill="none"/>
<rect x="1203.2" y="890.3" width="676.4" height="676.7" fill="none" stroke="#000" stroke-width="2.5"/>
<text x="1196" y="929.2" font-family="'Liberation Serif', serif" font-size="27.1" font-weight="bold" fill="#000" text-anchor="end" stroke="#000" stroke-width="0.45">10:00</text>
<text x="1196" y="1026" font-family="'Liberation Serif', serif" font-size="27.1" font-weight="bold" fill="#000" text-anchor="end" stroke="#000" stroke-width="0.45">12:00</text>
<text x="1196" y="1122.8" font-family="'Liberation Serif', serif" font-size="27.1" font-weight="bold" fill="#000" text-anchor="end" stroke="#000" stroke-width="0.45">14:00</text>
<text x="1196" y="1219.6" font-family="'Liberation Serif', serif" font-size="27.1" font-weight="bold" fill="#000" text-anchor="end" stroke="#000" stroke-width="0.45">16:00</text>
<text x="1196" y="1316.4" font-family="'Liberation Serif', serif" font-size="27.1" font-weight="bold" fill="#000" text-anchor="end" stroke="#000" stroke-width="0.45">18:00</text>
<text x="1196" y="1413.2" font-family="'Liberation Serif', serif" font-size="27.1" font-weight="bold" fill="#000" text-anchor="end" stroke="#000" stroke-width="0.45">-65:20:00</text>
<text x="1196" y="1510" font-family="'Liberation Serif', serif" font-size="27.1" font-weight="bold" fill="#000" text-anchor="end" stroke="#000" stroke-width="0.45">22:00</text>
<text x="1228.3" y="1605.2" font-family="'Liberation Serif', serif" font-size="27.1" font-weight="bold" fill="#000" text-anchor="middle" stroke="#000" stroke-width="0.45">30</text>
<text x="1379.3" y="1605.2" font-family="'Liberation Serif', serif" font-size="27.1" font-weight="bold" fill="#000" text-anchor="middle" stroke="#000" stroke-width="0.45">14:49:00</text>
<text x="1530.3" y="1605.2" font-family="'Liberation Serif', serif" font-size="27.1" font-weight="bold" fill="#000" text-anchor="middle" stroke="#000" stroke-width="0.45">30</text>
<text x="1681.3" y="1605.2" font-family="'Liberation Serif', serif" font-size="27.1" font-weight="bold" fill="#000" text-anchor="middle" stroke="#000" stroke-width="0.45">48:00</text>
<text x="1832.3" y="1605.2" font-family="'Liberation Serif', serif" font-size="27.1" font-weight="bold" fill="#000" text-anchor="middle" stroke="#000" stroke-width="0.45">47:30</text>
<text x="1541.2" y="1684.3" font-family="'Liberation Serif', serif" font-size="40.5" font-weight="bold" fill="#000" text-anchor="middle" stroke="#000" stroke-width="0.45">Right Ascension [J2000]</text>
<text x="0" y="0" transform="translate(1082.6,1228.8) rotate(-90)" font-family="'Liberation Serif', serif" font-size="40.5" font-weight="bold" fill="#000" text-anchor="middle" stroke="#000" stroke-width="0.45">Declination [J2000]</text>
<rect x="1907.3" y="872.7" width="56.1" height="864.6" fill="url(#cbg)" stroke="#333" stroke-width="1"/>
<path d="M1963.4 1014.5h4" stroke="#222" stroke-width="1"/>
<text x="1970" y="1023.7" font-family="'Liberation Serif', serif" font-size="27.6" font-weight="bold" fill="#000" text-anchor="start" stroke="#000" stroke-width="0.45">316</text>
<path d="M1963.4 1159.5h4" stroke="#222" stroke-width="1"/>
<text x="1970" y="1168.7" font-family="'Liberation Serif', serif" font-size="27.6" font-weight="bold" fill="#000" text-anchor="start" stroke="#000" stroke-width="0.45">99</text>
<path d="M1963.4 1304.5h4" stroke="#222" stroke-width="1"/>
<text x="1970" y="1313.7" font-family="'Liberation Serif', serif" font-size="27.6" font-weight="bold" fill="#000" text-anchor="start" stroke="#000" stroke-width="0.45">31</text>
<path d="M1963.4 1449.5h4" stroke="#222" stroke-width="1"/>
<text x="1970" y="1458.7" font-family="'Liberation Serif', serif" font-size="27.6" font-weight="bold" fill="#000" text-anchor="start" stroke="#000" stroke-width="0.45">9</text>
<path d="M1963.4 1594.6h4" stroke="#222" stroke-width="1"/>
<text x="1970" y="1603.8" font-family="'Liberation Serif', serif" font-size="27.6" font-weight="bold" fill="#000" text-anchor="start" stroke="#000" stroke-width="0.45">2</text>
<text x="0" y="0" transform="translate(2040.3,1315.4) rotate(-90)" font-family="'Liberation Serif', serif" font-size="38.8" font-weight="bold" fill="#000" text-anchor="middle" stroke="#000" stroke-width="0.45">MJy/sr</text>
</g>
</svg>
</body></html>
